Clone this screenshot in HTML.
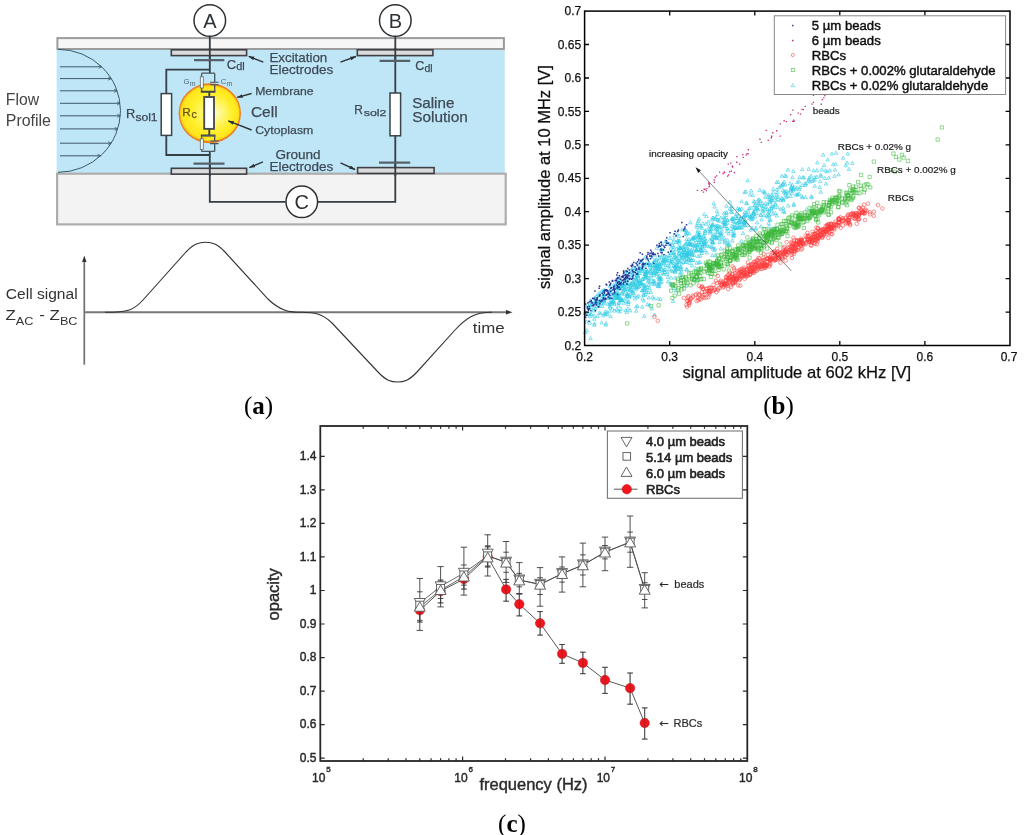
<!DOCTYPE html>
<html lang="en"><head><meta charset="utf-8"><title>Figure</title>
<style>
html,body{margin:0;padding:0;background:#fff;}
body{width:1024px;height:835px;overflow:hidden;}
svg{display:block;font-family:"Liberation Sans",Arial,sans-serif;}
.ser{font-family:"Liberation Serif","Times New Roman",serif;font-weight:bold;font-size:25px;fill:#000;}
.sch{fill:#3f4a55;}
.w{stroke:#353d44;stroke-width:1.8;fill:none;}
.tk{font-size:12px;fill:#111;stroke:#111;stroke-width:0.25px;}
.tk2{font-size:12px;fill:#262626;stroke:#262626;stroke-width:0.4px;}
</style></head><body>
<svg width="1024" height="835" viewBox="0 0 1024 835">
<defs>
<radialGradient id="cellg" cx="0.5" cy="0.5" r="0.5" fx="0.6" fy="0.5">
<stop offset="0" stop-color="#fffbc0"/><stop offset="0.35" stop-color="#fff66e"/><stop offset="0.7" stop-color="#ffee28"/><stop offset="0.93" stop-color="#ffe61c"/><stop offset="1" stop-color="#fbc41c"/>
</radialGradient>
<marker id="ah" viewBox="0 0 10 10" refX="9" refY="5" markerUnits="userSpaceOnUse" markerWidth="6.2" markerHeight="6.2" orient="auto"><path d="M0 2L10 5L0 8z" fill="#2a3034"/></marker>
<marker id="ah2" viewBox="0 0 10 10" refX="9" refY="5" markerUnits="userSpaceOnUse" markerWidth="5.8" markerHeight="5.8" orient="auto"><path d="M0 1.8L10 5L0 8.2z" fill="#1a1a1a"/></marker>
<filter id="soft" x="-2%" y="-2%" width="104%" height="104%"><feGaussianBlur stdDeviation="0.55"/></filter>
</defs>
<rect width="1024" height="835" fill="#fff"/>
<g filter="url(#soft)">

<g id="schematic">
<rect x="56.6" y="49" width="448.2" height="124" fill="#bfe6f7"/>
<rect x="57.4" y="38.1" width="446.5" height="10.9" fill="#f6f6f6" stroke="#9c9c9c" stroke-width="2"/>
<rect x="57.1" y="173.7" width="448.6" height="50.7" fill="#f3f3f3" stroke="#adadad" stroke-width="2.2"/>
<path d="M58 49.3 A62.5 61.5 0 0 1 58 172.3" fill="none" stroke="#3d5a6a" stroke-width="1"/>
<path d="M60 66.8 H101.7" stroke="#3d5a6a" stroke-width="1" fill="none"/>
<path d="M101.7 66.8 l-3 -1.6 M101.7 66.8 l-3 1.6" stroke="#3d5a6a" stroke-width="0.8" fill="none"/>
<path d="M60 78.6 H111.2" stroke="#3d5a6a" stroke-width="1" fill="none"/>
<path d="M111.2 78.6 l-3 -1.6 M111.2 78.6 l-3 1.6" stroke="#3d5a6a" stroke-width="0.8" fill="none"/>
<path d="M60 90.8 H117.1" stroke="#3d5a6a" stroke-width="1" fill="none"/>
<path d="M117.1 90.8 l-3 -1.6 M117.1 90.8 l-3 1.6" stroke="#3d5a6a" stroke-width="0.8" fill="none"/>
<path d="M60 103.3 H120" stroke="#3d5a6a" stroke-width="1" fill="none"/>
<path d="M120 103.3 l-3 -1.6 M120 103.3 l-3 1.6" stroke="#3d5a6a" stroke-width="0.8" fill="none"/>
<path d="M60 115.8 H120.3" stroke="#3d5a6a" stroke-width="1" fill="none"/>
<path d="M120.3 115.8 l-3 -1.6 M120.3 115.8 l-3 1.6" stroke="#3d5a6a" stroke-width="0.8" fill="none"/>
<path d="M60 128.9 H117.7" stroke="#3d5a6a" stroke-width="1" fill="none"/>
<path d="M117.7 128.9 l-3 -1.6 M117.7 128.9 l-3 1.6" stroke="#3d5a6a" stroke-width="0.8" fill="none"/>
<path d="M60 143.2 H111.1" stroke="#3d5a6a" stroke-width="1" fill="none"/>
<path d="M111.1 143.2 l-3 -1.6 M111.1 143.2 l-3 1.6" stroke="#3d5a6a" stroke-width="0.8" fill="none"/>
<path d="M60 155.8 H100.6" stroke="#3d5a6a" stroke-width="1" fill="none"/>
<path d="M100.6 155.8 l-3 -1.6 M100.6 155.8 l-3 1.6" stroke="#3d5a6a" stroke-width="0.8" fill="none"/>
<text x="5.8" y="105.2" font-size="16" fill="#444" textLength="33.4" lengthAdjust="spacingAndGlyphs">Flow</text>
<text x="5.8" y="125.9" font-size="16" fill="#444" textLength="45.2" lengthAdjust="spacingAndGlyphs">Profile</text>
<path class="w" d="M209.8 36 V73.2 M209.8 151.4 V201.8 H285.5 M318 201.8 H395.3 V36"/>
<path class="w" d="M209.8 69.6 H166.3 V155 H209.8"/>
<rect x="171.3" y="49.8" width="75.3" height="5.8" fill="#dadada" stroke="#3c4144" stroke-width="1.6"/>
<rect x="171.3" y="168.3" width="75.3" height="5.8" fill="#dadada" stroke="#3c4144" stroke-width="1.6"/>
<rect x="357.3" y="49.8" width="75.6" height="5.8" fill="#dadada" stroke="#3c4144" stroke-width="1.6"/>
<rect x="357.6" y="167.6" width="76.5" height="5.8" fill="#dadada" stroke="#3c4144" stroke-width="1.6"/>
<path class="w" d="M209.8 48 V62 M209.8 163 V176 M395.3 48 V62 M395.3 161 V176"/>
<path d="M194 60.2 H224.3 M193.5 163.6 H224.5 M379.6 60.8 H410.2 M379 162.6 H410.2" stroke="#56626a" stroke-width="2.2" fill="none"/>
<ellipse cx="209.8" cy="113.2" rx="31.2" ry="30" fill="#ec7f1e"/>
<ellipse cx="209.8" cy="113.2" rx="29.9" ry="28.3" fill="url(#cellg)"/>
<rect x="161.2" y="93.6" width="10.4" height="41.8" fill="#fff" stroke="#3a4248" stroke-width="1.5"/>
<rect x="390" y="93" width="10.6" height="42.8" fill="#fff" stroke="#3a4248" stroke-width="1.5"/>
<path class="w" d="M209.3 91.6 V97 M209.3 129 V135.6"/>
<rect x="204.2" y="97" width="9.8" height="31.9" fill="#fff" stroke="#4a4f50" stroke-width="1.9"/>
<path d="M201.6 73.2 H214.7 M201.6 73.2 V77 M201.6 88 V91.6 M214.7 73.2 V82 M214.7 84.8 V91.6" stroke="#46555c" stroke-width="1.3" fill="none"/>
<path d="M200.8 91.8 H215.4 M200.8 135.4 H215.4" stroke="#3c474c" stroke-width="2" fill="none"/>
<rect x="200.3" y="76.8" width="3" height="11.2" fill="#f4fafc" stroke="#5a6a70" stroke-width="0.8"/>
<path d="M210 82.2 H218.6 M210 84.8 H218.6" stroke="#46555c" stroke-width="1.1"/>
<path d="M201 135.6 H215.2 M201.6 135.6 V139 M201.6 149.4 V151.4 M214.7 135.6 V141 M214.7 143.6 V151.4 M201.6 151.4 H214.7" stroke="#46555c" stroke-width="1.3" fill="none"/>
<rect x="200.3" y="138.8" width="3" height="10.6" fill="#f4fafc" stroke="#5a6a70" stroke-width="0.8"/>
<path d="M210 141 H218.6 M210 143.6 H218.6" stroke="#46555c" stroke-width="1.1"/>
<circle cx="209.8" cy="20.5" r="15.8" fill="#fff" stroke="#2d3236" stroke-width="1.5"/>
<text x="209.8" y="27.7" font-size="20" text-anchor="middle" fill="#2d3236">A</text>
<circle cx="395.3" cy="20.5" r="15.8" fill="#fff" stroke="#2d3236" stroke-width="1.5"/>
<text x="395.3" y="27.7" font-size="20" text-anchor="middle" fill="#2d3236">B</text>
<circle cx="301.8" cy="201.8" r="15.8" fill="#fff" stroke="#2d3236" stroke-width="1.5"/>
<text x="301.8" y="209.0" font-size="20" text-anchor="middle" fill="#2d3236">C</text>
<g class="sch" stroke="#3f4a55" stroke-width="0.25">
<text x="226.8" y="68.7" font-size="13">C<tspan font-size="11" dy="1.5">dl</tspan></text>
<text x="415.3" y="69.6" font-size="12.6">C<tspan font-size="10.5" dy="2.2">dl</tspan></text>
<text x="269.4" y="62.2" font-size="13.4" textLength="57.9" lengthAdjust="spacingAndGlyphs">Excitation</text>
<text x="269.4" y="73.6" font-size="13.4" textLength="63.8" lengthAdjust="spacingAndGlyphs">Electrodes</text>
<text x="255.2" y="94.8" font-size="11.4" textLength="58.4" lengthAdjust="spacingAndGlyphs">Membrane</text>
<text x="250.9" y="117" font-size="15" textLength="26.7" lengthAdjust="spacingAndGlyphs">Cell</text>
<text x="255.2" y="133.8" font-size="11.4" textLength="58.1" lengthAdjust="spacingAndGlyphs">Cytoplasm</text>
<text x="275.4" y="159.3" font-size="13.4" textLength="45.2" lengthAdjust="spacingAndGlyphs">Ground</text>
<text x="269.4" y="171" font-size="13.4" textLength="63.8" lengthAdjust="spacingAndGlyphs">Electrodes</text>
<text x="412.2" y="108.3" font-size="14.4" textLength="42.2" lengthAdjust="spacingAndGlyphs">Saline</text>
<text x="412.2" y="122.4" font-size="14.4" textLength="55.6" lengthAdjust="spacingAndGlyphs">Solution</text>
<text x="126" y="118.3" font-size="12.8">R</text>
<text x="135.4" y="121" font-size="10.6" textLength="22.2" lengthAdjust="spacingAndGlyphs">sol1</text>
<text x="354.3" y="113.8" font-size="11.9">R</text>
<text x="363.7" y="116.3" font-size="9.4" textLength="22.8" lengthAdjust="spacingAndGlyphs">sol2</text>
<text x="182.3" y="115.6" font-size="11.8" fill="#62521e" stroke="#62521e">R<tspan font-size="10.5" dy="2.6" dx="0.6">c</tspan></text>
<text x="183.6" y="84.3" font-size="7.6" fill="#4a6470" stroke="none">G<tspan font-size="6.6" dy="1.6" dx="0.4">m</tspan></text>
<text x="220.8" y="84.3" font-size="7.6" fill="#4a6470" stroke="none">C<tspan font-size="6.6" dy="1.6" dx="0.4">m</tspan></text>
</g>
<path d="M263.3 62.2 L248.8 56.4" stroke="#2f3538" stroke-width="1.4" marker-end="url(#ah)"/>
<path d="M251.6 93.5 L237.2 97.4" stroke="#2f3538" stroke-width="1.4" marker-end="url(#ah)"/>
<path d="M251.6 130 L228.3 120.9" stroke="#2f3538" stroke-width="1.4" marker-end="url(#ah)"/>
<path d="M262.9 161.8 L249.4 167.6" stroke="#2f3538" stroke-width="1.4" marker-end="url(#ah)"/>
<path d="M340.5 62.2 L355.9 56.5" stroke="#2f3538" stroke-width="1.4" marker-end="url(#ah)"/>
<path d="M340.5 162.8 L355 169.5" stroke="#2f3538" stroke-width="1.4" marker-end="url(#ah)"/>
</g>
<g id="signal">
<path d="M84.3 364.7 V259" stroke="#707070" stroke-width="1.7" fill="none"/>
<path d="M84.3 255.5 l-2.2 6.5 h4.4 z" fill="#333"/>
<path d="M84.3 312.3 H508" stroke="#777" stroke-width="1.9" fill="none"/>
<path d="M512.5 312.3 l-6.5 -2.3 v4.6 z" fill="#333"/>
<path d="M105 312.3 C 128 312.3, 134 310, 143 300 L 186 252 C 194 243.5, 199 242.3, 205.7 242.3 C 212 242.3, 217 243.5, 225 252 L 268 299 C 280 311, 290 312.3, 302 312.3 C 314 312.3, 322 313.5, 332 323 L 378 372 C 386 380.5, 391 382, 397.6 382 C 404 382, 409 380.5, 417 372 L 455 330 C 466 318, 474 312.3, 492 312.3" fill="none" stroke="#333" stroke-width="1.1"/>
<text x="5.8" y="299" font-size="15.4" fill="#333" textLength="71.8" lengthAdjust="spacingAndGlyphs">Cell signal</text>
<text x="5.5" y="320.2" font-size="15.4" fill="#333" textLength="72" lengthAdjust="spacingAndGlyphs">Z<tspan font-size="11.5" dy="4.3">AC</tspan><tspan dy="-4.3" dx="1"> - </tspan>Z<tspan font-size="11.5" dy="4.3">BC</tspan></text>
<text x="472.8" y="332.6" font-size="15.4" fill="#333" textLength="31.8" lengthAdjust="spacingAndGlyphs">time</text>
</g>
<text class="ser" x="258.5" y="414.3" text-anchor="middle"><tspan font-weight="normal">(</tspan>a<tspan font-weight="normal">)</tspan></text>
<text class="ser" x="778.5" y="413.5" text-anchor="middle"><tspan font-weight="normal">(</tspan>b<tspan font-weight="normal">)</tspan></text>
<text class="ser" x="512" y="831.8" text-anchor="middle"><tspan font-weight="normal">(</tspan>c<tspan font-weight="normal">)</tspan></text>
<g id="scatter">
<path d="M692.1 236.7l1.7 3.1h-3.4zM652.7 295.3l1.7 3.1h-3.4zM638.8 279.7l1.7 3.1h-3.4zM686.9 245.1l1.7 3.1h-3.4zM681.7 256.3l1.7 3.1h-3.4zM613.3 294l1.7 3.1h-3.4zM721.8 227.7l1.7 3.1h-3.4zM620.5 298.8l1.7 3.1h-3.4zM676.8 256l1.7 3.1h-3.4zM765.1 207.7l1.7 3.1h-3.4zM625.5 288.3l1.7 3.1h-3.4zM614 296.3l1.7 3.1h-3.4zM687.7 239.8l1.7 3.1h-3.4zM648.9 261.6l1.7 3.1h-3.4zM622.6 297.8l1.7 3.1h-3.4zM775.5 202.1l1.7 3.1h-3.4zM596.1 300.7l1.7 3.1h-3.4zM737.2 226.2l1.7 3.1h-3.4zM768.3 194.8l1.7 3.1h-3.4zM727.5 218.3l1.7 3.1h-3.4zM629.9 288.6l1.7 3.1h-3.4zM671.2 250.2l1.7 3.1h-3.4zM696.8 223.6l1.7 3.1h-3.4zM603.3 288.8l1.7 3.1h-3.4zM796.9 185.9l1.7 3.1h-3.4zM713.2 223.2l1.7 3.1h-3.4zM712.5 240.4l1.7 3.1h-3.4zM644.5 284.8l1.7 3.1h-3.4zM710.9 225.3l1.7 3.1h-3.4zM591.5 302.6l1.7 3.1h-3.4zM694.1 235.9l1.7 3.1h-3.4zM792.8 188.9l1.7 3.1h-3.4zM754.2 203.9l1.7 3.1h-3.4zM644.2 283.5l1.7 3.1h-3.4zM685.7 242l1.7 3.1h-3.4zM672.7 243.4l1.7 3.1h-3.4zM660.9 265.5l1.7 3.1h-3.4zM699.5 233.7l1.7 3.1h-3.4zM636.3 309.1l1.7 3.1h-3.4zM619 295.7l1.7 3.1h-3.4zM718 218.2l1.7 3.1h-3.4zM714.6 205l1.7 3.1h-3.4zM631 281.6l1.7 3.1h-3.4zM704.5 242.5l1.7 3.1h-3.4zM660 276.9l1.7 3.1h-3.4zM745.1 214.2l1.7 3.1h-3.4zM735.9 214.2l1.7 3.1h-3.4zM681.1 265.3l1.7 3.1h-3.4zM718.6 224.5l1.7 3.1h-3.4zM668.9 253.6l1.7 3.1h-3.4zM616.3 284.2l1.7 3.1h-3.4zM820.9 190.2l1.7 3.1h-3.4zM683.9 247.2l1.7 3.1h-3.4zM625.5 308.6l1.7 3.1h-3.4zM690.4 220.7l1.7 3.1h-3.4zM673.9 251.2l1.7 3.1h-3.4zM629.5 294.3l1.7 3.1h-3.4zM616.5 283l1.7 3.1h-3.4zM603.6 292l1.7 3.1h-3.4zM648 279.7l1.7 3.1h-3.4zM611.8 300.6l1.7 3.1h-3.4zM603.7 294.6l1.7 3.1h-3.4zM676.1 240.5l1.7 3.1h-3.4zM756.1 226.1l1.7 3.1h-3.4zM701.1 224.8l1.7 3.1h-3.4zM627.9 284.1l1.7 3.1h-3.4zM648.7 276l1.7 3.1h-3.4zM684.8 257.8l1.7 3.1h-3.4zM633.2 279.6l1.7 3.1h-3.4zM700.1 248.9l1.7 3.1h-3.4zM702.5 248.9l1.7 3.1h-3.4zM696.6 248.3l1.7 3.1h-3.4zM755.6 227.9l1.7 3.1h-3.4zM631.2 268.6l1.7 3.1h-3.4zM661.4 277l1.7 3.1h-3.4zM667.9 275.3l1.7 3.1h-3.4zM624.3 292.6l1.7 3.1h-3.4zM646 272.5l1.7 3.1h-3.4zM741.8 206.9l1.7 3.1h-3.4zM779.2 185.5l1.7 3.1h-3.4zM751.9 214.5l1.7 3.1h-3.4zM614.2 302.5l1.7 3.1h-3.4zM710.7 229.6l1.7 3.1h-3.4zM595.2 296.5l1.7 3.1h-3.4zM638.6 268l1.7 3.1h-3.4zM656.7 271.8l1.7 3.1h-3.4zM679.9 273.6l1.7 3.1h-3.4zM777 187.8l1.7 3.1h-3.4zM773.2 187.3l1.7 3.1h-3.4zM806.1 181.9l1.7 3.1h-3.4zM609.7 295.4l1.7 3.1h-3.4zM638 282.6l1.7 3.1h-3.4zM658.6 284.7l1.7 3.1h-3.4zM761 212.9l1.7 3.1h-3.4zM686.9 251.3l1.7 3.1h-3.4zM613.1 299l1.7 3.1h-3.4zM769 224.6l1.7 3.1h-3.4zM658.2 266.4l1.7 3.1h-3.4zM603.6 289.6l1.7 3.1h-3.4zM593.9 308.9l1.7 3.1h-3.4zM712.5 233.8l1.7 3.1h-3.4zM695.2 277.4l1.7 3.1h-3.4zM593.6 306.9l1.7 3.1h-3.4zM781.6 196.4l1.7 3.1h-3.4zM674.8 268.6l1.7 3.1h-3.4zM728.1 241.6l1.7 3.1h-3.4zM725.8 222.5l1.7 3.1h-3.4zM643.8 288.9l1.7 3.1h-3.4zM639.9 266.5l1.7 3.1h-3.4zM683 253.2l1.7 3.1h-3.4zM623.5 282.9l1.7 3.1h-3.4zM704.3 240.4l1.7 3.1h-3.4zM626 299.5l1.7 3.1h-3.4zM617.7 290.3l1.7 3.1h-3.4zM731.8 224.2l1.7 3.1h-3.4zM678.5 248.4l1.7 3.1h-3.4zM598.4 304.1l1.7 3.1h-3.4zM672.9 259.6l1.7 3.1h-3.4zM656.3 257.5l1.7 3.1h-3.4zM765.2 195.3l1.7 3.1h-3.4zM829.8 168.7l1.7 3.1h-3.4zM651.8 255.4l1.7 3.1h-3.4zM595.3 300.6l1.7 3.1h-3.4zM758.2 201.8l1.7 3.1h-3.4zM684.8 243l1.7 3.1h-3.4zM636.1 272.6l1.7 3.1h-3.4zM666.1 255.2l1.7 3.1h-3.4zM685.4 250.9l1.7 3.1h-3.4zM645.7 273.7l1.7 3.1h-3.4zM671.9 257.5l1.7 3.1h-3.4zM754.2 211.7l1.7 3.1h-3.4zM705.1 236.9l1.7 3.1h-3.4zM647.3 270.7l1.7 3.1h-3.4zM618.7 301.2l1.7 3.1h-3.4zM738.8 248l1.7 3.1h-3.4zM679.2 251.4l1.7 3.1h-3.4zM649.6 286.4l1.7 3.1h-3.4zM596.8 301.4l1.7 3.1h-3.4zM659.2 264.6l1.7 3.1h-3.4zM621.1 280.5l1.7 3.1h-3.4zM736.4 216.8l1.7 3.1h-3.4zM698.5 247.5l1.7 3.1h-3.4zM622 298.5l1.7 3.1h-3.4zM745.4 220.7l1.7 3.1h-3.4zM621.7 291.6l1.7 3.1h-3.4zM711.2 267.1l1.7 3.1h-3.4zM646 274.6l1.7 3.1h-3.4zM701.4 240.4l1.7 3.1h-3.4zM655.7 264.1l1.7 3.1h-3.4zM659.7 264.4l1.7 3.1h-3.4zM632.7 285.3l1.7 3.1h-3.4zM636.2 286.1l1.7 3.1h-3.4zM755 214.8l1.7 3.1h-3.4zM793.8 203.4l1.7 3.1h-3.4zM783.5 197.8l1.7 3.1h-3.4zM729.9 200.2l1.7 3.1h-3.4zM703.8 233.1l1.7 3.1h-3.4zM664 258l1.7 3.1h-3.4zM645.3 286.1l1.7 3.1h-3.4zM716 215.6l1.7 3.1h-3.4zM669.2 267.3l1.7 3.1h-3.4zM695.7 234.8l1.7 3.1h-3.4zM732.8 225.1l1.7 3.1h-3.4zM623.8 301.2l1.7 3.1h-3.4zM710.4 227.2l1.7 3.1h-3.4zM667.2 259.1l1.7 3.1h-3.4zM690.3 243.2l1.7 3.1h-3.4zM770.1 200.2l1.7 3.1h-3.4zM792.2 191.2l1.7 3.1h-3.4zM780.4 198.5l1.7 3.1h-3.4zM731.9 216.5l1.7 3.1h-3.4zM735.6 225.4l1.7 3.1h-3.4zM644.7 272.7l1.7 3.1h-3.4zM799 191.8l1.7 3.1h-3.4zM661.5 280l1.7 3.1h-3.4zM586.7 312.6l1.7 3.1h-3.4zM828.7 176l1.7 3.1h-3.4zM614.6 291.2l1.7 3.1h-3.4zM684.9 228.3l1.7 3.1h-3.4zM680 267.3l1.7 3.1h-3.4zM590.9 305.4l1.7 3.1h-3.4zM769.7 217.4l1.7 3.1h-3.4zM688.8 258.1l1.7 3.1h-3.4zM704.4 242.7l1.7 3.1h-3.4zM784.4 210.3l1.7 3.1h-3.4zM729.2 242.4l1.7 3.1h-3.4zM651 273.3l1.7 3.1h-3.4zM643.2 277l1.7 3.1h-3.4zM622.2 286.5l1.7 3.1h-3.4zM722.2 237.6l1.7 3.1h-3.4zM656.7 246.3l1.7 3.1h-3.4zM635.6 281.5l1.7 3.1h-3.4zM700.3 254l1.7 3.1h-3.4zM633.5 266.4l1.7 3.1h-3.4zM657.5 263.6l1.7 3.1h-3.4zM676.1 260.3l1.7 3.1h-3.4zM723.7 215.5l1.7 3.1h-3.4zM610.7 292.3l1.7 3.1h-3.4zM609.4 289.8l1.7 3.1h-3.4zM603.9 298.2l1.7 3.1h-3.4zM670.4 281.3l1.7 3.1h-3.4zM613.7 283.1l1.7 3.1h-3.4zM632.5 280.6l1.7 3.1h-3.4zM694.1 253.4l1.7 3.1h-3.4zM721.2 233.9l1.7 3.1h-3.4zM782.7 182.2l1.7 3.1h-3.4zM726.8 229.7l1.7 3.1h-3.4zM765.5 201.5l1.7 3.1h-3.4zM701.8 226.4l1.7 3.1h-3.4zM739.2 219.8l1.7 3.1h-3.4zM724.7 240.9l1.7 3.1h-3.4zM817 168.6l1.7 3.1h-3.4zM638.2 268.9l1.7 3.1h-3.4zM686.3 232.9l1.7 3.1h-3.4zM715 217.4l1.7 3.1h-3.4zM619.1 286l1.7 3.1h-3.4zM662 253.6l1.7 3.1h-3.4zM673 240.7l1.7 3.1h-3.4zM618.8 296.2l1.7 3.1h-3.4zM746.9 201.7l1.7 3.1h-3.4zM754.7 200.3l1.7 3.1h-3.4zM666.7 240l1.7 3.1h-3.4zM693 236.5l1.7 3.1h-3.4zM627.7 292.6l1.7 3.1h-3.4zM654.4 258.8l1.7 3.1h-3.4zM635.5 276.5l1.7 3.1h-3.4zM688.8 237.7l1.7 3.1h-3.4zM620.4 284.3l1.7 3.1h-3.4zM631.8 272.8l1.7 3.1h-3.4zM732.3 217.7l1.7 3.1h-3.4zM700.7 247.8l1.7 3.1h-3.4zM700.9 236.1l1.7 3.1h-3.4zM655.9 258.4l1.7 3.1h-3.4zM745.6 219.2l1.7 3.1h-3.4zM743.6 222.1l1.7 3.1h-3.4zM696.6 247.7l1.7 3.1h-3.4zM801.9 194.4l1.7 3.1h-3.4zM635.9 277.3l1.7 3.1h-3.4zM739.6 207.4l1.7 3.1h-3.4zM685.7 231.1l1.7 3.1h-3.4zM670 236.4l1.7 3.1h-3.4zM724.8 216.7l1.7 3.1h-3.4zM712.6 222.4l1.7 3.1h-3.4zM689.4 231.8l1.7 3.1h-3.4zM635.7 284.2l1.7 3.1h-3.4zM791.4 186l1.7 3.1h-3.4zM703.7 234.7l1.7 3.1h-3.4zM657.9 267.6l1.7 3.1h-3.4zM642.3 277.4l1.7 3.1h-3.4zM642.2 288.9l1.7 3.1h-3.4zM669.3 264.5l1.7 3.1h-3.4zM618.9 301l1.7 3.1h-3.4zM698.1 234.7l1.7 3.1h-3.4zM633 280.8l1.7 3.1h-3.4zM785.4 193.2l1.7 3.1h-3.4zM759.3 203.4l1.7 3.1h-3.4zM598.1 300.2l1.7 3.1h-3.4zM632.8 291.4l1.7 3.1h-3.4zM618.6 292l1.7 3.1h-3.4zM734.1 233.6l1.7 3.1h-3.4zM590 321.1l1.7 3.1h-3.4zM806.7 207.6l1.7 3.1h-3.4zM781.9 174.1l1.7 3.1h-3.4zM657.8 284.3l1.7 3.1h-3.4zM785 189.5l1.7 3.1h-3.4zM636.1 267.2l1.7 3.1h-3.4zM635.9 287.7l1.7 3.1h-3.4zM596.5 294.5l1.7 3.1h-3.4zM640.8 259.2l1.7 3.1h-3.4zM661.6 261l1.7 3.1h-3.4zM702.5 245l1.7 3.1h-3.4zM670.1 253.6l1.7 3.1h-3.4zM661.9 267.8l1.7 3.1h-3.4zM671.1 283.3l1.7 3.1h-3.4zM642.2 288.4l1.7 3.1h-3.4zM747.6 178.7l1.7 3.1h-3.4zM719.6 233.7l1.7 3.1h-3.4zM782.5 197.1l1.7 3.1h-3.4zM767.7 214.9l1.7 3.1h-3.4zM630.5 283.9l1.7 3.1h-3.4zM641.8 281.9l1.7 3.1h-3.4zM769.6 207.4l1.7 3.1h-3.4zM628.4 302.5l1.7 3.1h-3.4zM646.5 288.5l1.7 3.1h-3.4zM717 235.2l1.7 3.1h-3.4zM589.7 303.2l1.7 3.1h-3.4zM679.4 241.9l1.7 3.1h-3.4zM647 275l1.7 3.1h-3.4zM704.9 248.6l1.7 3.1h-3.4zM683.2 250.1l1.7 3.1h-3.4zM728.5 243l1.7 3.1h-3.4zM640 278.6l1.7 3.1h-3.4zM823.1 153.1l1.7 3.1h-3.4zM594.9 300.6l1.7 3.1h-3.4zM630.8 283.7l1.7 3.1h-3.4zM691.5 258.3l1.7 3.1h-3.4zM719.4 236.2l1.7 3.1h-3.4zM671.2 261.6l1.7 3.1h-3.4zM739.2 207.2l1.7 3.1h-3.4zM653.3 279.4l1.7 3.1h-3.4zM611.6 298.9l1.7 3.1h-3.4zM609.9 296.1l1.7 3.1h-3.4zM763.6 209.6l1.7 3.1h-3.4zM714.5 248.7l1.7 3.1h-3.4zM753.6 212.2l1.7 3.1h-3.4zM646 271.3l1.7 3.1h-3.4zM724.7 221.2l1.7 3.1h-3.4zM690.8 256.6l1.7 3.1h-3.4zM812.5 179.3l1.7 3.1h-3.4zM627.9 300.2l1.7 3.1h-3.4zM673.1 247.6l1.7 3.1h-3.4zM659.2 274.1l1.7 3.1h-3.4zM765.4 205.2l1.7 3.1h-3.4zM616.9 295.8l1.7 3.1h-3.4zM678.8 260l1.7 3.1h-3.4zM825.9 182l1.7 3.1h-3.4zM680.3 270.8l1.7 3.1h-3.4zM599 291.4l1.7 3.1h-3.4zM638.3 274.6l1.7 3.1h-3.4zM695.8 238.6l1.7 3.1h-3.4zM750.1 192.8l1.7 3.1h-3.4zM711.9 236.3l1.7 3.1h-3.4zM627.8 277.5l1.7 3.1h-3.4zM669.3 256.4l1.7 3.1h-3.4zM776.7 180.4l1.7 3.1h-3.4zM749.7 212.8l1.7 3.1h-3.4zM723.1 220.8l1.7 3.1h-3.4zM740.3 217.8l1.7 3.1h-3.4zM686.8 246.5l1.7 3.1h-3.4zM596.6 294.8l1.7 3.1h-3.4zM594.5 321.9l1.7 3.1h-3.4zM599.9 299.5l1.7 3.1h-3.4zM659.2 269.5l1.7 3.1h-3.4zM585 311.1l1.7 3.1h-3.4zM607.2 312.7l1.7 3.1h-3.4zM686.8 241.8l1.7 3.1h-3.4zM620.5 298l1.7 3.1h-3.4zM630.5 282l1.7 3.1h-3.4zM752.5 214.1l1.7 3.1h-3.4zM657.9 282.7l1.7 3.1h-3.4zM751.3 217.3l1.7 3.1h-3.4zM603.3 313.8l1.7 3.1h-3.4zM676.4 263.6l1.7 3.1h-3.4zM706.2 239.5l1.7 3.1h-3.4zM737.8 220.8l1.7 3.1h-3.4zM634.6 281.9l1.7 3.1h-3.4zM752.2 217.5l1.7 3.1h-3.4zM684.5 227.9l1.7 3.1h-3.4zM700 235.9l1.7 3.1h-3.4zM744.6 223.7l1.7 3.1h-3.4zM715 236.1l1.7 3.1h-3.4zM686 254.1l1.7 3.1h-3.4zM737.3 221.2l1.7 3.1h-3.4zM720.7 232.3l1.7 3.1h-3.4zM637.4 285.5l1.7 3.1h-3.4zM746 189.9l1.7 3.1h-3.4zM656.9 265.4l1.7 3.1h-3.4zM733.5 227.7l1.7 3.1h-3.4zM642.8 277.6l1.7 3.1h-3.4zM727.6 226.6l1.7 3.1h-3.4zM697.5 231.1l1.7 3.1h-3.4zM724.3 222.7l1.7 3.1h-3.4zM599 293.4l1.7 3.1h-3.4zM751.2 238l1.7 3.1h-3.4zM652.7 266.3l1.7 3.1h-3.4zM764.5 190.3l1.7 3.1h-3.4zM752.9 193.5l1.7 3.1h-3.4zM799.3 187.5l1.7 3.1h-3.4zM770.3 218.5l1.7 3.1h-3.4zM737.2 216.4l1.7 3.1h-3.4zM769.1 209.8l1.7 3.1h-3.4zM689.5 261.2l1.7 3.1h-3.4zM615.7 296l1.7 3.1h-3.4zM699.7 230.6l1.7 3.1h-3.4zM792.4 183.3l1.7 3.1h-3.4zM741.8 225.5l1.7 3.1h-3.4zM783.4 209.6l1.7 3.1h-3.4zM750.7 215.2l1.7 3.1h-3.4zM597.6 314.5l1.7 3.1h-3.4zM670 242.3l1.7 3.1h-3.4zM790.7 187.3l1.7 3.1h-3.4zM697 225.5l1.7 3.1h-3.4zM592.3 302.1l1.7 3.1h-3.4zM595.8 300.3l1.7 3.1h-3.4zM655.2 262.8l1.7 3.1h-3.4zM770.3 229.3l1.7 3.1h-3.4zM649.1 261.1l1.7 3.1h-3.4zM653.9 260.2l1.7 3.1h-3.4zM687.4 252.4l1.7 3.1h-3.4zM608.1 295.4l1.7 3.1h-3.4zM679.6 246.5l1.7 3.1h-3.4zM729.9 206.9l1.7 3.1h-3.4zM723.5 220l1.7 3.1h-3.4zM604.1 299l1.7 3.1h-3.4zM656.7 272.2l1.7 3.1h-3.4zM678 267.2l1.7 3.1h-3.4zM768.3 210.8l1.7 3.1h-3.4zM795.8 187.5l1.7 3.1h-3.4zM673.9 264.3l1.7 3.1h-3.4zM744 213.6l1.7 3.1h-3.4zM715.9 225l1.7 3.1h-3.4zM734.7 220.6l1.7 3.1h-3.4zM692.3 242.4l1.7 3.1h-3.4zM610 288.6l1.7 3.1h-3.4zM760.3 199.3l1.7 3.1h-3.4zM622.4 290.8l1.7 3.1h-3.4zM612.1 289.9l1.7 3.1h-3.4zM741.4 239.3l1.7 3.1h-3.4zM662.3 242.3l1.7 3.1h-3.4zM619.8 309.7l1.7 3.1h-3.4zM690.1 240.3l1.7 3.1h-3.4zM671.7 259.8l1.7 3.1h-3.4zM615.5 282.6l1.7 3.1h-3.4zM699.7 237.9l1.7 3.1h-3.4zM707.1 243.9l1.7 3.1h-3.4zM590.3 298.8l1.7 3.1h-3.4zM601 299.6l1.7 3.1h-3.4zM598.9 299.6l1.7 3.1h-3.4zM682.5 250.2l1.7 3.1h-3.4zM827.7 157.9l1.7 3.1h-3.4zM692 237.6l1.7 3.1h-3.4zM750.1 214.7l1.7 3.1h-3.4zM648.3 290.7l1.7 3.1h-3.4zM697.3 243.4l1.7 3.1h-3.4zM720.6 225.2l1.7 3.1h-3.4zM778.3 180.2l1.7 3.1h-3.4zM632.1 276l1.7 3.1h-3.4zM701.8 241.1l1.7 3.1h-3.4zM726.5 204.2l1.7 3.1h-3.4zM820.7 173.1l1.7 3.1h-3.4zM701.7 238.7l1.7 3.1h-3.4zM616.5 291.4l1.7 3.1h-3.4zM769.2 213.6l1.7 3.1h-3.4zM625.3 270.3l1.7 3.1h-3.4zM649.9 265.2l1.7 3.1h-3.4zM689.2 250.5l1.7 3.1h-3.4zM650.8 290.3l1.7 3.1h-3.4zM809.7 180l1.7 3.1h-3.4zM764.8 191.2l1.7 3.1h-3.4zM660.6 275.7l1.7 3.1h-3.4zM663.7 272.1l1.7 3.1h-3.4zM624.5 284.9l1.7 3.1h-3.4zM609.7 309.1l1.7 3.1h-3.4zM645.3 292.9l1.7 3.1h-3.4zM638.6 284.5l1.7 3.1h-3.4zM686.3 253l1.7 3.1h-3.4zM704.6 244.1l1.7 3.1h-3.4zM716 236.1l1.7 3.1h-3.4zM674.2 250.7l1.7 3.1h-3.4zM813.1 177.9l1.7 3.1h-3.4zM653.9 273.7l1.7 3.1h-3.4zM614.4 296l1.7 3.1h-3.4zM631.4 270.4l1.7 3.1h-3.4zM661 247.7l1.7 3.1h-3.4zM604.4 288.2l1.7 3.1h-3.4zM716.2 224l1.7 3.1h-3.4zM676 288.9l1.7 3.1h-3.4zM692 251l1.7 3.1h-3.4zM634.6 285.5l1.7 3.1h-3.4zM618.4 285.7l1.7 3.1h-3.4zM629.3 293.1l1.7 3.1h-3.4zM661.4 247.9l1.7 3.1h-3.4zM719.5 225.6l1.7 3.1h-3.4zM638.9 285.1l1.7 3.1h-3.4zM778 195l1.7 3.1h-3.4zM617.7 296.1l1.7 3.1h-3.4zM675.2 266.2l1.7 3.1h-3.4zM761.7 204l1.7 3.1h-3.4zM716.9 236.8l1.7 3.1h-3.4zM724.8 239.3l1.7 3.1h-3.4zM644.8 283l1.7 3.1h-3.4zM637.6 280.7l1.7 3.1h-3.4zM614.4 309l1.7 3.1h-3.4zM632.1 271.1l1.7 3.1h-3.4zM741.1 226.2l1.7 3.1h-3.4zM699.3 233.1l1.7 3.1h-3.4zM715 246.8l1.7 3.1h-3.4zM652.9 263.5l1.7 3.1h-3.4zM665.6 239.3l1.7 3.1h-3.4zM845.7 163.7l1.7 3.1h-3.4zM726.9 243.1l1.7 3.1h-3.4zM743.9 215l1.7 3.1h-3.4zM717.6 212.6l1.7 3.1h-3.4zM712.3 253.7l1.7 3.1h-3.4zM709.5 224l1.7 3.1h-3.4zM814.8 178l1.7 3.1h-3.4zM720.3 231l1.7 3.1h-3.4zM651.2 276.6l1.7 3.1h-3.4zM588.8 305.7l1.7 3.1h-3.4zM626.1 276.3l1.7 3.1h-3.4zM746.3 210.6l1.7 3.1h-3.4zM687 267.8l1.7 3.1h-3.4zM724.2 236.1l1.7 3.1h-3.4zM705.1 229.8l1.7 3.1h-3.4zM680.3 246l1.7 3.1h-3.4zM741.6 199.6l1.7 3.1h-3.4zM711.5 227.2l1.7 3.1h-3.4zM604.1 292.6l1.7 3.1h-3.4zM604.6 300l1.7 3.1h-3.4zM771.6 193.6l1.7 3.1h-3.4zM768.5 192.9l1.7 3.1h-3.4zM645.3 286.1l1.7 3.1h-3.4zM641.8 267.1l1.7 3.1h-3.4zM657.3 262.3l1.7 3.1h-3.4zM730.9 229.2l1.7 3.1h-3.4zM601.4 297l1.7 3.1h-3.4zM627.9 306.9l1.7 3.1h-3.4zM719.5 240.3l1.7 3.1h-3.4zM603.4 293.2l1.7 3.1h-3.4zM802.4 195.8l1.7 3.1h-3.4zM785.1 182.9l1.7 3.1h-3.4zM653.6 270.7l1.7 3.1h-3.4zM747.5 213.5l1.7 3.1h-3.4zM744.7 210.6l1.7 3.1h-3.4zM745.9 213.1l1.7 3.1h-3.4zM692.2 247.2l1.7 3.1h-3.4zM686.9 254l1.7 3.1h-3.4zM598.6 302.5l1.7 3.1h-3.4zM642 259.7l1.7 3.1h-3.4zM661.4 255.4l1.7 3.1h-3.4zM699 217.1l1.7 3.1h-3.4zM656.1 263.4l1.7 3.1h-3.4zM658.6 267l1.7 3.1h-3.4zM793.8 202.2l1.7 3.1h-3.4zM615.5 284.3l1.7 3.1h-3.4zM634.8 283.1l1.7 3.1h-3.4zM668.6 242l1.7 3.1h-3.4zM753.9 199.3l1.7 3.1h-3.4zM623 283.2l1.7 3.1h-3.4zM758.2 201.7l1.7 3.1h-3.4zM627.6 280.1l1.7 3.1h-3.4zM812 195.7l1.7 3.1h-3.4zM739.7 222.9l1.7 3.1h-3.4zM694.8 244.7l1.7 3.1h-3.4zM732.4 217.5l1.7 3.1h-3.4zM712.5 237.3l1.7 3.1h-3.4zM640.1 281.2l1.7 3.1h-3.4zM797.6 192.7l1.7 3.1h-3.4zM678.4 252.6l1.7 3.1h-3.4zM657.8 264.5l1.7 3.1h-3.4zM634.7 271.3l1.7 3.1h-3.4zM739.6 208.3l1.7 3.1h-3.4zM604.3 298.1l1.7 3.1h-3.4zM738.4 214.1l1.7 3.1h-3.4zM624.9 287l1.7 3.1h-3.4zM626.3 281.4l1.7 3.1h-3.4zM621 307.2l1.7 3.1h-3.4zM758.1 207.9l1.7 3.1h-3.4zM716.7 226.7l1.7 3.1h-3.4zM674.9 265.2l1.7 3.1h-3.4zM680.8 247l1.7 3.1h-3.4zM687.4 231.2l1.7 3.1h-3.4zM679.8 259.9l1.7 3.1h-3.4zM698.3 270.5l1.7 3.1h-3.4zM683.9 250.8l1.7 3.1h-3.4zM691 258.6l1.7 3.1h-3.4zM638.6 262.9l1.7 3.1h-3.4zM610.1 300.7l1.7 3.1h-3.4zM636.7 265.2l1.7 3.1h-3.4zM645.2 272.2l1.7 3.1h-3.4zM735.4 226.2l1.7 3.1h-3.4zM756.8 211.5l1.7 3.1h-3.4zM632.5 289.4l1.7 3.1h-3.4zM809.5 175.8l1.7 3.1h-3.4zM624.3 273.9l1.7 3.1h-3.4zM688.6 251.6l1.7 3.1h-3.4zM678.8 245.3l1.7 3.1h-3.4zM654.4 282.6l1.7 3.1h-3.4zM683 245.7l1.7 3.1h-3.4zM676.8 231.6l1.7 3.1h-3.4zM675 276.1l1.7 3.1h-3.4zM678.8 239.3l1.7 3.1h-3.4zM697.6 229.2l1.7 3.1h-3.4zM605.7 309.9l1.7 3.1h-3.4zM621.1 298.5l1.7 3.1h-3.4zM688.3 257.6l1.7 3.1h-3.4zM726.2 213.5l1.7 3.1h-3.4zM696.8 244.2l1.7 3.1h-3.4zM686.4 248.5l1.7 3.1h-3.4zM650.6 263.5l1.7 3.1h-3.4zM637.9 274l1.7 3.1h-3.4zM637.1 278.8l1.7 3.1h-3.4zM684.8 251.8l1.7 3.1h-3.4zM758.2 198.2l1.7 3.1h-3.4zM688.2 254.1l1.7 3.1h-3.4zM679 234.3l1.7 3.1h-3.4zM657.4 269.4l1.7 3.1h-3.4zM775.4 211.5l1.7 3.1h-3.4zM665.8 254.6l1.7 3.1h-3.4zM610.6 287.3l1.7 3.1h-3.4zM758.5 237.9l1.7 3.1h-3.4zM701.1 235.6l1.7 3.1h-3.4zM715.3 253.6l1.7 3.1h-3.4zM737.9 226l1.7 3.1h-3.4zM646.9 256.6l1.7 3.1h-3.4zM658.1 275.7l1.7 3.1h-3.4zM724.8 217l1.7 3.1h-3.4zM673.7 263.7l1.7 3.1h-3.4zM674.6 233.7l1.7 3.1h-3.4zM695.1 244.9l1.7 3.1h-3.4zM772.8 212l1.7 3.1h-3.4zM648.5 283.2l1.7 3.1h-3.4zM589.1 312.2l1.7 3.1h-3.4zM659.3 261.9l1.7 3.1h-3.4zM650.1 269.8l1.7 3.1h-3.4zM799.6 175.4l1.7 3.1h-3.4zM645.4 269.5l1.7 3.1h-3.4zM623 286.1l1.7 3.1h-3.4zM717.6 227.5l1.7 3.1h-3.4zM646.4 270.5l1.7 3.1h-3.4zM770.9 198.4l1.7 3.1h-3.4zM643.5 262.3l1.7 3.1h-3.4zM755.1 203.4l1.7 3.1h-3.4zM655.2 270.8l1.7 3.1h-3.4zM668 279.8l1.7 3.1h-3.4zM688.2 252.7l1.7 3.1h-3.4zM690 241.9l1.7 3.1h-3.4zM654.5 313l1.7 3.1h-3.4zM627.3 287.5l1.7 3.1h-3.4zM662.5 258.9l1.7 3.1h-3.4zM745 223.6l1.7 3.1h-3.4zM686.4 260l1.7 3.1h-3.4zM645.6 254.9l1.7 3.1h-3.4zM677.9 238.6l1.7 3.1h-3.4zM767.4 202.4l1.7 3.1h-3.4zM717.4 217.8l1.7 3.1h-3.4zM717 209.2l1.7 3.1h-3.4zM667.4 270.4l1.7 3.1h-3.4zM664.7 270.3l1.7 3.1h-3.4zM665.7 263.7l1.7 3.1h-3.4zM614.3 301.2l1.7 3.1h-3.4zM805.2 181.5l1.7 3.1h-3.4zM599.6 310.8l1.7 3.1h-3.4zM650.9 267.5l1.7 3.1h-3.4zM792.5 175.6l1.7 3.1h-3.4zM744 214.9l1.7 3.1h-3.4zM630.8 287.7l1.7 3.1h-3.4zM594.2 314l1.7 3.1h-3.4zM643.3 266.4l1.7 3.1h-3.4zM629.8 287.7l1.7 3.1h-3.4zM679.3 249.7l1.7 3.1h-3.4zM630.7 284.9l1.7 3.1h-3.4zM663.3 261.1l1.7 3.1h-3.4zM685.6 250.2l1.7 3.1h-3.4zM612.5 300.4l1.7 3.1h-3.4zM703.8 242.3l1.7 3.1h-3.4zM790.9 188.7l1.7 3.1h-3.4zM739.4 220.6l1.7 3.1h-3.4zM654.5 281.3l1.7 3.1h-3.4zM734.4 226.2l1.7 3.1h-3.4zM647.7 285.4l1.7 3.1h-3.4zM659.6 263.2l1.7 3.1h-3.4zM754 209.6l1.7 3.1h-3.4zM618.7 283.9l1.7 3.1h-3.4zM591.1 312.1l1.7 3.1h-3.4zM679.4 254l1.7 3.1h-3.4zM680.4 265.1l1.7 3.1h-3.4zM626.7 310.3l1.7 3.1h-3.4zM757.4 206.1l1.7 3.1h-3.4zM647.3 302.6l1.7 3.1h-3.4zM743 231.4l1.7 3.1h-3.4zM676.3 267.1l1.7 3.1h-3.4zM619.9 284.7l1.7 3.1h-3.4zM652 282l1.7 3.1h-3.4zM717.3 230l1.7 3.1h-3.4zM743.2 220.8l1.7 3.1h-3.4zM659.7 284.1l1.7 3.1h-3.4zM788.2 203.8l1.7 3.1h-3.4zM772.6 198.8l1.7 3.1h-3.4zM769.4 197.4l1.7 3.1h-3.4zM693.6 235.7l1.7 3.1h-3.4zM632.4 266.8l1.7 3.1h-3.4zM733.1 219.5l1.7 3.1h-3.4zM626 282.5l1.7 3.1h-3.4zM666.6 258.8l1.7 3.1h-3.4zM674.5 253l1.7 3.1h-3.4zM691.8 252.7l1.7 3.1h-3.4zM814.7 184.1l1.7 3.1h-3.4zM686.6 229.1l1.7 3.1h-3.4zM768.8 221.3l1.7 3.1h-3.4zM622.9 284.7l1.7 3.1h-3.4zM638.6 271.2l1.7 3.1h-3.4zM588.5 305.5l1.7 3.1h-3.4zM706.8 250.9l1.7 3.1h-3.4zM633.8 282.5l1.7 3.1h-3.4zM645.6 275.2l1.7 3.1h-3.4zM753.1 216.1l1.7 3.1h-3.4zM714.1 235l1.7 3.1h-3.4zM617.5 296.4l1.7 3.1h-3.4zM766.4 213.9l1.7 3.1h-3.4zM639.7 271.4l1.7 3.1h-3.4zM696.6 261.1l1.7 3.1h-3.4zM658.3 259.7l1.7 3.1h-3.4zM738.8 225.4l1.7 3.1h-3.4zM587.6 302.8l1.7 3.1h-3.4zM615.8 293.2l1.7 3.1h-3.4zM704.9 231.5l1.7 3.1h-3.4zM607.2 310.7l1.7 3.1h-3.4zM733.2 233.4l1.7 3.1h-3.4zM700 249l1.7 3.1h-3.4zM675.7 257l1.7 3.1h-3.4zM641.5 268.8l1.7 3.1h-3.4zM703 221.6l1.7 3.1h-3.4zM679.1 258.6l1.7 3.1h-3.4zM670 258.3l1.7 3.1h-3.4zM757.1 220.8l1.7 3.1h-3.4zM651.8 306.9l1.7 3.1h-3.4zM771.8 208.6l1.7 3.1h-3.4zM631.7 290l1.7 3.1h-3.4zM761.6 217.8l1.7 3.1h-3.4zM605.6 323.1l1.7 3.1h-3.4zM717.7 224.2l1.7 3.1h-3.4zM690.9 252.3l1.7 3.1h-3.4zM783.2 206.2l1.7 3.1h-3.4zM786.9 189.7l1.7 3.1h-3.4zM705.6 240.6l1.7 3.1h-3.4zM724.5 220.2l1.7 3.1h-3.4zM625.6 296.1l1.7 3.1h-3.4zM589.9 314.5l1.7 3.1h-3.4zM644.1 287.5l1.7 3.1h-3.4zM628 287.1l1.7 3.1h-3.4zM675.3 264.1l1.7 3.1h-3.4zM686.3 267.7l1.7 3.1h-3.4zM712.5 245.3l1.7 3.1h-3.4zM655.1 265.9l1.7 3.1h-3.4zM617.5 279.7l1.7 3.1h-3.4zM708.4 220l1.7 3.1h-3.4zM647.3 269.7l1.7 3.1h-3.4zM626.9 269.6l1.7 3.1h-3.4zM712.8 240.3l1.7 3.1h-3.4zM715.5 227.8l1.7 3.1h-3.4zM769.4 195.8l1.7 3.1h-3.4zM595.5 306.4l1.7 3.1h-3.4zM771.5 204.5l1.7 3.1h-3.4zM691.3 248.5l1.7 3.1h-3.4zM659.1 277.4l1.7 3.1h-3.4zM667 272.4l1.7 3.1h-3.4zM620 294.2l1.7 3.1h-3.4zM681.1 267.1l1.7 3.1h-3.4zM750.9 206l1.7 3.1h-3.4zM654 296.9l1.7 3.1h-3.4zM697.5 221.3l1.7 3.1h-3.4zM712 218l1.7 3.1h-3.4zM686.6 237.6l1.7 3.1h-3.4zM724.7 224.6l1.7 3.1h-3.4zM602.2 304.4l1.7 3.1h-3.4zM659.2 256.7l1.7 3.1h-3.4zM636.3 278l1.7 3.1h-3.4zM621.6 282l1.7 3.1h-3.4zM728.7 231.9l1.7 3.1h-3.4zM677.2 260.4l1.7 3.1h-3.4zM624.6 287.8l1.7 3.1h-3.4zM720.7 246.8l1.7 3.1h-3.4zM641.8 283.8l1.7 3.1h-3.4zM698 238.2l1.7 3.1h-3.4zM619.3 294.7l1.7 3.1h-3.4zM641 281.2l1.7 3.1h-3.4zM643.3 263.7l1.7 3.1h-3.4zM727.2 227l1.7 3.1h-3.4zM673.5 245l1.7 3.1h-3.4zM644.3 314.2l1.7 3.1h-3.4zM776.6 193l1.7 3.1h-3.4zM636.8 273.2l1.7 3.1h-3.4zM707 262.1l1.7 3.1h-3.4zM739.8 225.4l1.7 3.1h-3.4zM797.2 180.6l1.7 3.1h-3.4zM600.6 311.8l1.7 3.1h-3.4zM805.6 195.4l1.7 3.1h-3.4zM695 235.5l1.7 3.1h-3.4zM743.9 220.6l1.7 3.1h-3.4zM709.8 229.2l1.7 3.1h-3.4zM744.4 221.6l1.7 3.1h-3.4zM618.9 286l1.7 3.1h-3.4zM673.8 237.8l1.7 3.1h-3.4zM793.8 185.3l1.7 3.1h-3.4zM642.5 297l1.7 3.1h-3.4zM645.6 269.7l1.7 3.1h-3.4zM596.4 304.2l1.7 3.1h-3.4zM774.1 205.5l1.7 3.1h-3.4zM751.2 189l1.7 3.1h-3.4zM646 290.6l1.7 3.1h-3.4zM763.4 189.6l1.7 3.1h-3.4zM698.1 254.4l1.7 3.1h-3.4zM786 174.5l1.7 3.1h-3.4zM824.9 176.4l1.7 3.1h-3.4zM658.7 280.3l1.7 3.1h-3.4zM670.5 260.5l1.7 3.1h-3.4zM802.1 183.4l1.7 3.1h-3.4zM619.5 285.7l1.7 3.1h-3.4zM700.1 223.8l1.7 3.1h-3.4zM733.2 231.8l1.7 3.1h-3.4zM619.9 283l1.7 3.1h-3.4zM699 233.6l1.7 3.1h-3.4zM681.9 253.4l1.7 3.1h-3.4zM681.7 261.9l1.7 3.1h-3.4zM677.2 263.6l1.7 3.1h-3.4zM688.9 242l1.7 3.1h-3.4zM679.7 239l1.7 3.1h-3.4zM635 297l1.7 3.1h-3.4zM618.5 303.9l1.7 3.1h-3.4zM759.8 188.3l1.7 3.1h-3.4zM628.8 300.1l1.7 3.1h-3.4zM724.4 224.2l1.7 3.1h-3.4zM748.2 223.6l1.7 3.1h-3.4zM774.7 226.1l1.7 3.1h-3.4zM674.1 255.6l1.7 3.1h-3.4zM721.8 231.4l1.7 3.1h-3.4zM616.6 278.9l1.7 3.1h-3.4zM667.9 263.6l1.7 3.1h-3.4zM712.3 223.8l1.7 3.1h-3.4zM649.8 262.6l1.7 3.1h-3.4zM683.8 254.3l1.7 3.1h-3.4zM638.6 294.1l1.7 3.1h-3.4zM787.9 168.1l1.7 3.1h-3.4zM676.4 264l1.7 3.1h-3.4zM601.4 301.7l1.7 3.1h-3.4zM783.4 198.7l1.7 3.1h-3.4zM676.3 256l1.7 3.1h-3.4zM676.6 267.8l1.7 3.1h-3.4zM727.4 218.5l1.7 3.1h-3.4zM790 181.7l1.7 3.1h-3.4zM787.5 194.4l1.7 3.1h-3.4zM752.1 226.4l1.7 3.1h-3.4zM698.7 240.5l1.7 3.1h-3.4zM594.2 317.2l1.7 3.1h-3.4zM693.6 249.5l1.7 3.1h-3.4zM641.4 266.3l1.7 3.1h-3.4zM682.3 227.8l1.7 3.1h-3.4zM654.2 265.1l1.7 3.1h-3.4zM627.6 294.2l1.7 3.1h-3.4zM637 270.9l1.7 3.1h-3.4zM682.5 275.6l1.7 3.1h-3.4zM767.4 207.4l1.7 3.1h-3.4zM726.5 210.8l1.7 3.1h-3.4zM595.4 300.3l1.7 3.1h-3.4zM620.6 298l1.7 3.1h-3.4zM732.2 239l1.7 3.1h-3.4zM620.2 276.8l1.7 3.1h-3.4zM753.3 210.4l1.7 3.1h-3.4zM648.6 278.8l1.7 3.1h-3.4zM694.7 241.6l1.7 3.1h-3.4zM772.9 204.5l1.7 3.1h-3.4zM643.9 293.3l1.7 3.1h-3.4zM732.7 216.9l1.7 3.1h-3.4zM693.5 258.4l1.7 3.1h-3.4zM750.7 228l1.7 3.1h-3.4zM610.1 304.9l1.7 3.1h-3.4zM656.7 263.4l1.7 3.1h-3.4zM607.9 302.2l1.7 3.1h-3.4zM775.5 195.7l1.7 3.1h-3.4zM681.1 256.7l1.7 3.1h-3.4zM804.1 175.8l1.7 3.1h-3.4zM712.2 240.1l1.7 3.1h-3.4zM711 245l1.7 3.1h-3.4zM686.2 284.1l1.7 3.1h-3.4zM653.6 279.7l1.7 3.1h-3.4zM749.2 206.7l1.7 3.1h-3.4zM713.7 201.5l1.7 3.1h-3.4zM675.1 270l1.7 3.1h-3.4zM699 260.9l1.7 3.1h-3.4zM636.1 275.5l1.7 3.1h-3.4zM688.8 247.9l1.7 3.1h-3.4zM688.8 257.2l1.7 3.1h-3.4zM616.7 292.7l1.7 3.1h-3.4zM636.2 304.9l1.7 3.1h-3.4zM790.7 194.4l1.7 3.1h-3.4zM736.3 212.3l1.7 3.1h-3.4zM706 222.1l1.7 3.1h-3.4zM715.8 233.7l1.7 3.1h-3.4zM740.8 219.8l1.7 3.1h-3.4zM683.3 245l1.7 3.1h-3.4zM621.3 283.2l1.7 3.1h-3.4zM604.1 295l1.7 3.1h-3.4zM727.4 238.2l1.7 3.1h-3.4zM705.1 228.8l1.7 3.1h-3.4zM620.9 283.5l1.7 3.1h-3.4zM838.6 172.7l1.7 3.1h-3.4zM674.9 270l1.7 3.1h-3.4zM616.9 286.7l1.7 3.1h-3.4zM664 258.5l1.7 3.1h-3.4zM646.9 262.9l1.7 3.1h-3.4zM616.9 292.5l1.7 3.1h-3.4zM639.7 282.1l1.7 3.1h-3.4zM744.8 218.4l1.7 3.1h-3.4zM685.3 260.6l1.7 3.1h-3.4zM696.2 249l1.7 3.1h-3.4zM617.9 296.1l1.7 3.1h-3.4zM601.6 289.6l1.7 3.1h-3.4zM733.3 234.8l1.7 3.1h-3.4zM778.2 197.4l1.7 3.1h-3.4zM626.8 292.1l1.7 3.1h-3.4zM732.1 210.3l1.7 3.1h-3.4zM610.8 292.4l1.7 3.1h-3.4zM771.5 206.4l1.7 3.1h-3.4zM726.4 210.9l1.7 3.1h-3.4zM674.6 254.6l1.7 3.1h-3.4zM688.2 251.7l1.7 3.1h-3.4zM698.3 219.2l1.7 3.1h-3.4zM647.2 268.9l1.7 3.1h-3.4zM624.8 278.9l1.7 3.1h-3.4zM813.6 168.7l1.7 3.1h-3.4zM692.5 243.1l1.7 3.1h-3.4zM701.8 251.4l1.7 3.1h-3.4zM641.9 267.2l1.7 3.1h-3.4zM740.8 216.6l1.7 3.1h-3.4zM642.5 269.6l1.7 3.1h-3.4zM655.3 269l1.7 3.1h-3.4zM685.9 254.8l1.7 3.1h-3.4zM659.8 276.3l1.7 3.1h-3.4zM671 251.5l1.7 3.1h-3.4zM609.9 284.3l1.7 3.1h-3.4zM659.4 267.4l1.7 3.1h-3.4zM627.4 282.3l1.7 3.1h-3.4zM831.8 151.9l1.7 3.1h-3.4zM683.4 260.4l1.7 3.1h-3.4zM665.1 267.5l1.7 3.1h-3.4zM632.1 294l1.7 3.1h-3.4zM594.4 296.6l1.7 3.1h-3.4zM656.8 264.6l1.7 3.1h-3.4zM760.6 213.4l1.7 3.1h-3.4zM713 247l1.7 3.1h-3.4zM710 238l1.7 3.1h-3.4zM734.9 222.5l1.7 3.1h-3.4zM712.8 241.2l1.7 3.1h-3.4zM665.4 257.7l1.7 3.1h-3.4zM609.8 302.5l1.7 3.1h-3.4zM762.2 207.1l1.7 3.1h-3.4zM680.8 245.8l1.7 3.1h-3.4zM627.1 294.5l1.7 3.1h-3.4zM632.9 289.7l1.7 3.1h-3.4zM755.9 206.6l1.7 3.1h-3.4zM622.9 289.3l1.7 3.1h-3.4zM603.9 301.7l1.7 3.1h-3.4zM763.3 204.5l1.7 3.1h-3.4zM644.4 272.6l1.7 3.1h-3.4zM650 280.4l1.7 3.1h-3.4zM712.9 240.4l1.7 3.1h-3.4zM625 278.3l1.7 3.1h-3.4zM711.7 223.5l1.7 3.1h-3.4zM706.5 214.6l1.7 3.1h-3.4zM692.4 253.1l1.7 3.1h-3.4zM724.2 211.2l1.7 3.1h-3.4zM654.8 253.2l1.7 3.1h-3.4zM753.5 211.1l1.7 3.1h-3.4zM762.3 201.2l1.7 3.1h-3.4zM679.8 246.1l1.7 3.1h-3.4zM712.6 216l1.7 3.1h-3.4zM776.8 213.9l1.7 3.1h-3.4zM617.8 287l1.7 3.1h-3.4zM681.6 252l1.7 3.1h-3.4zM762.6 208.9l1.7 3.1h-3.4zM759 197.8l1.7 3.1h-3.4zM653 261.4l1.7 3.1h-3.4zM692 263.6l1.7 3.1h-3.4zM641.7 281l1.7 3.1h-3.4zM799.9 185.4l1.7 3.1h-3.4zM681.8 270.2l1.7 3.1h-3.4zM676.5 247l1.7 3.1h-3.4zM717.9 230.4l1.7 3.1h-3.4zM769.6 200.4l1.7 3.1h-3.4zM661.1 262.9l1.7 3.1h-3.4zM731 210.1l1.7 3.1h-3.4zM653.7 269.8l1.7 3.1h-3.4zM786.3 195.3l1.7 3.1h-3.4zM708.9 244.6l1.7 3.1h-3.4zM701.9 245l1.7 3.1h-3.4zM769 212.8l1.7 3.1h-3.4zM663.2 247.5l1.7 3.1h-3.4zM755.2 207.3l1.7 3.1h-3.4zM650.4 269.1l1.7 3.1h-3.4zM664.2 261.7l1.7 3.1h-3.4zM740.3 216.9l1.7 3.1h-3.4zM634.8 293.6l1.7 3.1h-3.4zM682.8 255.7l1.7 3.1h-3.4zM695.4 243.4l1.7 3.1h-3.4zM704.1 237l1.7 3.1h-3.4zM744.6 190.4l1.7 3.1h-3.4zM701.6 248.9l1.7 3.1h-3.4zM686.2 256.7l1.7 3.1h-3.4zM672.5 269.6l1.7 3.1h-3.4zM619.8 278.6l1.7 3.1h-3.4zM763.8 213.6l1.7 3.1h-3.4zM748 209l1.7 3.1h-3.4zM746.3 201.1l1.7 3.1h-3.4zM617.3 296l1.7 3.1h-3.4zM773.1 190.7l1.7 3.1h-3.4zM616.9 307.3l1.7 3.1h-3.4zM650.8 271.5l1.7 3.1h-3.4zM700 260.3l1.7 3.1h-3.4zM616.6 293.1l1.7 3.1h-3.4zM785.5 191.5l1.7 3.1h-3.4zM671.1 276l1.7 3.1h-3.4zM707.5 227.8l1.7 3.1h-3.4zM710.1 231.1l1.7 3.1h-3.4zM700.7 245.4l1.7 3.1h-3.4zM610.9 301.9l1.7 3.1h-3.4zM637.3 295.2l1.7 3.1h-3.4zM645.2 276.6l1.7 3.1h-3.4zM734.4 231.5l1.7 3.1h-3.4zM683.9 248.3l1.7 3.1h-3.4zM598.7 304.3l1.7 3.1h-3.4zM649.8 263.4l1.7 3.1h-3.4zM592.8 300.7l1.7 3.1h-3.4zM653.5 271.8l1.7 3.1h-3.4zM643.2 293l1.7 3.1h-3.4zM678.2 264.3l1.7 3.1h-3.4zM646 261.6l1.7 3.1h-3.4zM639.1 279l1.7 3.1h-3.4zM727.1 221.3l1.7 3.1h-3.4zM775.4 203l1.7 3.1h-3.4zM695.6 266.5l1.7 3.1h-3.4zM663.7 257.3l1.7 3.1h-3.4zM788.7 190.9l1.7 3.1h-3.4zM796 192.7l1.7 3.1h-3.4zM586 310.7l1.7 3.1h-3.4zM656.2 267.7l1.7 3.1h-3.4zM654.7 279.4l1.7 3.1h-3.4zM689.6 242.2l1.7 3.1h-3.4zM835 168.1l1.7 3.1h-3.4zM594.3 323.1l1.7 3.1h-3.4zM589.3 306.4l1.7 3.1h-3.4zM781 207.3l1.7 3.1h-3.4zM671.2 268.7l1.7 3.1h-3.4zM638 274.8l1.7 3.1h-3.4zM662.8 271.3l1.7 3.1h-3.4zM609.2 295.2l1.7 3.1h-3.4zM713.7 216l1.7 3.1h-3.4zM614.2 292.3l1.7 3.1h-3.4zM658 296.8l1.7 3.1h-3.4zM658.7 281.9l1.7 3.1h-3.4zM731.3 207.8l1.7 3.1h-3.4zM689.3 249.6l1.7 3.1h-3.4zM613.7 299.5l1.7 3.1h-3.4zM697.8 242.4l1.7 3.1h-3.4zM631.3 275.6l1.7 3.1h-3.4zM665.1 259.7l1.7 3.1h-3.4zM733.5 216.6l1.7 3.1h-3.4zM627.5 292.7l1.7 3.1h-3.4zM664.3 268.3l1.7 3.1h-3.4zM743.4 219.7l1.7 3.1h-3.4zM615.4 292.5l1.7 3.1h-3.4zM761 224.7l1.7 3.1h-3.4zM704.2 239.8l1.7 3.1h-3.4zM629.2 295.8l1.7 3.1h-3.4zM639.9 266.8l1.7 3.1h-3.4zM737.6 206.5l1.7 3.1h-3.4zM704.2 212.6l1.7 3.1h-3.4zM698.5 232.6l1.7 3.1h-3.4zM696.2 248.3l1.7 3.1h-3.4zM671.1 246l1.7 3.1h-3.4zM699.9 242.7l1.7 3.1h-3.4zM615.1 286.3l1.7 3.1h-3.4zM811.1 194.7l1.7 3.1h-3.4zM609.9 305.1l1.7 3.1h-3.4zM690.9 242.9l1.7 3.1h-3.4zM677.6 239.9l1.7 3.1h-3.4zM749.3 216.3l1.7 3.1h-3.4zM731.7 204.4l1.7 3.1h-3.4zM777.8 205.7l1.7 3.1h-3.4zM608.5 296.6l1.7 3.1h-3.4zM591 312.6l1.7 3.1h-3.4zM714.1 232.6l1.7 3.1h-3.4zM663 268.4l1.7 3.1h-3.4zM757.2 206.9l1.7 3.1h-3.4zM720.8 215.9l1.7 3.1h-3.4zM719.1 219.3l1.7 3.1h-3.4zM648.7 295.9l1.7 3.1h-3.4zM673 299.4l1.7 3.1h-3.4zM606.1 321.7l1.7 3.1h-3.4zM590.6 336.6l1.7 3.1h-3.4zM604.3 311.5l1.7 3.1h-3.4zM673.6 286.3l1.7 3.1h-3.4zM586.8 328.7l1.7 3.1h-3.4zM637.3 304.3l1.7 3.1h-3.4zM621.9 298.2l1.7 3.1h-3.4zM605.4 312.4l1.7 3.1h-3.4zM660.4 297.4l1.7 3.1h-3.4zM601.7 320.9l1.7 3.1h-3.4zM642.2 305.1l1.7 3.1h-3.4zM649.4 303.1l1.7 3.1h-3.4zM643.8 298.9l1.7 3.1h-3.4zM660.5 280.7l1.7 3.1h-3.4zM612.3 307l1.7 3.1h-3.4zM618.1 308.9l1.7 3.1h-3.4zM630.1 308.8l1.7 3.1h-3.4zM610.6 314.6l1.7 3.1h-3.4zM586.3 319.9l1.7 3.1h-3.4zM585.1 330.4l1.7 3.1h-3.4zM783 182l1.7 3.1h-3.4zM843.2 156.1l1.7 3.1h-3.4zM771.3 198.8l1.7 3.1h-3.4zM824.1 163.5l1.7 3.1h-3.4zM802.3 167.6l1.7 3.1h-3.4zM808.8 177.3l1.7 3.1h-3.4zM849 167.3l1.7 3.1h-3.4zM782.8 188.5l1.7 3.1h-3.4zM784.1 190.2l1.7 3.1h-3.4zM836 151.2l1.7 3.1h-3.4zM791.2 185.1l1.7 3.1h-3.4zM825.4 168.9l1.7 3.1h-3.4zM847.1 161l1.7 3.1h-3.4zM821.8 167.8l1.7 3.1h-3.4zM852.4 161.3l1.7 3.1h-3.4zM821 174.6l1.7 3.1h-3.4zM811.1 174l1.7 3.1h-3.4zM772.8 194.8l1.7 3.1h-3.4zM784.1 180l1.7 3.1h-3.4zM805.3 183.6l1.7 3.1h-3.4zM816.8 175.2l1.7 3.1h-3.4zM772 196.4l1.7 3.1h-3.4zM820.2 179.6l1.7 3.1h-3.4zM819.8 185.3l1.7 3.1h-3.4zM817.3 160.8l1.7 3.1h-3.4zM834.5 174.2l1.7 3.1h-3.4zM798.9 179.7l1.7 3.1h-3.4zM793.3 169.3l1.7 3.1h-3.4zM797.4 193l1.7 3.1h-3.4zM776.1 198.4l1.7 3.1h-3.4zM808.7 167.2l1.7 3.1h-3.4zM780.9 184l1.7 3.1h-3.4zM793.1 186.9l1.7 3.1h-3.4zM777.1 190.7l1.7 3.1h-3.4zM792.8 187.3l1.7 3.1h-3.4zM835.6 162.1l1.7 3.1h-3.4zM847.7 152l1.7 3.1h-3.4zM827.1 169.7l1.7 3.1h-3.4zM833.1 162.6l1.7 3.1h-3.4zM781.9 183.8l1.7 3.1h-3.4zM784.9 173.8l1.7 3.1h-3.4zM808.6 178.8l1.7 3.1h-3.4zM803 175.6l1.7 3.1h-3.4zM815 175.5l1.7 3.1h-3.4z" fill="none" stroke="#2ccae4" stroke-width="0.7" opacity="0.85"/>
<path d="M661.4 252.1h1.5v1.5h-1.5zM619.2 282.5h1.5v1.5h-1.5zM623.6 278h1.5v1.5h-1.5zM625.4 270.2h1.5v1.5h-1.5zM622.9 281.8h1.5v1.5h-1.5zM647.3 253.6h1.5v1.5h-1.5zM629.1 277.7h1.5v1.5h-1.5zM651.2 253h1.5v1.5h-1.5zM630.4 265h1.5v1.5h-1.5zM639.9 259.9h1.5v1.5h-1.5zM607.8 291.7h1.5v1.5h-1.5zM620.5 282.1h1.5v1.5h-1.5zM652.9 262.5h1.5v1.5h-1.5zM605.9 293.7h1.5v1.5h-1.5zM605.4 283.6h1.5v1.5h-1.5zM636.8 260.9h1.5v1.5h-1.5zM598.8 285.5h1.5v1.5h-1.5zM622.4 275.8h1.5v1.5h-1.5zM596.1 299.3h1.5v1.5h-1.5zM649.1 255.4h1.5v1.5h-1.5zM611.8 279.7h1.5v1.5h-1.5zM591.4 302.3h1.5v1.5h-1.5zM615.7 278.3h1.5v1.5h-1.5zM618.9 283.4h1.5v1.5h-1.5zM677 230.6h1.5v1.5h-1.5zM620.8 275.9h1.5v1.5h-1.5zM657.9 255.3h1.5v1.5h-1.5zM601.4 292.6h1.5v1.5h-1.5zM626.6 270.8h1.5v1.5h-1.5zM612.9 286.4h1.5v1.5h-1.5zM585.9 314.5h1.5v1.5h-1.5zM650.8 255.3h1.5v1.5h-1.5zM660.4 249.2h1.5v1.5h-1.5zM624.4 274.2h1.5v1.5h-1.5zM603.3 290.3h1.5v1.5h-1.5zM626.1 275.6h1.5v1.5h-1.5zM622.8 272.6h1.5v1.5h-1.5zM628.6 269.3h1.5v1.5h-1.5zM613.9 290.8h1.5v1.5h-1.5zM623.1 271.8h1.5v1.5h-1.5zM586.6 306.7h1.5v1.5h-1.5zM632.3 270.9h1.5v1.5h-1.5zM639.4 251.9h1.5v1.5h-1.5zM629 278.5h1.5v1.5h-1.5zM618.6 275.1h1.5v1.5h-1.5zM649.1 254.4h1.5v1.5h-1.5zM617 287.2h1.5v1.5h-1.5zM602.9 296.9h1.5v1.5h-1.5zM647 263.2h1.5v1.5h-1.5zM682.9 229.2h1.5v1.5h-1.5zM607.3 292.3h1.5v1.5h-1.5zM614.3 288.2h1.5v1.5h-1.5zM660.2 248.5h1.5v1.5h-1.5zM609.1 284.7h1.5v1.5h-1.5zM674.3 230.5h1.5v1.5h-1.5zM644.3 262.9h1.5v1.5h-1.5zM590.5 299.8h1.5v1.5h-1.5zM660.2 241.7h1.5v1.5h-1.5zM625.5 276.3h1.5v1.5h-1.5zM658.6 242.7h1.5v1.5h-1.5zM657.7 246.3h1.5v1.5h-1.5zM626.2 275.6h1.5v1.5h-1.5zM631.6 263.5h1.5v1.5h-1.5zM616.9 293.7h1.5v1.5h-1.5zM607 293.7h1.5v1.5h-1.5zM638.2 266.7h1.5v1.5h-1.5zM616.7 285h1.5v1.5h-1.5zM609.1 294.4h1.5v1.5h-1.5zM622.2 274.8h1.5v1.5h-1.5zM623.4 278.8h1.5v1.5h-1.5zM636.7 272.7h1.5v1.5h-1.5zM643 263.5h1.5v1.5h-1.5zM598.6 295.2h1.5v1.5h-1.5zM616.8 271.9h1.5v1.5h-1.5zM619.3 288.7h1.5v1.5h-1.5zM595.1 299.9h1.5v1.5h-1.5zM594.7 302.6h1.5v1.5h-1.5zM670.1 250.5h1.5v1.5h-1.5zM604.4 288.9h1.5v1.5h-1.5zM584.8 316.5h1.5v1.5h-1.5zM622.6 283.6h1.5v1.5h-1.5zM591.3 302h1.5v1.5h-1.5zM628.3 274.9h1.5v1.5h-1.5zM587.3 301.9h1.5v1.5h-1.5zM650 249.5h1.5v1.5h-1.5zM625.7 275.9h1.5v1.5h-1.5zM603.4 290.2h1.5v1.5h-1.5zM682.5 235.7h1.5v1.5h-1.5zM612.2 289h1.5v1.5h-1.5zM596.3 298.2h1.5v1.5h-1.5zM638.2 268.5h1.5v1.5h-1.5zM592.3 304.9h1.5v1.5h-1.5zM603.3 290.7h1.5v1.5h-1.5zM584.7 303.2h1.5v1.5h-1.5zM635 269.4h1.5v1.5h-1.5zM605.4 294.4h1.5v1.5h-1.5zM673.5 232.9h1.5v1.5h-1.5zM631 265.7h1.5v1.5h-1.5zM603.7 292.3h1.5v1.5h-1.5zM616.8 282.3h1.5v1.5h-1.5zM645.8 256.8h1.5v1.5h-1.5zM599 295.2h1.5v1.5h-1.5zM598.4 287.6h1.5v1.5h-1.5zM606 284.3h1.5v1.5h-1.5zM654.5 253.7h1.5v1.5h-1.5zM641.6 253.5h1.5v1.5h-1.5zM632 264.4h1.5v1.5h-1.5zM609.9 282.6h1.5v1.5h-1.5zM613.7 289.5h1.5v1.5h-1.5zM596.7 298.4h1.5v1.5h-1.5zM665.4 239.9h1.5v1.5h-1.5zM618.4 286.4h1.5v1.5h-1.5zM635.7 268.2h1.5v1.5h-1.5zM624.3 274.8h1.5v1.5h-1.5zM658.5 244.7h1.5v1.5h-1.5zM594.7 309.9h1.5v1.5h-1.5zM684.2 226.2h1.5v1.5h-1.5zM660.3 251.8h1.5v1.5h-1.5zM660.4 241.7h1.5v1.5h-1.5zM616.2 284.4h1.5v1.5h-1.5zM661 244.2h1.5v1.5h-1.5zM667.5 251.4h1.5v1.5h-1.5zM608.5 281.3h1.5v1.5h-1.5zM612.1 293.3h1.5v1.5h-1.5zM618.1 283.4h1.5v1.5h-1.5zM630.9 278.4h1.5v1.5h-1.5zM622.7 279.2h1.5v1.5h-1.5zM611.1 297.6h1.5v1.5h-1.5zM632 275.7h1.5v1.5h-1.5zM588.5 305.8h1.5v1.5h-1.5zM590.4 300.6h1.5v1.5h-1.5zM603.3 298.7h1.5v1.5h-1.5zM621.5 279.7h1.5v1.5h-1.5zM613.9 292.2h1.5v1.5h-1.5zM638.1 268.1h1.5v1.5h-1.5zM594.2 290.2h1.5v1.5h-1.5zM590.2 310h1.5v1.5h-1.5zM635.4 262.4h1.5v1.5h-1.5zM607.6 296.2h1.5v1.5h-1.5zM593.5 297.7h1.5v1.5h-1.5zM610 290.6h1.5v1.5h-1.5zM659.7 245.6h1.5v1.5h-1.5zM616.9 282.5h1.5v1.5h-1.5zM605.1 289.8h1.5v1.5h-1.5zM631.8 269.4h1.5v1.5h-1.5zM584.2 312.9h1.5v1.5h-1.5zM624.5 280.9h1.5v1.5h-1.5zM626.3 283.3h1.5v1.5h-1.5zM681.1 221.7h1.5v1.5h-1.5zM650.9 251.2h1.5v1.5h-1.5zM624.3 279.1h1.5v1.5h-1.5zM613.5 285.3h1.5v1.5h-1.5zM625.3 274h1.5v1.5h-1.5zM649.8 258.1h1.5v1.5h-1.5zM638.9 262.4h1.5v1.5h-1.5zM614.5 279.7h1.5v1.5h-1.5zM622.8 270.3h1.5v1.5h-1.5zM641.5 259.2h1.5v1.5h-1.5zM605 297.8h1.5v1.5h-1.5zM685.8 223.9h1.5v1.5h-1.5zM588.7 307.9h1.5v1.5h-1.5zM638 258.7h1.5v1.5h-1.5zM652.6 252.3h1.5v1.5h-1.5zM641.9 266.4h1.5v1.5h-1.5zM663.3 245.6h1.5v1.5h-1.5zM657.1 252.8h1.5v1.5h-1.5zM652.3 253.7h1.5v1.5h-1.5zM662.5 249.1h1.5v1.5h-1.5zM667.5 242.4h1.5v1.5h-1.5zM595.8 301.7h1.5v1.5h-1.5zM602.4 297.9h1.5v1.5h-1.5zM664.1 246.7h1.5v1.5h-1.5zM636.8 260.9h1.5v1.5h-1.5zM606.2 290.4h1.5v1.5h-1.5zM588.2 320.4h1.5v1.5h-1.5zM619.9 283.8h1.5v1.5h-1.5zM591.9 297.4h1.5v1.5h-1.5zM627 276.3h1.5v1.5h-1.5zM591.6 304.7h1.5v1.5h-1.5zM665.9 242.4h1.5v1.5h-1.5zM637.9 259.3h1.5v1.5h-1.5zM613 287.5h1.5v1.5h-1.5zM606.9 290h1.5v1.5h-1.5zM616.1 274.3h1.5v1.5h-1.5zM616.6 277.8h1.5v1.5h-1.5zM677.7 229.3h1.5v1.5h-1.5zM669.5 244.3h1.5v1.5h-1.5zM617 286h1.5v1.5h-1.5zM592.9 304.7h1.5v1.5h-1.5zM600.9 299.4h1.5v1.5h-1.5zM641.4 267.7h1.5v1.5h-1.5zM587.7 309.4h1.5v1.5h-1.5zM642.3 262.8h1.5v1.5h-1.5zM658.3 245.6h1.5v1.5h-1.5zM599.9 300.8h1.5v1.5h-1.5zM599.1 303.1h1.5v1.5h-1.5zM627.1 267.8h1.5v1.5h-1.5zM606 288.9h1.5v1.5h-1.5zM625.3 277.6h1.5v1.5h-1.5zM603.1 298.1h1.5v1.5h-1.5zM618.5 280.9h1.5v1.5h-1.5zM596.3 297h1.5v1.5h-1.5zM609.1 297.4h1.5v1.5h-1.5zM594.8 301.7h1.5v1.5h-1.5zM605.1 298.5h1.5v1.5h-1.5zM633 261.7h1.5v1.5h-1.5zM640.3 260.6h1.5v1.5h-1.5zM624.6 276.7h1.5v1.5h-1.5zM611 287h1.5v1.5h-1.5zM656.2 244.6h1.5v1.5h-1.5zM627 280.6h1.5v1.5h-1.5zM609.7 283.6h1.5v1.5h-1.5zM647.6 259.7h1.5v1.5h-1.5zM645.2 267.6h1.5v1.5h-1.5zM616.9 281.5h1.5v1.5h-1.5zM666 237h1.5v1.5h-1.5zM649.4 252.5h1.5v1.5h-1.5zM646.2 255.2h1.5v1.5h-1.5zM632.6 274.4h1.5v1.5h-1.5zM617 276.8h1.5v1.5h-1.5zM611.5 280.2h1.5v1.5h-1.5zM628.7 272h1.5v1.5h-1.5zM669.3 231.9h1.5v1.5h-1.5zM642.2 265.3h1.5v1.5h-1.5zM612 280.4h1.5v1.5h-1.5zM593.2 304h1.5v1.5h-1.5zM627.3 277.7h1.5v1.5h-1.5zM636.1 273.5h1.5v1.5h-1.5zM653.8 253.7h1.5v1.5h-1.5zM675.4 235h1.5v1.5h-1.5zM586.6 306.2h1.5v1.5h-1.5zM634.2 266h1.5v1.5h-1.5zM587.2 308h1.5v1.5h-1.5zM635.7 262.9h1.5v1.5h-1.5zM628 272.8h1.5v1.5h-1.5zM633.2 271.3h1.5v1.5h-1.5zM617.9 277.3h1.5v1.5h-1.5zM683.8 227.9h1.5v1.5h-1.5zM646.8 258h1.5v1.5h-1.5zM595.5 304h1.5v1.5h-1.5zM647.3 251.7h1.5v1.5h-1.5zM598.7 300.1h1.5v1.5h-1.5zM646.6 258.1h1.5v1.5h-1.5zM631.9 277.6h1.5v1.5h-1.5zM608.4 293.3h1.5v1.5h-1.5zM660.4 241.3h1.5v1.5h-1.5zM610 287.4h1.5v1.5h-1.5zM665.1 244.4h1.5v1.5h-1.5zM641.4 263.7h1.5v1.5h-1.5zM602.6 294.3h1.5v1.5h-1.5zM619.7 278.4h1.5v1.5h-1.5zM615.7 279.9h1.5v1.5h-1.5zM642.4 258.5h1.5v1.5h-1.5zM627 274.2h1.5v1.5h-1.5zM634.5 271.8h1.5v1.5h-1.5zM636.8 264.2h1.5v1.5h-1.5zM597.9 306.1h1.5v1.5h-1.5zM663.2 254h1.5v1.5h-1.5zM594.8 298.9h1.5v1.5h-1.5zM651 255.9h1.5v1.5h-1.5zM601.4 300.1h1.5v1.5h-1.5zM599.3 294h1.5v1.5h-1.5zM609.8 290.5h1.5v1.5h-1.5zM616.4 287.3h1.5v1.5h-1.5zM589.2 301h1.5v1.5h-1.5zM622.2 276.5h1.5v1.5h-1.5z" fill="#27349a" stroke="none"/>
<path d="M783.5 120.1h1.3v1.3h-1.3zM799.9 113.5h1.3v1.3h-1.3zM771.2 135.4h1.3v1.3h-1.3zM776 130.1h1.3v1.3h-1.3zM727.6 163.5h1.3v1.3h-1.3zM823.2 97.3h1.3v1.3h-1.3zM708.9 185.2h1.3v1.3h-1.3zM747.7 149.1h1.3v1.3h-1.3zM718.9 171.4h1.3v1.3h-1.3zM804.6 105.8h1.3v1.3h-1.3zM732 166.4h1.3v1.3h-1.3zM707.8 182.3h1.3v1.3h-1.3zM730.6 170.6h1.3v1.3h-1.3zM785.7 121h1.3v1.3h-1.3zM742.1 153.9h1.3v1.3h-1.3zM708.5 183.1h1.3v1.3h-1.3zM772.2 132.1h1.3v1.3h-1.3zM812.7 101.7h1.3v1.3h-1.3zM790 113.9h1.3v1.3h-1.3zM702.9 191.5h1.3v1.3h-1.3zM739 163.4h1.3v1.3h-1.3zM767.6 139.7h1.3v1.3h-1.3zM722.5 172.8h1.3v1.3h-1.3zM714.5 176.6h1.3v1.3h-1.3zM792.1 120.8h1.3v1.3h-1.3zM765.6 129.7h1.3v1.3h-1.3zM713.6 179.3h1.3v1.3h-1.3zM733.7 171.9h1.3v1.3h-1.3zM723.9 171.9h1.3v1.3h-1.3zM824.2 94.9h1.3v1.3h-1.3zM801.5 108.7h1.3v1.3h-1.3zM793 119.4h1.3v1.3h-1.3zM770.9 136.3h1.3v1.3h-1.3zM722.4 173h1.3v1.3h-1.3zM731.8 166h1.3v1.3h-1.3zM746.4 152.9h1.3v1.3h-1.3zM704.5 188.4h1.3v1.3h-1.3zM802.6 109h1.3v1.3h-1.3zM727 175.5h1.3v1.3h-1.3zM728.9 171.2h1.3v1.3h-1.3zM792.2 109.4h1.3v1.3h-1.3zM705.7 190h1.3v1.3h-1.3zM728 174.2h1.3v1.3h-1.3zM812.8 94.7h1.3v1.3h-1.3zM706.3 188h1.3v1.3h-1.3zM820.6 103.6h1.3v1.3h-1.3zM747.5 153.2h1.3v1.3h-1.3zM742.6 156.8h1.3v1.3h-1.3zM797.5 112.5h1.3v1.3h-1.3zM779.6 135.5h1.3v1.3h-1.3zM745.6 154.5h1.3v1.3h-1.3zM731.7 165.4h1.3v1.3h-1.3zM696.8 189.7h1.3v1.3h-1.3zM708.6 183.6h1.3v1.3h-1.3zM779.7 123.2h1.3v1.3h-1.3zM736.2 156h1.3v1.3h-1.3zM701.2 189.9h1.3v1.3h-1.3zM716 175.2h1.3v1.3h-1.3zM713.8 181.6h1.3v1.3h-1.3zM736.1 161.6h1.3v1.3h-1.3zM811.4 103.5h1.3v1.3h-1.3zM793.6 120.8h1.3v1.3h-1.3zM703.5 188.6h1.3v1.3h-1.3zM759.3 138.6h1.3v1.3h-1.3zM821.7 99h1.3v1.3h-1.3zM723.6 171.3h1.3v1.3h-1.3zM770.8 137.1h1.3v1.3h-1.3zM730.2 162.5h1.3v1.3h-1.3zM760.7 141.8h1.3v1.3h-1.3zM708.4 186.2h1.3v1.3h-1.3z" fill="#cc2f86" stroke="none"/>
<path d="M794.7 211.1h3.3v3.3h-3.3zM680.1 284.4h3.3v3.3h-3.3zM743.7 248.1h3.3v3.3h-3.3zM805.7 219.1h3.3v3.3h-3.3zM748.4 245.8h3.3v3.3h-3.3zM747.7 250.2h3.3v3.3h-3.3zM738.8 251.2h3.3v3.3h-3.3zM682.4 283.1h3.3v3.3h-3.3zM756.5 240.3h3.3v3.3h-3.3zM779.3 228.1h3.3v3.3h-3.3zM680 287.7h3.3v3.3h-3.3zM676.2 277.2h3.3v3.3h-3.3zM726 262.1h3.3v3.3h-3.3zM696.7 271.9h3.3v3.3h-3.3zM708.4 260h3.3v3.3h-3.3zM793.6 226.1h3.3v3.3h-3.3zM810.6 209.5h3.3v3.3h-3.3zM724.2 252.6h3.3v3.3h-3.3zM764.5 236.1h3.3v3.3h-3.3zM816.5 220.8h3.3v3.3h-3.3zM812.7 205.7h3.3v3.3h-3.3zM733.1 256.6h3.3v3.3h-3.3zM759.2 243.8h3.3v3.3h-3.3zM730.6 249.2h3.3v3.3h-3.3zM852.9 190.6h3.3v3.3h-3.3zM780.8 225.3h3.3v3.3h-3.3zM750.4 245.7h3.3v3.3h-3.3zM814.7 207h3.3v3.3h-3.3zM774 233.5h3.3v3.3h-3.3zM847.9 196.6h3.3v3.3h-3.3zM747.7 250.1h3.3v3.3h-3.3zM784.3 229.7h3.3v3.3h-3.3zM702.9 269.9h3.3v3.3h-3.3zM684.7 280.8h3.3v3.3h-3.3zM745.4 246.8h3.3v3.3h-3.3zM743 244.3h3.3v3.3h-3.3zM830.6 202h3.3v3.3h-3.3zM753.4 246.1h3.3v3.3h-3.3zM692.7 277.9h3.3v3.3h-3.3zM719 261.9h3.3v3.3h-3.3zM711.4 261.3h3.3v3.3h-3.3zM757.5 239.6h3.3v3.3h-3.3zM687.4 271.8h3.3v3.3h-3.3zM694.6 270.1h3.3v3.3h-3.3zM819.6 207.9h3.3v3.3h-3.3zM774.9 238.3h3.3v3.3h-3.3zM736.7 243.8h3.3v3.3h-3.3zM811.8 209.6h3.3v3.3h-3.3zM707.7 266.4h3.3v3.3h-3.3zM801.2 217.1h3.3v3.3h-3.3zM771.1 234.5h3.3v3.3h-3.3zM757.2 247.7h3.3v3.3h-3.3zM690 277h3.3v3.3h-3.3zM862.2 190.6h3.3v3.3h-3.3zM694.5 271.1h3.3v3.3h-3.3zM715.7 259.2h3.3v3.3h-3.3zM725.8 249.8h3.3v3.3h-3.3zM732.9 253.6h3.3v3.3h-3.3zM810.8 211.2h3.3v3.3h-3.3zM809.5 210.1h3.3v3.3h-3.3zM734.9 256.3h3.3v3.3h-3.3zM815.1 210.9h3.3v3.3h-3.3zM728.3 259.1h3.3v3.3h-3.3zM841.1 200.2h3.3v3.3h-3.3zM845 199.4h3.3v3.3h-3.3zM795.7 224.7h3.3v3.3h-3.3zM785.6 229.8h3.3v3.3h-3.3zM697.8 277.8h3.3v3.3h-3.3zM728.2 259.3h3.3v3.3h-3.3zM744.2 244.3h3.3v3.3h-3.3zM822.5 205h3.3v3.3h-3.3zM705.7 263.9h3.3v3.3h-3.3zM715.5 259.3h3.3v3.3h-3.3zM737.5 247h3.3v3.3h-3.3zM715.2 262.8h3.3v3.3h-3.3zM836.9 199.9h3.3v3.3h-3.3zM827 213.3h3.3v3.3h-3.3zM724.9 262.3h3.3v3.3h-3.3zM721.5 257.8h3.3v3.3h-3.3zM829.3 210.7h3.3v3.3h-3.3zM761.3 232h3.3v3.3h-3.3zM764.4 231.3h3.3v3.3h-3.3zM846 192.9h3.3v3.3h-3.3zM725.8 255.4h3.3v3.3h-3.3zM699.7 277.3h3.3v3.3h-3.3zM785.2 227.5h3.3v3.3h-3.3zM794.8 221.1h3.3v3.3h-3.3zM778 233.2h3.3v3.3h-3.3zM807.4 216.4h3.3v3.3h-3.3zM711.8 269h3.3v3.3h-3.3zM681.1 275.1h3.3v3.3h-3.3zM817.5 204.9h3.3v3.3h-3.3zM797.6 217h3.3v3.3h-3.3zM692.7 270.2h3.3v3.3h-3.3zM765.9 234.2h3.3v3.3h-3.3zM813.7 211.3h3.3v3.3h-3.3zM792.6 225.5h3.3v3.3h-3.3zM677.5 292h3.3v3.3h-3.3zM684.1 275.6h3.3v3.3h-3.3zM785.9 234.4h3.3v3.3h-3.3zM682.4 286.8h3.3v3.3h-3.3zM801.1 221h3.3v3.3h-3.3zM816 217.3h3.3v3.3h-3.3zM728.4 246.7h3.3v3.3h-3.3zM769.6 232.5h3.3v3.3h-3.3zM717.2 257.3h3.3v3.3h-3.3zM725.5 250.4h3.3v3.3h-3.3zM755.1 240.7h3.3v3.3h-3.3zM849.8 191.7h3.3v3.3h-3.3zM733.7 254.5h3.3v3.3h-3.3zM752.4 239.9h3.3v3.3h-3.3zM676.8 286.5h3.3v3.3h-3.3zM726.3 255.5h3.3v3.3h-3.3zM749.2 248.5h3.3v3.3h-3.3zM689.2 271.3h3.3v3.3h-3.3zM709.2 264h3.3v3.3h-3.3zM829.1 205.3h3.3v3.3h-3.3zM713.7 272.5h3.3v3.3h-3.3zM803.2 213.1h3.3v3.3h-3.3zM741.6 243.6h3.3v3.3h-3.3zM825 200.8h3.3v3.3h-3.3zM808.8 214.9h3.3v3.3h-3.3zM679.2 279.3h3.3v3.3h-3.3zM722.2 255.6h3.3v3.3h-3.3zM836.4 205.6h3.3v3.3h-3.3zM766.4 232.8h3.3v3.3h-3.3zM696 278.2h3.3v3.3h-3.3zM844.4 191.4h3.3v3.3h-3.3zM723.1 248.9h3.3v3.3h-3.3zM778.5 230.5h3.3v3.3h-3.3zM803.6 210.8h3.3v3.3h-3.3zM816.4 212.1h3.3v3.3h-3.3zM747.9 244.4h3.3v3.3h-3.3zM786.6 216.7h3.3v3.3h-3.3zM828.4 198.1h3.3v3.3h-3.3zM717.4 264.8h3.3v3.3h-3.3zM795.2 224.5h3.3v3.3h-3.3zM715 262h3.3v3.3h-3.3zM762.2 227.6h3.3v3.3h-3.3zM830.5 200.4h3.3v3.3h-3.3zM780.8 222.5h3.3v3.3h-3.3zM773.4 235h3.3v3.3h-3.3zM708.7 271.8h3.3v3.3h-3.3zM705.2 263.2h3.3v3.3h-3.3zM781.6 229h3.3v3.3h-3.3zM794.4 223.5h3.3v3.3h-3.3zM840.6 201.4h3.3v3.3h-3.3zM740 249.5h3.3v3.3h-3.3zM751.9 246.7h3.3v3.3h-3.3zM702.1 277.4h3.3v3.3h-3.3zM779.6 222.7h3.3v3.3h-3.3zM797.5 216.7h3.3v3.3h-3.3zM789.6 221.4h3.3v3.3h-3.3zM807.6 215h3.3v3.3h-3.3zM699.5 266.8h3.3v3.3h-3.3zM754.8 239.1h3.3v3.3h-3.3zM796 217.3h3.3v3.3h-3.3zM754 237.7h3.3v3.3h-3.3zM820.4 208.2h3.3v3.3h-3.3zM796.7 225h3.3v3.3h-3.3zM794.6 225.6h3.3v3.3h-3.3zM857.7 191.7h3.3v3.3h-3.3zM707.5 268.5h3.3v3.3h-3.3zM765 238.2h3.3v3.3h-3.3zM773 236.3h3.3v3.3h-3.3zM770.8 228h3.3v3.3h-3.3zM851.1 187.6h3.3v3.3h-3.3zM814.4 218.5h3.3v3.3h-3.3zM742.9 253.1h3.3v3.3h-3.3zM726.3 263.8h3.3v3.3h-3.3zM735 247.9h3.3v3.3h-3.3zM808 206.3h3.3v3.3h-3.3zM698.5 274.6h3.3v3.3h-3.3zM748.2 242.8h3.3v3.3h-3.3zM748 247.2h3.3v3.3h-3.3zM757.5 236.4h3.3v3.3h-3.3zM811.8 209.9h3.3v3.3h-3.3zM846 193.6h3.3v3.3h-3.3zM714.1 261.9h3.3v3.3h-3.3zM835.1 198.6h3.3v3.3h-3.3zM761.9 241.3h3.3v3.3h-3.3zM850 197.5h3.3v3.3h-3.3zM851.1 190.8h3.3v3.3h-3.3zM840.2 196.9h3.3v3.3h-3.3zM716 265.5h3.3v3.3h-3.3zM740.4 252.9h3.3v3.3h-3.3zM811.9 211.1h3.3v3.3h-3.3zM682.4 281h3.3v3.3h-3.3zM845.9 197.3h3.3v3.3h-3.3zM772.9 229.2h3.3v3.3h-3.3zM715.7 263.5h3.3v3.3h-3.3zM767.4 229h3.3v3.3h-3.3zM845.4 203.6h3.3v3.3h-3.3zM776.1 235.5h3.3v3.3h-3.3zM696.7 270.3h3.3v3.3h-3.3zM848.6 188.3h3.3v3.3h-3.3zM863.2 188.1h3.3v3.3h-3.3zM711.7 261.5h3.3v3.3h-3.3zM764 232.8h3.3v3.3h-3.3zM770.1 230.2h3.3v3.3h-3.3zM713.7 263.7h3.3v3.3h-3.3zM707.9 267.5h3.3v3.3h-3.3zM849.6 198.4h3.3v3.3h-3.3zM755.9 239.6h3.3v3.3h-3.3zM708.1 266h3.3v3.3h-3.3zM719.8 252.9h3.3v3.3h-3.3zM814.4 217.3h3.3v3.3h-3.3zM819.8 209.3h3.3v3.3h-3.3zM706.6 271.4h3.3v3.3h-3.3zM720 253.7h3.3v3.3h-3.3zM670.8 296.3h3.3v3.3h-3.3zM753.5 245h3.3v3.3h-3.3zM851.6 185h3.3v3.3h-3.3zM681.1 278.5h3.3v3.3h-3.3zM688.7 283.7h3.3v3.3h-3.3zM822.1 203.5h3.3v3.3h-3.3zM830.9 196h3.3v3.3h-3.3zM712.7 262h3.3v3.3h-3.3zM790.6 221.6h3.3v3.3h-3.3zM851.2 196.2h3.3v3.3h-3.3zM747.5 241.9h3.3v3.3h-3.3zM793.3 222h3.3v3.3h-3.3zM808 211.1h3.3v3.3h-3.3zM850.6 189.3h3.3v3.3h-3.3zM802.3 220.2h3.3v3.3h-3.3zM790.7 216h3.3v3.3h-3.3zM781.7 230.5h3.3v3.3h-3.3zM769 235h3.3v3.3h-3.3zM813.2 214h3.3v3.3h-3.3zM847 194.3h3.3v3.3h-3.3zM796.7 220.3h3.3v3.3h-3.3zM743.1 251.1h3.3v3.3h-3.3zM866.6 182.9h3.3v3.3h-3.3zM740.8 243.9h3.3v3.3h-3.3zM725.5 247.2h3.3v3.3h-3.3zM810.4 207.1h3.3v3.3h-3.3zM778 230.2h3.3v3.3h-3.3zM772.7 227.5h3.3v3.3h-3.3zM685.3 277.5h3.3v3.3h-3.3zM796.6 215.5h3.3v3.3h-3.3zM749.8 247.8h3.3v3.3h-3.3zM856.5 180.3h3.3v3.3h-3.3zM779.8 232.4h3.3v3.3h-3.3zM799.6 211.8h3.3v3.3h-3.3zM808.3 216.2h3.3v3.3h-3.3zM832.9 196.9h3.3v3.3h-3.3zM852.4 187.9h3.3v3.3h-3.3zM826.8 212.6h3.3v3.3h-3.3zM759.1 246.2h3.3v3.3h-3.3zM819.5 209.1h3.3v3.3h-3.3zM712.8 261.9h3.3v3.3h-3.3zM765.6 246.9h3.3v3.3h-3.3zM765.4 239.5h3.3v3.3h-3.3zM843.5 197.7h3.3v3.3h-3.3zM815.3 211.6h3.3v3.3h-3.3zM799 216.3h3.3v3.3h-3.3zM821.2 207.1h3.3v3.3h-3.3zM716.9 268.2h3.3v3.3h-3.3zM745.6 245.7h3.3v3.3h-3.3zM734 253h3.3v3.3h-3.3zM751.9 238.7h3.3v3.3h-3.3zM731.8 257.8h3.3v3.3h-3.3zM828.2 200.3h3.3v3.3h-3.3zM758.8 242.8h3.3v3.3h-3.3zM772.7 230.5h3.3v3.3h-3.3zM827.3 203.5h3.3v3.3h-3.3zM704.1 267.5h3.3v3.3h-3.3zM752.6 246.8h3.3v3.3h-3.3zM805.2 213.3h3.3v3.3h-3.3zM769.6 237h3.3v3.3h-3.3zM800.8 217.2h3.3v3.3h-3.3zM836.6 196.2h3.3v3.3h-3.3zM763.6 227.5h3.3v3.3h-3.3zM733.1 255.2h3.3v3.3h-3.3zM800.3 216.2h3.3v3.3h-3.3zM826.7 203.7h3.3v3.3h-3.3zM731.3 249.5h3.3v3.3h-3.3zM799 217.3h3.3v3.3h-3.3zM771.9 228h3.3v3.3h-3.3zM755.3 239.8h3.3v3.3h-3.3zM745.7 235.8h3.3v3.3h-3.3zM733.2 247.9h3.3v3.3h-3.3zM836.8 205.3h3.3v3.3h-3.3zM692.2 277.4h3.3v3.3h-3.3zM827.5 204.1h3.3v3.3h-3.3zM722.1 267.7h3.3v3.3h-3.3zM759.9 244.2h3.3v3.3h-3.3zM694.6 275.2h3.3v3.3h-3.3zM745.6 251.8h3.3v3.3h-3.3zM843.6 195.8h3.3v3.3h-3.3zM727.4 269h3.3v3.3h-3.3zM748.2 240.7h3.3v3.3h-3.3zM829.7 199h3.3v3.3h-3.3zM707.9 265.4h3.3v3.3h-3.3zM765.8 238.1h3.3v3.3h-3.3zM695 275.2h3.3v3.3h-3.3zM810.9 212.5h3.3v3.3h-3.3zM727.6 250.7h3.3v3.3h-3.3zM770.4 232.3h3.3v3.3h-3.3zM751.4 237.6h3.3v3.3h-3.3zM725.8 257.1h3.3v3.3h-3.3zM815.6 201.2h3.3v3.3h-3.3zM734.9 257h3.3v3.3h-3.3zM818.8 210.2h3.3v3.3h-3.3zM691.8 281.7h3.3v3.3h-3.3zM788.1 220.6h3.3v3.3h-3.3zM802.3 216.7h3.3v3.3h-3.3zM832.9 198.5h3.3v3.3h-3.3zM798.3 213.7h3.3v3.3h-3.3zM695.1 273.9h3.3v3.3h-3.3zM768.6 233.1h3.3v3.3h-3.3zM748.3 243.7h3.3v3.3h-3.3zM731 254.2h3.3v3.3h-3.3zM694.7 275.3h3.3v3.3h-3.3zM731 252.5h3.3v3.3h-3.3zM738.3 248h3.3v3.3h-3.3zM764.7 233.9h3.3v3.3h-3.3zM707.4 263.6h3.3v3.3h-3.3zM843.4 196.9h3.3v3.3h-3.3zM753.8 243.3h3.3v3.3h-3.3zM736.5 247.4h3.3v3.3h-3.3zM690.2 277.7h3.3v3.3h-3.3zM820.1 208.1h3.3v3.3h-3.3zM669.5 289h3.3v3.3h-3.3zM679.2 281.6h3.3v3.3h-3.3zM784.2 219.3h3.3v3.3h-3.3zM784.7 224.5h3.3v3.3h-3.3zM710.1 269.1h3.3v3.3h-3.3zM798.4 217.7h3.3v3.3h-3.3zM763.2 234.3h3.3v3.3h-3.3zM717.3 256.9h3.3v3.3h-3.3zM776.9 236.3h3.3v3.3h-3.3zM771.8 237.2h3.3v3.3h-3.3zM734.7 253.6h3.3v3.3h-3.3zM748 256h3.3v3.3h-3.3zM834 196.6h3.3v3.3h-3.3zM759.9 247.3h3.3v3.3h-3.3zM719.4 264h3.3v3.3h-3.3zM770.3 239.8h3.3v3.3h-3.3zM719.9 264.1h3.3v3.3h-3.3zM715.5 259.2h3.3v3.3h-3.3zM778.6 229.6h3.3v3.3h-3.3zM705.1 262.9h3.3v3.3h-3.3zM734.5 251.6h3.3v3.3h-3.3zM709.3 275.3h3.3v3.3h-3.3zM671.4 283.3h3.3v3.3h-3.3zM673 294.1h3.3v3.3h-3.3zM827.1 206.6h3.3v3.3h-3.3zM708.6 267.2h3.3v3.3h-3.3zM735.9 258.3h3.3v3.3h-3.3zM776.8 229.6h3.3v3.3h-3.3zM796.3 222.7h3.3v3.3h-3.3zM754.7 234.3h3.3v3.3h-3.3zM767.6 231.6h3.3v3.3h-3.3zM796.6 215.6h3.3v3.3h-3.3zM765.9 233.3h3.3v3.3h-3.3zM758.9 233.9h3.3v3.3h-3.3zM751.4 242.3h3.3v3.3h-3.3zM847.7 183.5h3.3v3.3h-3.3zM837.2 201.8h3.3v3.3h-3.3zM714.1 261.3h3.3v3.3h-3.3zM731.3 253.4h3.3v3.3h-3.3zM805.8 217h3.3v3.3h-3.3zM729.2 256.1h3.3v3.3h-3.3zM728.7 259.1h3.3v3.3h-3.3zM751.3 236.7h3.3v3.3h-3.3zM684.4 276.1h3.3v3.3h-3.3zM835.2 199.9h3.3v3.3h-3.3zM797 216.6h3.3v3.3h-3.3zM817.5 213.4h3.3v3.3h-3.3zM770.1 241.4h3.3v3.3h-3.3zM780.3 228.3h3.3v3.3h-3.3zM766.8 232.3h3.3v3.3h-3.3zM812.5 202.5h3.3v3.3h-3.3zM719.7 260.8h3.3v3.3h-3.3zM708.1 263.5h3.3v3.3h-3.3zM775.5 227.1h3.3v3.3h-3.3zM787.9 215.7h3.3v3.3h-3.3zM753.8 244.5h3.3v3.3h-3.3zM769.8 229.4h3.3v3.3h-3.3zM785.8 226.4h3.3v3.3h-3.3zM834.3 201.4h3.3v3.3h-3.3zM823.5 209.7h3.3v3.3h-3.3zM718.1 265.6h3.3v3.3h-3.3zM750.5 239.7h3.3v3.3h-3.3zM792.7 221h3.3v3.3h-3.3zM821.3 205h3.3v3.3h-3.3zM710 266.2h3.3v3.3h-3.3zM780.7 232.1h3.3v3.3h-3.3zM819 209.8h3.3v3.3h-3.3zM797.2 223.4h3.3v3.3h-3.3zM741.8 247.3h3.3v3.3h-3.3zM798.6 213.4h3.3v3.3h-3.3zM757.4 246.4h3.3v3.3h-3.3zM773 231.6h3.3v3.3h-3.3zM775.4 227.4h3.3v3.3h-3.3zM728.4 258.3h3.3v3.3h-3.3zM818.4 210.8h3.3v3.3h-3.3zM782.5 227.8h3.3v3.3h-3.3zM680 276h3.3v3.3h-3.3zM716.6 261h3.3v3.3h-3.3zM806.2 214.3h3.3v3.3h-3.3zM749.5 242.9h3.3v3.3h-3.3zM736.2 247.3h3.3v3.3h-3.3zM864.8 182.4h3.3v3.3h-3.3zM790.4 213.7h3.3v3.3h-3.3zM698.9 271h3.3v3.3h-3.3zM816.7 209.6h3.3v3.3h-3.3zM813 213.6h3.3v3.3h-3.3zM802.7 216.1h3.3v3.3h-3.3zM826.3 207.6h3.3v3.3h-3.3zM803.4 214.7h3.3v3.3h-3.3zM830 199.8h3.3v3.3h-3.3zM758.1 231.9h3.3v3.3h-3.3zM775 228.1h3.3v3.3h-3.3zM744.1 240.7h3.3v3.3h-3.3zM762.4 244.9h3.3v3.3h-3.3zM770.6 230.6h3.3v3.3h-3.3zM810.3 209.9h3.3v3.3h-3.3zM730 250.7h3.3v3.3h-3.3zM758.6 239.3h3.3v3.3h-3.3zM748.6 243h3.3v3.3h-3.3zM761.7 243.6h3.3v3.3h-3.3zM706.6 259.9h3.3v3.3h-3.3zM766.8 233h3.3v3.3h-3.3zM710.1 272.4h3.3v3.3h-3.3zM676.2 288.4h3.3v3.3h-3.3zM714.7 263.4h3.3v3.3h-3.3zM704.2 261.2h3.3v3.3h-3.3zM862.7 183.7h3.3v3.3h-3.3zM686.1 281.4h3.3v3.3h-3.3zM827.8 201.5h3.3v3.3h-3.3zM717.1 263.9h3.3v3.3h-3.3zM676.5 278.9h3.3v3.3h-3.3zM769.2 234h3.3v3.3h-3.3zM698.3 268.4h3.3v3.3h-3.3zM670.3 282.7h3.3v3.3h-3.3zM811.6 211.7h3.3v3.3h-3.3zM710.5 268.1h3.3v3.3h-3.3zM725.4 253.2h3.3v3.3h-3.3zM784.9 222.7h3.3v3.3h-3.3zM740.9 253.4h3.3v3.3h-3.3zM764.9 238.3h3.3v3.3h-3.3zM752.8 244.2h3.3v3.3h-3.3zM672.8 282.9h3.3v3.3h-3.3zM742.6 245.7h3.3v3.3h-3.3zM747.7 248.3h3.3v3.3h-3.3zM736.6 248.8h3.3v3.3h-3.3zM859.1 184.2h3.3v3.3h-3.3zM855.6 191.2h3.3v3.3h-3.3zM768.6 230.1h3.3v3.3h-3.3zM822 210.8h3.3v3.3h-3.3zM695.1 279.4h3.3v3.3h-3.3zM790.1 220.4h3.3v3.3h-3.3zM797.2 213.9h3.3v3.3h-3.3zM806.8 216.4h3.3v3.3h-3.3zM845.4 191h3.3v3.3h-3.3zM766.1 234.2h3.3v3.3h-3.3zM711.5 264.6h3.3v3.3h-3.3zM837.4 189.4h3.3v3.3h-3.3zM859.1 187h3.3v3.3h-3.3zM788.2 223.9h3.3v3.3h-3.3zM802.2 226.4h3.3v3.3h-3.3zM810.3 211.1h3.3v3.3h-3.3zM815.3 209.8h3.3v3.3h-3.3zM776.7 231.3h3.3v3.3h-3.3zM767.3 240.3h3.3v3.3h-3.3zM699.3 267h3.3v3.3h-3.3zM786.7 220.1h3.3v3.3h-3.3zM741.7 243.4h3.3v3.3h-3.3zM778.5 242.8h3.3v3.3h-3.3zM853.8 188.5h3.3v3.3h-3.3zM814.8 210.9h3.3v3.3h-3.3zM759.4 251.4h3.3v3.3h-3.3zM868.6 185.7h3.3v3.3h-3.3zM779.9 231.7h3.3v3.3h-3.3zM793.8 214.3h3.3v3.3h-3.3zM705.5 269.1h3.3v3.3h-3.3zM671 284h3.3v3.3h-3.3zM783.8 229.2h3.3v3.3h-3.3zM751 244.7h3.3v3.3h-3.3zM735.5 253.2h3.3v3.3h-3.3zM707 264.3h3.3v3.3h-3.3zM830.7 198.6h3.3v3.3h-3.3zM844.1 201.7h3.3v3.3h-3.3zM775.9 223h3.3v3.3h-3.3zM821.7 208.5h3.3v3.3h-3.3zM845.8 194.3h3.3v3.3h-3.3zM834.8 195.5h3.3v3.3h-3.3zM730.1 254.8h3.3v3.3h-3.3zM838 194.9h3.3v3.3h-3.3zM690 273.8h3.3v3.3h-3.3zM725.3 250.8h3.3v3.3h-3.3zM756.4 248.6h3.3v3.3h-3.3zM755.3 246.9h3.3v3.3h-3.3zM772.6 231.3h3.3v3.3h-3.3zM854.2 184.9h3.3v3.3h-3.3zM708.9 265.7h3.3v3.3h-3.3zM851.8 194.7h3.3v3.3h-3.3zM690.5 275.9h3.3v3.3h-3.3zM734.8 252.8h3.3v3.3h-3.3zM763.6 240.6h3.3v3.3h-3.3zM724 257.5h3.3v3.3h-3.3zM763.1 235h3.3v3.3h-3.3zM774.1 230.1h3.3v3.3h-3.3zM796.6 221.1h3.3v3.3h-3.3zM765 239.2h3.3v3.3h-3.3zM762.3 237.1h3.3v3.3h-3.3zM759.7 240.3h3.3v3.3h-3.3zM748.3 247.5h3.3v3.3h-3.3zM822 200.5h3.3v3.3h-3.3zM837.3 194.4h3.3v3.3h-3.3zM782.4 219.3h3.3v3.3h-3.3zM792.3 222.3h3.3v3.3h-3.3zM838.6 190h3.3v3.3h-3.3zM697.1 267.4h3.3v3.3h-3.3zM716 253.8h3.3v3.3h-3.3zM833.1 200.6h3.3v3.3h-3.3zM674 284.3h3.3v3.3h-3.3zM746.6 241.2h3.3v3.3h-3.3zM625.5 321.8h3.3v3.3h-3.3zM649.3 304.4h3.3v3.3h-3.3zM657 303.7h3.3v3.3h-3.3zM872.2 159.9h3.3v3.3h-3.3zM891.8 151.9h3.3v3.3h-3.3zM894.3 155.2h3.3v3.3h-3.3zM897.7 157.9h3.3v3.3h-3.3zM902 155.9h3.3v3.3h-3.3zM906.3 159.3h3.3v3.3h-3.3zM900.3 153.2h3.3v3.3h-3.3zM936 137.9h3.3v3.3h-3.3zM940.3 125.8h3.3v3.3h-3.3zM889.2 168.6h3.3v3.3h-3.3zM893.5 170h3.3v3.3h-3.3zM868 175.3h3.3v3.3h-3.3zM859.5 173.3h3.3v3.3h-3.3z" fill="none" stroke="#3cb83a" stroke-width="0.65" opacity="0.85"/>
<path d="M773.3 258.3a1.8 1.8 0 1 0 3.6 0a1.8 1.8 0 1 0-3.6 0M748.4 274.4a1.8 1.8 0 1 0 3.6 0a1.8 1.8 0 1 0-3.6 0M730.5 273.9a1.8 1.8 0 1 0 3.6 0a1.8 1.8 0 1 0-3.6 0M791.2 243.5a1.8 1.8 0 1 0 3.6 0a1.8 1.8 0 1 0-3.6 0M767.5 266.5a1.8 1.8 0 1 0 3.6 0a1.8 1.8 0 1 0-3.6 0M812.8 239.6a1.8 1.8 0 1 0 3.6 0a1.8 1.8 0 1 0-3.6 0M732.6 278a1.8 1.8 0 1 0 3.6 0a1.8 1.8 0 1 0-3.6 0M745.5 275.3a1.8 1.8 0 1 0 3.6 0a1.8 1.8 0 1 0-3.6 0M819.7 230a1.8 1.8 0 1 0 3.6 0a1.8 1.8 0 1 0-3.6 0M836.5 218.6a1.8 1.8 0 1 0 3.6 0a1.8 1.8 0 1 0-3.6 0M803.5 244.3a1.8 1.8 0 1 0 3.6 0a1.8 1.8 0 1 0-3.6 0M828.7 225.2a1.8 1.8 0 1 0 3.6 0a1.8 1.8 0 1 0-3.6 0M809.4 238.1a1.8 1.8 0 1 0 3.6 0a1.8 1.8 0 1 0-3.6 0M841.1 218.2a1.8 1.8 0 1 0 3.6 0a1.8 1.8 0 1 0-3.6 0M848.3 225.3a1.8 1.8 0 1 0 3.6 0a1.8 1.8 0 1 0-3.6 0M816 238.5a1.8 1.8 0 1 0 3.6 0a1.8 1.8 0 1 0-3.6 0M849.5 214.2a1.8 1.8 0 1 0 3.6 0a1.8 1.8 0 1 0-3.6 0M817.4 237.2a1.8 1.8 0 1 0 3.6 0a1.8 1.8 0 1 0-3.6 0M773.7 253.4a1.8 1.8 0 1 0 3.6 0a1.8 1.8 0 1 0-3.6 0M725 283.8a1.8 1.8 0 1 0 3.6 0a1.8 1.8 0 1 0-3.6 0M810.7 231.7a1.8 1.8 0 1 0 3.6 0a1.8 1.8 0 1 0-3.6 0M857.4 214.3a1.8 1.8 0 1 0 3.6 0a1.8 1.8 0 1 0-3.6 0M761.6 264.4a1.8 1.8 0 1 0 3.6 0a1.8 1.8 0 1 0-3.6 0M856.7 215.8a1.8 1.8 0 1 0 3.6 0a1.8 1.8 0 1 0-3.6 0M697.4 294.6a1.8 1.8 0 1 0 3.6 0a1.8 1.8 0 1 0-3.6 0M814.2 231.1a1.8 1.8 0 1 0 3.6 0a1.8 1.8 0 1 0-3.6 0M828.5 227.7a1.8 1.8 0 1 0 3.6 0a1.8 1.8 0 1 0-3.6 0M777.1 257.1a1.8 1.8 0 1 0 3.6 0a1.8 1.8 0 1 0-3.6 0M730.8 266.4a1.8 1.8 0 1 0 3.6 0a1.8 1.8 0 1 0-3.6 0M714.8 292.1a1.8 1.8 0 1 0 3.6 0a1.8 1.8 0 1 0-3.6 0M825.4 231.3a1.8 1.8 0 1 0 3.6 0a1.8 1.8 0 1 0-3.6 0M793.9 243.4a1.8 1.8 0 1 0 3.6 0a1.8 1.8 0 1 0-3.6 0M813.2 243.7a1.8 1.8 0 1 0 3.6 0a1.8 1.8 0 1 0-3.6 0M783 251.8a1.8 1.8 0 1 0 3.6 0a1.8 1.8 0 1 0-3.6 0M807.4 241.4a1.8 1.8 0 1 0 3.6 0a1.8 1.8 0 1 0-3.6 0M730.9 283.5a1.8 1.8 0 1 0 3.6 0a1.8 1.8 0 1 0-3.6 0M792.8 245.2a1.8 1.8 0 1 0 3.6 0a1.8 1.8 0 1 0-3.6 0M768.6 264.1a1.8 1.8 0 1 0 3.6 0a1.8 1.8 0 1 0-3.6 0M783.4 256.6a1.8 1.8 0 1 0 3.6 0a1.8 1.8 0 1 0-3.6 0M775.7 251.6a1.8 1.8 0 1 0 3.6 0a1.8 1.8 0 1 0-3.6 0M687.5 302.9a1.8 1.8 0 1 0 3.6 0a1.8 1.8 0 1 0-3.6 0M833.5 225.1a1.8 1.8 0 1 0 3.6 0a1.8 1.8 0 1 0-3.6 0M805.6 232.9a1.8 1.8 0 1 0 3.6 0a1.8 1.8 0 1 0-3.6 0M812.5 234a1.8 1.8 0 1 0 3.6 0a1.8 1.8 0 1 0-3.6 0M855.7 213a1.8 1.8 0 1 0 3.6 0a1.8 1.8 0 1 0-3.6 0M811.1 238.9a1.8 1.8 0 1 0 3.6 0a1.8 1.8 0 1 0-3.6 0M754.4 268.5a1.8 1.8 0 1 0 3.6 0a1.8 1.8 0 1 0-3.6 0M709.7 288.2a1.8 1.8 0 1 0 3.6 0a1.8 1.8 0 1 0-3.6 0M851.5 213.7a1.8 1.8 0 1 0 3.6 0a1.8 1.8 0 1 0-3.6 0M751.3 268.8a1.8 1.8 0 1 0 3.6 0a1.8 1.8 0 1 0-3.6 0M815.4 239.5a1.8 1.8 0 1 0 3.6 0a1.8 1.8 0 1 0-3.6 0M821.3 229.2a1.8 1.8 0 1 0 3.6 0a1.8 1.8 0 1 0-3.6 0M759 266.5a1.8 1.8 0 1 0 3.6 0a1.8 1.8 0 1 0-3.6 0M768.4 260a1.8 1.8 0 1 0 3.6 0a1.8 1.8 0 1 0-3.6 0M781.9 254.1a1.8 1.8 0 1 0 3.6 0a1.8 1.8 0 1 0-3.6 0M786.8 251.9a1.8 1.8 0 1 0 3.6 0a1.8 1.8 0 1 0-3.6 0M775.4 248.8a1.8 1.8 0 1 0 3.6 0a1.8 1.8 0 1 0-3.6 0M790.1 247a1.8 1.8 0 1 0 3.6 0a1.8 1.8 0 1 0-3.6 0M772.8 256.1a1.8 1.8 0 1 0 3.6 0a1.8 1.8 0 1 0-3.6 0M733.9 281.9a1.8 1.8 0 1 0 3.6 0a1.8 1.8 0 1 0-3.6 0M761.3 263.9a1.8 1.8 0 1 0 3.6 0a1.8 1.8 0 1 0-3.6 0M739.4 271.8a1.8 1.8 0 1 0 3.6 0a1.8 1.8 0 1 0-3.6 0M796.3 247.3a1.8 1.8 0 1 0 3.6 0a1.8 1.8 0 1 0-3.6 0M756.7 258a1.8 1.8 0 1 0 3.6 0a1.8 1.8 0 1 0-3.6 0M790.5 253.1a1.8 1.8 0 1 0 3.6 0a1.8 1.8 0 1 0-3.6 0M849.6 214.1a1.8 1.8 0 1 0 3.6 0a1.8 1.8 0 1 0-3.6 0M810.3 242.6a1.8 1.8 0 1 0 3.6 0a1.8 1.8 0 1 0-3.6 0M748 274.2a1.8 1.8 0 1 0 3.6 0a1.8 1.8 0 1 0-3.6 0M764.2 265.3a1.8 1.8 0 1 0 3.6 0a1.8 1.8 0 1 0-3.6 0M811.2 234.3a1.8 1.8 0 1 0 3.6 0a1.8 1.8 0 1 0-3.6 0M687.3 304.9a1.8 1.8 0 1 0 3.6 0a1.8 1.8 0 1 0-3.6 0M783 253.3a1.8 1.8 0 1 0 3.6 0a1.8 1.8 0 1 0-3.6 0M780.6 258.7a1.8 1.8 0 1 0 3.6 0a1.8 1.8 0 1 0-3.6 0M830.4 234.1a1.8 1.8 0 1 0 3.6 0a1.8 1.8 0 1 0-3.6 0M789.4 249.4a1.8 1.8 0 1 0 3.6 0a1.8 1.8 0 1 0-3.6 0M699 299.5a1.8 1.8 0 1 0 3.6 0a1.8 1.8 0 1 0-3.6 0M791 246.4a1.8 1.8 0 1 0 3.6 0a1.8 1.8 0 1 0-3.6 0M738.9 278.2a1.8 1.8 0 1 0 3.6 0a1.8 1.8 0 1 0-3.6 0M726.4 289.1a1.8 1.8 0 1 0 3.6 0a1.8 1.8 0 1 0-3.6 0M757.9 265.1a1.8 1.8 0 1 0 3.6 0a1.8 1.8 0 1 0-3.6 0M700.3 286.5a1.8 1.8 0 1 0 3.6 0a1.8 1.8 0 1 0-3.6 0M807.9 240a1.8 1.8 0 1 0 3.6 0a1.8 1.8 0 1 0-3.6 0M777.8 252.5a1.8 1.8 0 1 0 3.6 0a1.8 1.8 0 1 0-3.6 0M815 239.8a1.8 1.8 0 1 0 3.6 0a1.8 1.8 0 1 0-3.6 0M811.6 237.4a1.8 1.8 0 1 0 3.6 0a1.8 1.8 0 1 0-3.6 0M799.6 243.3a1.8 1.8 0 1 0 3.6 0a1.8 1.8 0 1 0-3.6 0M748.2 274.9a1.8 1.8 0 1 0 3.6 0a1.8 1.8 0 1 0-3.6 0M797.8 245a1.8 1.8 0 1 0 3.6 0a1.8 1.8 0 1 0-3.6 0M812.2 242.9a1.8 1.8 0 1 0 3.6 0a1.8 1.8 0 1 0-3.6 0M847.7 217.4a1.8 1.8 0 1 0 3.6 0a1.8 1.8 0 1 0-3.6 0M706.6 297.3a1.8 1.8 0 1 0 3.6 0a1.8 1.8 0 1 0-3.6 0M826 226.3a1.8 1.8 0 1 0 3.6 0a1.8 1.8 0 1 0-3.6 0M746.9 268.1a1.8 1.8 0 1 0 3.6 0a1.8 1.8 0 1 0-3.6 0M767.8 262.9a1.8 1.8 0 1 0 3.6 0a1.8 1.8 0 1 0-3.6 0M860.2 210.7a1.8 1.8 0 1 0 3.6 0a1.8 1.8 0 1 0-3.6 0M705.2 291.1a1.8 1.8 0 1 0 3.6 0a1.8 1.8 0 1 0-3.6 0M829.7 224a1.8 1.8 0 1 0 3.6 0a1.8 1.8 0 1 0-3.6 0M771.8 260.5a1.8 1.8 0 1 0 3.6 0a1.8 1.8 0 1 0-3.6 0M846.9 222.4a1.8 1.8 0 1 0 3.6 0a1.8 1.8 0 1 0-3.6 0M798.9 241.8a1.8 1.8 0 1 0 3.6 0a1.8 1.8 0 1 0-3.6 0M789.7 243.3a1.8 1.8 0 1 0 3.6 0a1.8 1.8 0 1 0-3.6 0M702.3 297.8a1.8 1.8 0 1 0 3.6 0a1.8 1.8 0 1 0-3.6 0M731.6 277.9a1.8 1.8 0 1 0 3.6 0a1.8 1.8 0 1 0-3.6 0M745.3 269.5a1.8 1.8 0 1 0 3.6 0a1.8 1.8 0 1 0-3.6 0M745.9 273.8a1.8 1.8 0 1 0 3.6 0a1.8 1.8 0 1 0-3.6 0M823.4 231.3a1.8 1.8 0 1 0 3.6 0a1.8 1.8 0 1 0-3.6 0M741.9 267.6a1.8 1.8 0 1 0 3.6 0a1.8 1.8 0 1 0-3.6 0M789.2 246.4a1.8 1.8 0 1 0 3.6 0a1.8 1.8 0 1 0-3.6 0M732.7 270.3a1.8 1.8 0 1 0 3.6 0a1.8 1.8 0 1 0-3.6 0M816.8 238.1a1.8 1.8 0 1 0 3.6 0a1.8 1.8 0 1 0-3.6 0M729.4 286.9a1.8 1.8 0 1 0 3.6 0a1.8 1.8 0 1 0-3.6 0M764.5 265.5a1.8 1.8 0 1 0 3.6 0a1.8 1.8 0 1 0-3.6 0M834.2 224.8a1.8 1.8 0 1 0 3.6 0a1.8 1.8 0 1 0-3.6 0M780.4 257.5a1.8 1.8 0 1 0 3.6 0a1.8 1.8 0 1 0-3.6 0M749.4 267a1.8 1.8 0 1 0 3.6 0a1.8 1.8 0 1 0-3.6 0M715.9 275.9a1.8 1.8 0 1 0 3.6 0a1.8 1.8 0 1 0-3.6 0M779.5 256.4a1.8 1.8 0 1 0 3.6 0a1.8 1.8 0 1 0-3.6 0M815.3 244.2a1.8 1.8 0 1 0 3.6 0a1.8 1.8 0 1 0-3.6 0M825.2 225.4a1.8 1.8 0 1 0 3.6 0a1.8 1.8 0 1 0-3.6 0M749.9 271.6a1.8 1.8 0 1 0 3.6 0a1.8 1.8 0 1 0-3.6 0M753.5 264.7a1.8 1.8 0 1 0 3.6 0a1.8 1.8 0 1 0-3.6 0M693.8 294.7a1.8 1.8 0 1 0 3.6 0a1.8 1.8 0 1 0-3.6 0M768.1 258.8a1.8 1.8 0 1 0 3.6 0a1.8 1.8 0 1 0-3.6 0M696.2 297.7a1.8 1.8 0 1 0 3.6 0a1.8 1.8 0 1 0-3.6 0M727.1 278.3a1.8 1.8 0 1 0 3.6 0a1.8 1.8 0 1 0-3.6 0M708.6 287.6a1.8 1.8 0 1 0 3.6 0a1.8 1.8 0 1 0-3.6 0M773.8 253.1a1.8 1.8 0 1 0 3.6 0a1.8 1.8 0 1 0-3.6 0M837.2 218.4a1.8 1.8 0 1 0 3.6 0a1.8 1.8 0 1 0-3.6 0M738.4 285.6a1.8 1.8 0 1 0 3.6 0a1.8 1.8 0 1 0-3.6 0M773 259.8a1.8 1.8 0 1 0 3.6 0a1.8 1.8 0 1 0-3.6 0M721.1 287.5a1.8 1.8 0 1 0 3.6 0a1.8 1.8 0 1 0-3.6 0M779.8 252.3a1.8 1.8 0 1 0 3.6 0a1.8 1.8 0 1 0-3.6 0M836 224.9a1.8 1.8 0 1 0 3.6 0a1.8 1.8 0 1 0-3.6 0M795.3 245a1.8 1.8 0 1 0 3.6 0a1.8 1.8 0 1 0-3.6 0M684.6 304.8a1.8 1.8 0 1 0 3.6 0a1.8 1.8 0 1 0-3.6 0M857.4 214.7a1.8 1.8 0 1 0 3.6 0a1.8 1.8 0 1 0-3.6 0M724.1 277a1.8 1.8 0 1 0 3.6 0a1.8 1.8 0 1 0-3.6 0M706.9 291.1a1.8 1.8 0 1 0 3.6 0a1.8 1.8 0 1 0-3.6 0M779.4 254.4a1.8 1.8 0 1 0 3.6 0a1.8 1.8 0 1 0-3.6 0M818.9 234.3a1.8 1.8 0 1 0 3.6 0a1.8 1.8 0 1 0-3.6 0M772.7 251.2a1.8 1.8 0 1 0 3.6 0a1.8 1.8 0 1 0-3.6 0M856.7 220.1a1.8 1.8 0 1 0 3.6 0a1.8 1.8 0 1 0-3.6 0M837.4 219a1.8 1.8 0 1 0 3.6 0a1.8 1.8 0 1 0-3.6 0M748.9 268.4a1.8 1.8 0 1 0 3.6 0a1.8 1.8 0 1 0-3.6 0M765 264.9a1.8 1.8 0 1 0 3.6 0a1.8 1.8 0 1 0-3.6 0M737.6 271.7a1.8 1.8 0 1 0 3.6 0a1.8 1.8 0 1 0-3.6 0M837.2 221.7a1.8 1.8 0 1 0 3.6 0a1.8 1.8 0 1 0-3.6 0M757.6 258.4a1.8 1.8 0 1 0 3.6 0a1.8 1.8 0 1 0-3.6 0M796.2 249.9a1.8 1.8 0 1 0 3.6 0a1.8 1.8 0 1 0-3.6 0M782.7 246.9a1.8 1.8 0 1 0 3.6 0a1.8 1.8 0 1 0-3.6 0M760.4 265.7a1.8 1.8 0 1 0 3.6 0a1.8 1.8 0 1 0-3.6 0M818.3 231.1a1.8 1.8 0 1 0 3.6 0a1.8 1.8 0 1 0-3.6 0M687.7 300a1.8 1.8 0 1 0 3.6 0a1.8 1.8 0 1 0-3.6 0M686 300.9a1.8 1.8 0 1 0 3.6 0a1.8 1.8 0 1 0-3.6 0M812.5 237a1.8 1.8 0 1 0 3.6 0a1.8 1.8 0 1 0-3.6 0M818.1 234.8a1.8 1.8 0 1 0 3.6 0a1.8 1.8 0 1 0-3.6 0M739 271.7a1.8 1.8 0 1 0 3.6 0a1.8 1.8 0 1 0-3.6 0M829.6 231.2a1.8 1.8 0 1 0 3.6 0a1.8 1.8 0 1 0-3.6 0M694.8 301a1.8 1.8 0 1 0 3.6 0a1.8 1.8 0 1 0-3.6 0M851.8 215.2a1.8 1.8 0 1 0 3.6 0a1.8 1.8 0 1 0-3.6 0M775.8 255.3a1.8 1.8 0 1 0 3.6 0a1.8 1.8 0 1 0-3.6 0M734.1 279.6a1.8 1.8 0 1 0 3.6 0a1.8 1.8 0 1 0-3.6 0M682 297.9a1.8 1.8 0 1 0 3.6 0a1.8 1.8 0 1 0-3.6 0M820 234.8a1.8 1.8 0 1 0 3.6 0a1.8 1.8 0 1 0-3.6 0M837.5 222.9a1.8 1.8 0 1 0 3.6 0a1.8 1.8 0 1 0-3.6 0M829.3 234a1.8 1.8 0 1 0 3.6 0a1.8 1.8 0 1 0-3.6 0M748.8 271.4a1.8 1.8 0 1 0 3.6 0a1.8 1.8 0 1 0-3.6 0M823.6 232.5a1.8 1.8 0 1 0 3.6 0a1.8 1.8 0 1 0-3.6 0M827.6 233.2a1.8 1.8 0 1 0 3.6 0a1.8 1.8 0 1 0-3.6 0M810.8 240a1.8 1.8 0 1 0 3.6 0a1.8 1.8 0 1 0-3.6 0M765.1 258.5a1.8 1.8 0 1 0 3.6 0a1.8 1.8 0 1 0-3.6 0M802.7 239.6a1.8 1.8 0 1 0 3.6 0a1.8 1.8 0 1 0-3.6 0M789.4 247.4a1.8 1.8 0 1 0 3.6 0a1.8 1.8 0 1 0-3.6 0M800 240.1a1.8 1.8 0 1 0 3.6 0a1.8 1.8 0 1 0-3.6 0M722.5 284.5a1.8 1.8 0 1 0 3.6 0a1.8 1.8 0 1 0-3.6 0M765.7 258.6a1.8 1.8 0 1 0 3.6 0a1.8 1.8 0 1 0-3.6 0M760.3 262.8a1.8 1.8 0 1 0 3.6 0a1.8 1.8 0 1 0-3.6 0M836.4 222.4a1.8 1.8 0 1 0 3.6 0a1.8 1.8 0 1 0-3.6 0M742.8 278.8a1.8 1.8 0 1 0 3.6 0a1.8 1.8 0 1 0-3.6 0M766.1 254.8a1.8 1.8 0 1 0 3.6 0a1.8 1.8 0 1 0-3.6 0M828.5 227.2a1.8 1.8 0 1 0 3.6 0a1.8 1.8 0 1 0-3.6 0M808.6 242a1.8 1.8 0 1 0 3.6 0a1.8 1.8 0 1 0-3.6 0M762.8 267.7a1.8 1.8 0 1 0 3.6 0a1.8 1.8 0 1 0-3.6 0M853.8 215.4a1.8 1.8 0 1 0 3.6 0a1.8 1.8 0 1 0-3.6 0M861.6 213a1.8 1.8 0 1 0 3.6 0a1.8 1.8 0 1 0-3.6 0M778.4 253.4a1.8 1.8 0 1 0 3.6 0a1.8 1.8 0 1 0-3.6 0M724.4 284.3a1.8 1.8 0 1 0 3.6 0a1.8 1.8 0 1 0-3.6 0M812.7 239.8a1.8 1.8 0 1 0 3.6 0a1.8 1.8 0 1 0-3.6 0M821.9 230.3a1.8 1.8 0 1 0 3.6 0a1.8 1.8 0 1 0-3.6 0M807.8 236.3a1.8 1.8 0 1 0 3.6 0a1.8 1.8 0 1 0-3.6 0M708.9 290.8a1.8 1.8 0 1 0 3.6 0a1.8 1.8 0 1 0-3.6 0M687.5 302.9a1.8 1.8 0 1 0 3.6 0a1.8 1.8 0 1 0-3.6 0M700.3 292.2a1.8 1.8 0 1 0 3.6 0a1.8 1.8 0 1 0-3.6 0M768.7 259.9a1.8 1.8 0 1 0 3.6 0a1.8 1.8 0 1 0-3.6 0M741.8 273.8a1.8 1.8 0 1 0 3.6 0a1.8 1.8 0 1 0-3.6 0M755.9 260.1a1.8 1.8 0 1 0 3.6 0a1.8 1.8 0 1 0-3.6 0M742.5 275.2a1.8 1.8 0 1 0 3.6 0a1.8 1.8 0 1 0-3.6 0M739.3 274.3a1.8 1.8 0 1 0 3.6 0a1.8 1.8 0 1 0-3.6 0M787.3 250.1a1.8 1.8 0 1 0 3.6 0a1.8 1.8 0 1 0-3.6 0M817 235.3a1.8 1.8 0 1 0 3.6 0a1.8 1.8 0 1 0-3.6 0M790.1 257.9a1.8 1.8 0 1 0 3.6 0a1.8 1.8 0 1 0-3.6 0M752.9 266.5a1.8 1.8 0 1 0 3.6 0a1.8 1.8 0 1 0-3.6 0M712.6 288.1a1.8 1.8 0 1 0 3.6 0a1.8 1.8 0 1 0-3.6 0M824.9 234a1.8 1.8 0 1 0 3.6 0a1.8 1.8 0 1 0-3.6 0M770 252.7a1.8 1.8 0 1 0 3.6 0a1.8 1.8 0 1 0-3.6 0M727.8 281a1.8 1.8 0 1 0 3.6 0a1.8 1.8 0 1 0-3.6 0M734.5 278.8a1.8 1.8 0 1 0 3.6 0a1.8 1.8 0 1 0-3.6 0M685.4 306.7a1.8 1.8 0 1 0 3.6 0a1.8 1.8 0 1 0-3.6 0M798.1 241.9a1.8 1.8 0 1 0 3.6 0a1.8 1.8 0 1 0-3.6 0M725.5 283.8a1.8 1.8 0 1 0 3.6 0a1.8 1.8 0 1 0-3.6 0M810.5 241.7a1.8 1.8 0 1 0 3.6 0a1.8 1.8 0 1 0-3.6 0M733.7 279.3a1.8 1.8 0 1 0 3.6 0a1.8 1.8 0 1 0-3.6 0M734.9 280a1.8 1.8 0 1 0 3.6 0a1.8 1.8 0 1 0-3.6 0M840.5 220.8a1.8 1.8 0 1 0 3.6 0a1.8 1.8 0 1 0-3.6 0M725.7 278.6a1.8 1.8 0 1 0 3.6 0a1.8 1.8 0 1 0-3.6 0M752.3 272.4a1.8 1.8 0 1 0 3.6 0a1.8 1.8 0 1 0-3.6 0M786.7 252.1a1.8 1.8 0 1 0 3.6 0a1.8 1.8 0 1 0-3.6 0M819.8 235.4a1.8 1.8 0 1 0 3.6 0a1.8 1.8 0 1 0-3.6 0M746.1 262.5a1.8 1.8 0 1 0 3.6 0a1.8 1.8 0 1 0-3.6 0M852.7 218.5a1.8 1.8 0 1 0 3.6 0a1.8 1.8 0 1 0-3.6 0M809.8 245.5a1.8 1.8 0 1 0 3.6 0a1.8 1.8 0 1 0-3.6 0M715.2 283a1.8 1.8 0 1 0 3.6 0a1.8 1.8 0 1 0-3.6 0M763 264.1a1.8 1.8 0 1 0 3.6 0a1.8 1.8 0 1 0-3.6 0M820.5 237a1.8 1.8 0 1 0 3.6 0a1.8 1.8 0 1 0-3.6 0M795.3 241.2a1.8 1.8 0 1 0 3.6 0a1.8 1.8 0 1 0-3.6 0M719.2 284.5a1.8 1.8 0 1 0 3.6 0a1.8 1.8 0 1 0-3.6 0M783.8 260.5a1.8 1.8 0 1 0 3.6 0a1.8 1.8 0 1 0-3.6 0M760.6 268.8a1.8 1.8 0 1 0 3.6 0a1.8 1.8 0 1 0-3.6 0M851 217.6a1.8 1.8 0 1 0 3.6 0a1.8 1.8 0 1 0-3.6 0M782.2 253.3a1.8 1.8 0 1 0 3.6 0a1.8 1.8 0 1 0-3.6 0M725.6 285.5a1.8 1.8 0 1 0 3.6 0a1.8 1.8 0 1 0-3.6 0M832.8 223.6a1.8 1.8 0 1 0 3.6 0a1.8 1.8 0 1 0-3.6 0M729.1 285.2a1.8 1.8 0 1 0 3.6 0a1.8 1.8 0 1 0-3.6 0M699.4 287.5a1.8 1.8 0 1 0 3.6 0a1.8 1.8 0 1 0-3.6 0M723.7 280a1.8 1.8 0 1 0 3.6 0a1.8 1.8 0 1 0-3.6 0M798.7 243.9a1.8 1.8 0 1 0 3.6 0a1.8 1.8 0 1 0-3.6 0M783.7 250.2a1.8 1.8 0 1 0 3.6 0a1.8 1.8 0 1 0-3.6 0M720.1 285.2a1.8 1.8 0 1 0 3.6 0a1.8 1.8 0 1 0-3.6 0M765.4 261.7a1.8 1.8 0 1 0 3.6 0a1.8 1.8 0 1 0-3.6 0M799.4 240.1a1.8 1.8 0 1 0 3.6 0a1.8 1.8 0 1 0-3.6 0M745.9 273.5a1.8 1.8 0 1 0 3.6 0a1.8 1.8 0 1 0-3.6 0M853 215.4a1.8 1.8 0 1 0 3.6 0a1.8 1.8 0 1 0-3.6 0M744 276.7a1.8 1.8 0 1 0 3.6 0a1.8 1.8 0 1 0-3.6 0M775.5 254.9a1.8 1.8 0 1 0 3.6 0a1.8 1.8 0 1 0-3.6 0M754.5 264a1.8 1.8 0 1 0 3.6 0a1.8 1.8 0 1 0-3.6 0M816.5 238.2a1.8 1.8 0 1 0 3.6 0a1.8 1.8 0 1 0-3.6 0M743.4 272.3a1.8 1.8 0 1 0 3.6 0a1.8 1.8 0 1 0-3.6 0M808.9 245.1a1.8 1.8 0 1 0 3.6 0a1.8 1.8 0 1 0-3.6 0M697.7 299a1.8 1.8 0 1 0 3.6 0a1.8 1.8 0 1 0-3.6 0M794.9 250.2a1.8 1.8 0 1 0 3.6 0a1.8 1.8 0 1 0-3.6 0M785.7 247.6a1.8 1.8 0 1 0 3.6 0a1.8 1.8 0 1 0-3.6 0M794.9 241a1.8 1.8 0 1 0 3.6 0a1.8 1.8 0 1 0-3.6 0M793.7 249.7a1.8 1.8 0 1 0 3.6 0a1.8 1.8 0 1 0-3.6 0M773.4 257.9a1.8 1.8 0 1 0 3.6 0a1.8 1.8 0 1 0-3.6 0M778.3 253a1.8 1.8 0 1 0 3.6 0a1.8 1.8 0 1 0-3.6 0M763 267.4a1.8 1.8 0 1 0 3.6 0a1.8 1.8 0 1 0-3.6 0M808.1 239.6a1.8 1.8 0 1 0 3.6 0a1.8 1.8 0 1 0-3.6 0M737.7 270a1.8 1.8 0 1 0 3.6 0a1.8 1.8 0 1 0-3.6 0M797.5 240.3a1.8 1.8 0 1 0 3.6 0a1.8 1.8 0 1 0-3.6 0M688 301.3a1.8 1.8 0 1 0 3.6 0a1.8 1.8 0 1 0-3.6 0M807 241.7a1.8 1.8 0 1 0 3.6 0a1.8 1.8 0 1 0-3.6 0M757.8 267.8a1.8 1.8 0 1 0 3.6 0a1.8 1.8 0 1 0-3.6 0M721.6 283.4a1.8 1.8 0 1 0 3.6 0a1.8 1.8 0 1 0-3.6 0M800.5 243.7a1.8 1.8 0 1 0 3.6 0a1.8 1.8 0 1 0-3.6 0M816.1 236.1a1.8 1.8 0 1 0 3.6 0a1.8 1.8 0 1 0-3.6 0M704.4 289.1a1.8 1.8 0 1 0 3.6 0a1.8 1.8 0 1 0-3.6 0M731.3 279.1a1.8 1.8 0 1 0 3.6 0a1.8 1.8 0 1 0-3.6 0M852.1 214.7a1.8 1.8 0 1 0 3.6 0a1.8 1.8 0 1 0-3.6 0M701 288.8a1.8 1.8 0 1 0 3.6 0a1.8 1.8 0 1 0-3.6 0M848.3 224a1.8 1.8 0 1 0 3.6 0a1.8 1.8 0 1 0-3.6 0M818.4 232.3a1.8 1.8 0 1 0 3.6 0a1.8 1.8 0 1 0-3.6 0M823.7 229.4a1.8 1.8 0 1 0 3.6 0a1.8 1.8 0 1 0-3.6 0M813.9 240.7a1.8 1.8 0 1 0 3.6 0a1.8 1.8 0 1 0-3.6 0M701 295.4a1.8 1.8 0 1 0 3.6 0a1.8 1.8 0 1 0-3.6 0M806.3 239.4a1.8 1.8 0 1 0 3.6 0a1.8 1.8 0 1 0-3.6 0M846.3 214.5a1.8 1.8 0 1 0 3.6 0a1.8 1.8 0 1 0-3.6 0M805.7 240.3a1.8 1.8 0 1 0 3.6 0a1.8 1.8 0 1 0-3.6 0M730.8 281.9a1.8 1.8 0 1 0 3.6 0a1.8 1.8 0 1 0-3.6 0M815.8 232.7a1.8 1.8 0 1 0 3.6 0a1.8 1.8 0 1 0-3.6 0M847.2 217.8a1.8 1.8 0 1 0 3.6 0a1.8 1.8 0 1 0-3.6 0M728.5 279.8a1.8 1.8 0 1 0 3.6 0a1.8 1.8 0 1 0-3.6 0M846.5 220.6a1.8 1.8 0 1 0 3.6 0a1.8 1.8 0 1 0-3.6 0M827.7 229.2a1.8 1.8 0 1 0 3.6 0a1.8 1.8 0 1 0-3.6 0M758.1 264.8a1.8 1.8 0 1 0 3.6 0a1.8 1.8 0 1 0-3.6 0M854.9 223.9a1.8 1.8 0 1 0 3.6 0a1.8 1.8 0 1 0-3.6 0M781.5 248.2a1.8 1.8 0 1 0 3.6 0a1.8 1.8 0 1 0-3.6 0M763.8 265.7a1.8 1.8 0 1 0 3.6 0a1.8 1.8 0 1 0-3.6 0M784.6 249.3a1.8 1.8 0 1 0 3.6 0a1.8 1.8 0 1 0-3.6 0M727.6 282.4a1.8 1.8 0 1 0 3.6 0a1.8 1.8 0 1 0-3.6 0M810.4 237.1a1.8 1.8 0 1 0 3.6 0a1.8 1.8 0 1 0-3.6 0M806.5 239a1.8 1.8 0 1 0 3.6 0a1.8 1.8 0 1 0-3.6 0M764.7 259.2a1.8 1.8 0 1 0 3.6 0a1.8 1.8 0 1 0-3.6 0M783.3 252.1a1.8 1.8 0 1 0 3.6 0a1.8 1.8 0 1 0-3.6 0M761.1 260.1a1.8 1.8 0 1 0 3.6 0a1.8 1.8 0 1 0-3.6 0M800.6 243.6a1.8 1.8 0 1 0 3.6 0a1.8 1.8 0 1 0-3.6 0M847.5 222.7a1.8 1.8 0 1 0 3.6 0a1.8 1.8 0 1 0-3.6 0M773.4 260.4a1.8 1.8 0 1 0 3.6 0a1.8 1.8 0 1 0-3.6 0M700.5 286.8a1.8 1.8 0 1 0 3.6 0a1.8 1.8 0 1 0-3.6 0M799.2 246.2a1.8 1.8 0 1 0 3.6 0a1.8 1.8 0 1 0-3.6 0M772.4 252.1a1.8 1.8 0 1 0 3.6 0a1.8 1.8 0 1 0-3.6 0M810 239.9a1.8 1.8 0 1 0 3.6 0a1.8 1.8 0 1 0-3.6 0M796.3 242.3a1.8 1.8 0 1 0 3.6 0a1.8 1.8 0 1 0-3.6 0M799.4 238.6a1.8 1.8 0 1 0 3.6 0a1.8 1.8 0 1 0-3.6 0M763 265.2a1.8 1.8 0 1 0 3.6 0a1.8 1.8 0 1 0-3.6 0M758.9 266.6a1.8 1.8 0 1 0 3.6 0a1.8 1.8 0 1 0-3.6 0M724.7 277.8a1.8 1.8 0 1 0 3.6 0a1.8 1.8 0 1 0-3.6 0M787.5 246.9a1.8 1.8 0 1 0 3.6 0a1.8 1.8 0 1 0-3.6 0M769.1 259.9a1.8 1.8 0 1 0 3.6 0a1.8 1.8 0 1 0-3.6 0M795.2 240.2a1.8 1.8 0 1 0 3.6 0a1.8 1.8 0 1 0-3.6 0M813 234.2a1.8 1.8 0 1 0 3.6 0a1.8 1.8 0 1 0-3.6 0M816 241.3a1.8 1.8 0 1 0 3.6 0a1.8 1.8 0 1 0-3.6 0M707.3 292.6a1.8 1.8 0 1 0 3.6 0a1.8 1.8 0 1 0-3.6 0M754.5 262.1a1.8 1.8 0 1 0 3.6 0a1.8 1.8 0 1 0-3.6 0M685.1 301.1a1.8 1.8 0 1 0 3.6 0a1.8 1.8 0 1 0-3.6 0M744.7 270a1.8 1.8 0 1 0 3.6 0a1.8 1.8 0 1 0-3.6 0M862.2 204.7a1.8 1.8 0 1 0 3.6 0a1.8 1.8 0 1 0-3.6 0M831 227.1a1.8 1.8 0 1 0 3.6 0a1.8 1.8 0 1 0-3.6 0M850.5 213a1.8 1.8 0 1 0 3.6 0a1.8 1.8 0 1 0-3.6 0M772.9 255.5a1.8 1.8 0 1 0 3.6 0a1.8 1.8 0 1 0-3.6 0M774.3 259.8a1.8 1.8 0 1 0 3.6 0a1.8 1.8 0 1 0-3.6 0M752.3 261.7a1.8 1.8 0 1 0 3.6 0a1.8 1.8 0 1 0-3.6 0M832.5 228a1.8 1.8 0 1 0 3.6 0a1.8 1.8 0 1 0-3.6 0M828 227a1.8 1.8 0 1 0 3.6 0a1.8 1.8 0 1 0-3.6 0M836.7 223.1a1.8 1.8 0 1 0 3.6 0a1.8 1.8 0 1 0-3.6 0M742.2 273.7a1.8 1.8 0 1 0 3.6 0a1.8 1.8 0 1 0-3.6 0M707.2 292.9a1.8 1.8 0 1 0 3.6 0a1.8 1.8 0 1 0-3.6 0M752.9 266.6a1.8 1.8 0 1 0 3.6 0a1.8 1.8 0 1 0-3.6 0M831.7 224.9a1.8 1.8 0 1 0 3.6 0a1.8 1.8 0 1 0-3.6 0M768.1 257.5a1.8 1.8 0 1 0 3.6 0a1.8 1.8 0 1 0-3.6 0M728.7 277.9a1.8 1.8 0 1 0 3.6 0a1.8 1.8 0 1 0-3.6 0M816 227.9a1.8 1.8 0 1 0 3.6 0a1.8 1.8 0 1 0-3.6 0M837.7 222.2a1.8 1.8 0 1 0 3.6 0a1.8 1.8 0 1 0-3.6 0M712.9 290a1.8 1.8 0 1 0 3.6 0a1.8 1.8 0 1 0-3.6 0M740.7 275.8a1.8 1.8 0 1 0 3.6 0a1.8 1.8 0 1 0-3.6 0M813.8 233.5a1.8 1.8 0 1 0 3.6 0a1.8 1.8 0 1 0-3.6 0M757.3 266.7a1.8 1.8 0 1 0 3.6 0a1.8 1.8 0 1 0-3.6 0M863 210.7a1.8 1.8 0 1 0 3.6 0a1.8 1.8 0 1 0-3.6 0M791.5 243.8a1.8 1.8 0 1 0 3.6 0a1.8 1.8 0 1 0-3.6 0M721.2 281.7a1.8 1.8 0 1 0 3.6 0a1.8 1.8 0 1 0-3.6 0M798.6 240.3a1.8 1.8 0 1 0 3.6 0a1.8 1.8 0 1 0-3.6 0M753.6 270.6a1.8 1.8 0 1 0 3.6 0a1.8 1.8 0 1 0-3.6 0M799.6 249.4a1.8 1.8 0 1 0 3.6 0a1.8 1.8 0 1 0-3.6 0M759 268.9a1.8 1.8 0 1 0 3.6 0a1.8 1.8 0 1 0-3.6 0M826.5 237.9a1.8 1.8 0 1 0 3.6 0a1.8 1.8 0 1 0-3.6 0M735.2 278a1.8 1.8 0 1 0 3.6 0a1.8 1.8 0 1 0-3.6 0M742.6 269.8a1.8 1.8 0 1 0 3.6 0a1.8 1.8 0 1 0-3.6 0M853.8 216.5a1.8 1.8 0 1 0 3.6 0a1.8 1.8 0 1 0-3.6 0M739.6 276.2a1.8 1.8 0 1 0 3.6 0a1.8 1.8 0 1 0-3.6 0M859 208.9a1.8 1.8 0 1 0 3.6 0a1.8 1.8 0 1 0-3.6 0M855.8 216.7a1.8 1.8 0 1 0 3.6 0a1.8 1.8 0 1 0-3.6 0M754.9 270.9a1.8 1.8 0 1 0 3.6 0a1.8 1.8 0 1 0-3.6 0M747 270.6a1.8 1.8 0 1 0 3.6 0a1.8 1.8 0 1 0-3.6 0M793.5 248.2a1.8 1.8 0 1 0 3.6 0a1.8 1.8 0 1 0-3.6 0M826.6 224.4a1.8 1.8 0 1 0 3.6 0a1.8 1.8 0 1 0-3.6 0M711.4 291a1.8 1.8 0 1 0 3.6 0a1.8 1.8 0 1 0-3.6 0M741.7 269.7a1.8 1.8 0 1 0 3.6 0a1.8 1.8 0 1 0-3.6 0M731.9 283.2a1.8 1.8 0 1 0 3.6 0a1.8 1.8 0 1 0-3.6 0M791.6 237.7a1.8 1.8 0 1 0 3.6 0a1.8 1.8 0 1 0-3.6 0M728.2 272.6a1.8 1.8 0 1 0 3.6 0a1.8 1.8 0 1 0-3.6 0M794.4 248.7a1.8 1.8 0 1 0 3.6 0a1.8 1.8 0 1 0-3.6 0M801.8 243.5a1.8 1.8 0 1 0 3.6 0a1.8 1.8 0 1 0-3.6 0M829.2 227.9a1.8 1.8 0 1 0 3.6 0a1.8 1.8 0 1 0-3.6 0M783.6 251.8a1.8 1.8 0 1 0 3.6 0a1.8 1.8 0 1 0-3.6 0M844.2 223.6a1.8 1.8 0 1 0 3.6 0a1.8 1.8 0 1 0-3.6 0M686.2 297.5a1.8 1.8 0 1 0 3.6 0a1.8 1.8 0 1 0-3.6 0M753.4 261.9a1.8 1.8 0 1 0 3.6 0a1.8 1.8 0 1 0-3.6 0M696.5 300.2a1.8 1.8 0 1 0 3.6 0a1.8 1.8 0 1 0-3.6 0M778.6 262.7a1.8 1.8 0 1 0 3.6 0a1.8 1.8 0 1 0-3.6 0M819.4 234.1a1.8 1.8 0 1 0 3.6 0a1.8 1.8 0 1 0-3.6 0M762.4 265.5a1.8 1.8 0 1 0 3.6 0a1.8 1.8 0 1 0-3.6 0M853.5 213.1a1.8 1.8 0 1 0 3.6 0a1.8 1.8 0 1 0-3.6 0M708.6 291.7a1.8 1.8 0 1 0 3.6 0a1.8 1.8 0 1 0-3.6 0M720.1 285.3a1.8 1.8 0 1 0 3.6 0a1.8 1.8 0 1 0-3.6 0M718.4 282a1.8 1.8 0 1 0 3.6 0a1.8 1.8 0 1 0-3.6 0M755.7 264.8a1.8 1.8 0 1 0 3.6 0a1.8 1.8 0 1 0-3.6 0M718.2 283a1.8 1.8 0 1 0 3.6 0a1.8 1.8 0 1 0-3.6 0M831.4 226.1a1.8 1.8 0 1 0 3.6 0a1.8 1.8 0 1 0-3.6 0M795.2 244a1.8 1.8 0 1 0 3.6 0a1.8 1.8 0 1 0-3.6 0M864.9 210.8a1.8 1.8 0 1 0 3.6 0a1.8 1.8 0 1 0-3.6 0M732.9 281.8a1.8 1.8 0 1 0 3.6 0a1.8 1.8 0 1 0-3.6 0M752.5 267.5a1.8 1.8 0 1 0 3.6 0a1.8 1.8 0 1 0-3.6 0M740.2 268.7a1.8 1.8 0 1 0 3.6 0a1.8 1.8 0 1 0-3.6 0M784 251.9a1.8 1.8 0 1 0 3.6 0a1.8 1.8 0 1 0-3.6 0M714.1 280.8a1.8 1.8 0 1 0 3.6 0a1.8 1.8 0 1 0-3.6 0M824.4 231.9a1.8 1.8 0 1 0 3.6 0a1.8 1.8 0 1 0-3.6 0M798.9 241.8a1.8 1.8 0 1 0 3.6 0a1.8 1.8 0 1 0-3.6 0M722 286.6a1.8 1.8 0 1 0 3.6 0a1.8 1.8 0 1 0-3.6 0M788.8 250.7a1.8 1.8 0 1 0 3.6 0a1.8 1.8 0 1 0-3.6 0M770.2 258.9a1.8 1.8 0 1 0 3.6 0a1.8 1.8 0 1 0-3.6 0M737.2 277.7a1.8 1.8 0 1 0 3.6 0a1.8 1.8 0 1 0-3.6 0M857.1 218.8a1.8 1.8 0 1 0 3.6 0a1.8 1.8 0 1 0-3.6 0M697.3 294.9a1.8 1.8 0 1 0 3.6 0a1.8 1.8 0 1 0-3.6 0M741.3 272.2a1.8 1.8 0 1 0 3.6 0a1.8 1.8 0 1 0-3.6 0M702.8 294.5a1.8 1.8 0 1 0 3.6 0a1.8 1.8 0 1 0-3.6 0M776.3 257.9a1.8 1.8 0 1 0 3.6 0a1.8 1.8 0 1 0-3.6 0M868.2 212.3a1.8 1.8 0 1 0 3.6 0a1.8 1.8 0 1 0-3.6 0M730.1 276.6a1.8 1.8 0 1 0 3.6 0a1.8 1.8 0 1 0-3.6 0M746.1 276.1a1.8 1.8 0 1 0 3.6 0a1.8 1.8 0 1 0-3.6 0M841.6 220.5a1.8 1.8 0 1 0 3.6 0a1.8 1.8 0 1 0-3.6 0M730.9 283.2a1.8 1.8 0 1 0 3.6 0a1.8 1.8 0 1 0-3.6 0M768.8 257a1.8 1.8 0 1 0 3.6 0a1.8 1.8 0 1 0-3.6 0M843.7 218a1.8 1.8 0 1 0 3.6 0a1.8 1.8 0 1 0-3.6 0M761.6 257.8a1.8 1.8 0 1 0 3.6 0a1.8 1.8 0 1 0-3.6 0M756.9 263.3a1.8 1.8 0 1 0 3.6 0a1.8 1.8 0 1 0-3.6 0M820.4 238a1.8 1.8 0 1 0 3.6 0a1.8 1.8 0 1 0-3.6 0M733.2 282.6a1.8 1.8 0 1 0 3.6 0a1.8 1.8 0 1 0-3.6 0M735.1 277.4a1.8 1.8 0 1 0 3.6 0a1.8 1.8 0 1 0-3.6 0M821.3 231.8a1.8 1.8 0 1 0 3.6 0a1.8 1.8 0 1 0-3.6 0M722.7 285.2a1.8 1.8 0 1 0 3.6 0a1.8 1.8 0 1 0-3.6 0M863.3 212.7a1.8 1.8 0 1 0 3.6 0a1.8 1.8 0 1 0-3.6 0M824.8 229.6a1.8 1.8 0 1 0 3.6 0a1.8 1.8 0 1 0-3.6 0M816.4 236.3a1.8 1.8 0 1 0 3.6 0a1.8 1.8 0 1 0-3.6 0M805.6 236.6a1.8 1.8 0 1 0 3.6 0a1.8 1.8 0 1 0-3.6 0M792.3 253.9a1.8 1.8 0 1 0 3.6 0a1.8 1.8 0 1 0-3.6 0M822.8 229.1a1.8 1.8 0 1 0 3.6 0a1.8 1.8 0 1 0-3.6 0M759.5 261.9a1.8 1.8 0 1 0 3.6 0a1.8 1.8 0 1 0-3.6 0M826.3 228.8a1.8 1.8 0 1 0 3.6 0a1.8 1.8 0 1 0-3.6 0M728.5 279.5a1.8 1.8 0 1 0 3.6 0a1.8 1.8 0 1 0-3.6 0M700.6 297a1.8 1.8 0 1 0 3.6 0a1.8 1.8 0 1 0-3.6 0M857.4 212.4a1.8 1.8 0 1 0 3.6 0a1.8 1.8 0 1 0-3.6 0M846.6 220a1.8 1.8 0 1 0 3.6 0a1.8 1.8 0 1 0-3.6 0M767.8 265.3a1.8 1.8 0 1 0 3.6 0a1.8 1.8 0 1 0-3.6 0M834.8 225.3a1.8 1.8 0 1 0 3.6 0a1.8 1.8 0 1 0-3.6 0M810.2 241.1a1.8 1.8 0 1 0 3.6 0a1.8 1.8 0 1 0-3.6 0M791 246.2a1.8 1.8 0 1 0 3.6 0a1.8 1.8 0 1 0-3.6 0M762.7 259.7a1.8 1.8 0 1 0 3.6 0a1.8 1.8 0 1 0-3.6 0M831.6 228.3a1.8 1.8 0 1 0 3.6 0a1.8 1.8 0 1 0-3.6 0M851.4 215.6a1.8 1.8 0 1 0 3.6 0a1.8 1.8 0 1 0-3.6 0M790.5 251.7a1.8 1.8 0 1 0 3.6 0a1.8 1.8 0 1 0-3.6 0M816.2 228.5a1.8 1.8 0 1 0 3.6 0a1.8 1.8 0 1 0-3.6 0M741.9 276.3a1.8 1.8 0 1 0 3.6 0a1.8 1.8 0 1 0-3.6 0M763.6 267.7a1.8 1.8 0 1 0 3.6 0a1.8 1.8 0 1 0-3.6 0M803.3 240a1.8 1.8 0 1 0 3.6 0a1.8 1.8 0 1 0-3.6 0M726.8 280a1.8 1.8 0 1 0 3.6 0a1.8 1.8 0 1 0-3.6 0M806.1 236.5a1.8 1.8 0 1 0 3.6 0a1.8 1.8 0 1 0-3.6 0M841 221a1.8 1.8 0 1 0 3.6 0a1.8 1.8 0 1 0-3.6 0M847.8 214.9a1.8 1.8 0 1 0 3.6 0a1.8 1.8 0 1 0-3.6 0M753.2 268.5a1.8 1.8 0 1 0 3.6 0a1.8 1.8 0 1 0-3.6 0M769.2 258.2a1.8 1.8 0 1 0 3.6 0a1.8 1.8 0 1 0-3.6 0M733 277.6a1.8 1.8 0 1 0 3.6 0a1.8 1.8 0 1 0-3.6 0M827.1 228.9a1.8 1.8 0 1 0 3.6 0a1.8 1.8 0 1 0-3.6 0M818.8 230.2a1.8 1.8 0 1 0 3.6 0a1.8 1.8 0 1 0-3.6 0M838.6 217.3a1.8 1.8 0 1 0 3.6 0a1.8 1.8 0 1 0-3.6 0M744.7 269.7a1.8 1.8 0 1 0 3.6 0a1.8 1.8 0 1 0-3.6 0M720.2 283.6a1.8 1.8 0 1 0 3.6 0a1.8 1.8 0 1 0-3.6 0M739 275.5a1.8 1.8 0 1 0 3.6 0a1.8 1.8 0 1 0-3.6 0M800.4 248.5a1.8 1.8 0 1 0 3.6 0a1.8 1.8 0 1 0-3.6 0M860.2 213a1.8 1.8 0 1 0 3.6 0a1.8 1.8 0 1 0-3.6 0M830.1 227.9a1.8 1.8 0 1 0 3.6 0a1.8 1.8 0 1 0-3.6 0M861.6 212.4a1.8 1.8 0 1 0 3.6 0a1.8 1.8 0 1 0-3.6 0M751.5 271a1.8 1.8 0 1 0 3.6 0a1.8 1.8 0 1 0-3.6 0M872 215.8a1.8 1.8 0 1 0 3.6 0a1.8 1.8 0 1 0-3.6 0M729.4 276.5a1.8 1.8 0 1 0 3.6 0a1.8 1.8 0 1 0-3.6 0M829.5 223.8a1.8 1.8 0 1 0 3.6 0a1.8 1.8 0 1 0-3.6 0M736.4 285.4a1.8 1.8 0 1 0 3.6 0a1.8 1.8 0 1 0-3.6 0M854.6 215.4a1.8 1.8 0 1 0 3.6 0a1.8 1.8 0 1 0-3.6 0M723.7 281.1a1.8 1.8 0 1 0 3.6 0a1.8 1.8 0 1 0-3.6 0M785.2 255a1.8 1.8 0 1 0 3.6 0a1.8 1.8 0 1 0-3.6 0M737.9 279.6a1.8 1.8 0 1 0 3.6 0a1.8 1.8 0 1 0-3.6 0M853 218.6a1.8 1.8 0 1 0 3.6 0a1.8 1.8 0 1 0-3.6 0M747.9 268.9a1.8 1.8 0 1 0 3.6 0a1.8 1.8 0 1 0-3.6 0M857.1 215a1.8 1.8 0 1 0 3.6 0a1.8 1.8 0 1 0-3.6 0M814.6 227.5a1.8 1.8 0 1 0 3.6 0a1.8 1.8 0 1 0-3.6 0M686.6 296.1a1.8 1.8 0 1 0 3.6 0a1.8 1.8 0 1 0-3.6 0M857.4 213.4a1.8 1.8 0 1 0 3.6 0a1.8 1.8 0 1 0-3.6 0M826 229.6a1.8 1.8 0 1 0 3.6 0a1.8 1.8 0 1 0-3.6 0M748.3 271.9a1.8 1.8 0 1 0 3.6 0a1.8 1.8 0 1 0-3.6 0M749.8 264.7a1.8 1.8 0 1 0 3.6 0a1.8 1.8 0 1 0-3.6 0M750.3 271.2a1.8 1.8 0 1 0 3.6 0a1.8 1.8 0 1 0-3.6 0M747 265.3a1.8 1.8 0 1 0 3.6 0a1.8 1.8 0 1 0-3.6 0M701.4 288.7a1.8 1.8 0 1 0 3.6 0a1.8 1.8 0 1 0-3.6 0M737.7 279.6a1.8 1.8 0 1 0 3.6 0a1.8 1.8 0 1 0-3.6 0M707.5 287.9a1.8 1.8 0 1 0 3.6 0a1.8 1.8 0 1 0-3.6 0M730.7 274.4a1.8 1.8 0 1 0 3.6 0a1.8 1.8 0 1 0-3.6 0M760.8 261.2a1.8 1.8 0 1 0 3.6 0a1.8 1.8 0 1 0-3.6 0M792.9 250.9a1.8 1.8 0 1 0 3.6 0a1.8 1.8 0 1 0-3.6 0M722.3 283.8a1.8 1.8 0 1 0 3.6 0a1.8 1.8 0 1 0-3.6 0M825.6 229.1a1.8 1.8 0 1 0 3.6 0a1.8 1.8 0 1 0-3.6 0M769.5 258.7a1.8 1.8 0 1 0 3.6 0a1.8 1.8 0 1 0-3.6 0M783.5 252.2a1.8 1.8 0 1 0 3.6 0a1.8 1.8 0 1 0-3.6 0M836.8 226a1.8 1.8 0 1 0 3.6 0a1.8 1.8 0 1 0-3.6 0M728.1 276.6a1.8 1.8 0 1 0 3.6 0a1.8 1.8 0 1 0-3.6 0M738 273.4a1.8 1.8 0 1 0 3.6 0a1.8 1.8 0 1 0-3.6 0M821.5 232.7a1.8 1.8 0 1 0 3.6 0a1.8 1.8 0 1 0-3.6 0M764.7 266a1.8 1.8 0 1 0 3.6 0a1.8 1.8 0 1 0-3.6 0M799.7 242.3a1.8 1.8 0 1 0 3.6 0a1.8 1.8 0 1 0-3.6 0M781.8 250.5a1.8 1.8 0 1 0 3.6 0a1.8 1.8 0 1 0-3.6 0M711.7 284.8a1.8 1.8 0 1 0 3.6 0a1.8 1.8 0 1 0-3.6 0M784.1 254.4a1.8 1.8 0 1 0 3.6 0a1.8 1.8 0 1 0-3.6 0M768.8 259.1a1.8 1.8 0 1 0 3.6 0a1.8 1.8 0 1 0-3.6 0M832.7 229.4a1.8 1.8 0 1 0 3.6 0a1.8 1.8 0 1 0-3.6 0M789.6 242.1a1.8 1.8 0 1 0 3.6 0a1.8 1.8 0 1 0-3.6 0M857.4 207.8a1.8 1.8 0 1 0 3.6 0a1.8 1.8 0 1 0-3.6 0M841 225.4a1.8 1.8 0 1 0 3.6 0a1.8 1.8 0 1 0-3.6 0M863.2 220.1a1.8 1.8 0 1 0 3.6 0a1.8 1.8 0 1 0-3.6 0M745.1 274.6a1.8 1.8 0 1 0 3.6 0a1.8 1.8 0 1 0-3.6 0M773.2 259.1a1.8 1.8 0 1 0 3.6 0a1.8 1.8 0 1 0-3.6 0M723.5 283a1.8 1.8 0 1 0 3.6 0a1.8 1.8 0 1 0-3.6 0M862.6 213.7a1.8 1.8 0 1 0 3.6 0a1.8 1.8 0 1 0-3.6 0M755.1 260.4a1.8 1.8 0 1 0 3.6 0a1.8 1.8 0 1 0-3.6 0M792.3 239.8a1.8 1.8 0 1 0 3.6 0a1.8 1.8 0 1 0-3.6 0M730.7 279.4a1.8 1.8 0 1 0 3.6 0a1.8 1.8 0 1 0-3.6 0M844.8 222.1a1.8 1.8 0 1 0 3.6 0a1.8 1.8 0 1 0-3.6 0M689.6 298.3a1.8 1.8 0 1 0 3.6 0a1.8 1.8 0 1 0-3.6 0M716.1 290a1.8 1.8 0 1 0 3.6 0a1.8 1.8 0 1 0-3.6 0M829.2 224a1.8 1.8 0 1 0 3.6 0a1.8 1.8 0 1 0-3.6 0M827.6 231.5a1.8 1.8 0 1 0 3.6 0a1.8 1.8 0 1 0-3.6 0M707.6 294.4a1.8 1.8 0 1 0 3.6 0a1.8 1.8 0 1 0-3.6 0M855 218.8a1.8 1.8 0 1 0 3.6 0a1.8 1.8 0 1 0-3.6 0M841.7 219.4a1.8 1.8 0 1 0 3.6 0a1.8 1.8 0 1 0-3.6 0M793.7 247a1.8 1.8 0 1 0 3.6 0a1.8 1.8 0 1 0-3.6 0M751 263.5a1.8 1.8 0 1 0 3.6 0a1.8 1.8 0 1 0-3.6 0M712.7 289.6a1.8 1.8 0 1 0 3.6 0a1.8 1.8 0 1 0-3.6 0M829.7 228.8a1.8 1.8 0 1 0 3.6 0a1.8 1.8 0 1 0-3.6 0M863.8 209.5a1.8 1.8 0 1 0 3.6 0a1.8 1.8 0 1 0-3.6 0M814 237.9a1.8 1.8 0 1 0 3.6 0a1.8 1.8 0 1 0-3.6 0M697.1 285.8a1.8 1.8 0 1 0 3.6 0a1.8 1.8 0 1 0-3.6 0M792.8 251.6a1.8 1.8 0 1 0 3.6 0a1.8 1.8 0 1 0-3.6 0M837.1 219.4a1.8 1.8 0 1 0 3.6 0a1.8 1.8 0 1 0-3.6 0M734.9 275.6a1.8 1.8 0 1 0 3.6 0a1.8 1.8 0 1 0-3.6 0M798.5 244.6a1.8 1.8 0 1 0 3.6 0a1.8 1.8 0 1 0-3.6 0M765.7 261.6a1.8 1.8 0 1 0 3.6 0a1.8 1.8 0 1 0-3.6 0M777.4 258a1.8 1.8 0 1 0 3.6 0a1.8 1.8 0 1 0-3.6 0M733 278.3a1.8 1.8 0 1 0 3.6 0a1.8 1.8 0 1 0-3.6 0M780.6 257.1a1.8 1.8 0 1 0 3.6 0a1.8 1.8 0 1 0-3.6 0M749.9 264.3a1.8 1.8 0 1 0 3.6 0a1.8 1.8 0 1 0-3.6 0M746.5 266.2a1.8 1.8 0 1 0 3.6 0a1.8 1.8 0 1 0-3.6 0M695.7 293.6a1.8 1.8 0 1 0 3.6 0a1.8 1.8 0 1 0-3.6 0M861 207.6a1.8 1.8 0 1 0 3.6 0a1.8 1.8 0 1 0-3.6 0M704.4 297.5a1.8 1.8 0 1 0 3.6 0a1.8 1.8 0 1 0-3.6 0M794.1 244.1a1.8 1.8 0 1 0 3.6 0a1.8 1.8 0 1 0-3.6 0M814.8 235.5a1.8 1.8 0 1 0 3.6 0a1.8 1.8 0 1 0-3.6 0M796.9 243.1a1.8 1.8 0 1 0 3.6 0a1.8 1.8 0 1 0-3.6 0M846 223.1a1.8 1.8 0 1 0 3.6 0a1.8 1.8 0 1 0-3.6 0M750 267.8a1.8 1.8 0 1 0 3.6 0a1.8 1.8 0 1 0-3.6 0M860.4 212.1a1.8 1.8 0 1 0 3.6 0a1.8 1.8 0 1 0-3.6 0M824 231.4a1.8 1.8 0 1 0 3.6 0a1.8 1.8 0 1 0-3.6 0M741.4 273.4a1.8 1.8 0 1 0 3.6 0a1.8 1.8 0 1 0-3.6 0M727.1 278.1a1.8 1.8 0 1 0 3.6 0a1.8 1.8 0 1 0-3.6 0M723.9 285a1.8 1.8 0 1 0 3.6 0a1.8 1.8 0 1 0-3.6 0M756 269.1a1.8 1.8 0 1 0 3.6 0a1.8 1.8 0 1 0-3.6 0M771.1 252.7a1.8 1.8 0 1 0 3.6 0a1.8 1.8 0 1 0-3.6 0M732.1 268.1a1.8 1.8 0 1 0 3.6 0a1.8 1.8 0 1 0-3.6 0M838.9 227.8a1.8 1.8 0 1 0 3.6 0a1.8 1.8 0 1 0-3.6 0M806.4 235.4a1.8 1.8 0 1 0 3.6 0a1.8 1.8 0 1 0-3.6 0M791.4 248.2a1.8 1.8 0 1 0 3.6 0a1.8 1.8 0 1 0-3.6 0M703.1 291.9a1.8 1.8 0 1 0 3.6 0a1.8 1.8 0 1 0-3.6 0M833.8 221.7a1.8 1.8 0 1 0 3.6 0a1.8 1.8 0 1 0-3.6 0M845.3 220.1a1.8 1.8 0 1 0 3.6 0a1.8 1.8 0 1 0-3.6 0M845.8 215.8a1.8 1.8 0 1 0 3.6 0a1.8 1.8 0 1 0-3.6 0M733.2 275.9a1.8 1.8 0 1 0 3.6 0a1.8 1.8 0 1 0-3.6 0M736.8 273.3a1.8 1.8 0 1 0 3.6 0a1.8 1.8 0 1 0-3.6 0M813.8 238.4a1.8 1.8 0 1 0 3.6 0a1.8 1.8 0 1 0-3.6 0M719 280.7a1.8 1.8 0 1 0 3.6 0a1.8 1.8 0 1 0-3.6 0M784.9 242.1a1.8 1.8 0 1 0 3.6 0a1.8 1.8 0 1 0-3.6 0M726.9 274.6a1.8 1.8 0 1 0 3.6 0a1.8 1.8 0 1 0-3.6 0M780.4 252.1a1.8 1.8 0 1 0 3.6 0a1.8 1.8 0 1 0-3.6 0M767.9 260.7a1.8 1.8 0 1 0 3.6 0a1.8 1.8 0 1 0-3.6 0M736.8 275.6a1.8 1.8 0 1 0 3.6 0a1.8 1.8 0 1 0-3.6 0M826.5 225.5a1.8 1.8 0 1 0 3.6 0a1.8 1.8 0 1 0-3.6 0M773.6 254.6a1.8 1.8 0 1 0 3.6 0a1.8 1.8 0 1 0-3.6 0M755.8 266.1a1.8 1.8 0 1 0 3.6 0a1.8 1.8 0 1 0-3.6 0M826.9 223.9a1.8 1.8 0 1 0 3.6 0a1.8 1.8 0 1 0-3.6 0M750 271.7a1.8 1.8 0 1 0 3.6 0a1.8 1.8 0 1 0-3.6 0M725.8 275.6a1.8 1.8 0 1 0 3.6 0a1.8 1.8 0 1 0-3.6 0M766 258.7a1.8 1.8 0 1 0 3.6 0a1.8 1.8 0 1 0-3.6 0M733.7 273a1.8 1.8 0 1 0 3.6 0a1.8 1.8 0 1 0-3.6 0M777.4 258.9a1.8 1.8 0 1 0 3.6 0a1.8 1.8 0 1 0-3.6 0M789.7 251a1.8 1.8 0 1 0 3.6 0a1.8 1.8 0 1 0-3.6 0M751.4 273a1.8 1.8 0 1 0 3.6 0a1.8 1.8 0 1 0-3.6 0M803.9 235.7a1.8 1.8 0 1 0 3.6 0a1.8 1.8 0 1 0-3.6 0M743.4 274.8a1.8 1.8 0 1 0 3.6 0a1.8 1.8 0 1 0-3.6 0M857.1 208.1a1.8 1.8 0 1 0 3.6 0a1.8 1.8 0 1 0-3.6 0M846.5 220.2a1.8 1.8 0 1 0 3.6 0a1.8 1.8 0 1 0-3.6 0M854.3 213.6a1.8 1.8 0 1 0 3.6 0a1.8 1.8 0 1 0-3.6 0M868.3 214.3a1.8 1.8 0 1 0 3.6 0a1.8 1.8 0 1 0-3.6 0M761.3 266.1a1.8 1.8 0 1 0 3.6 0a1.8 1.8 0 1 0-3.6 0M847.1 220a1.8 1.8 0 1 0 3.6 0a1.8 1.8 0 1 0-3.6 0M775.4 253.7a1.8 1.8 0 1 0 3.6 0a1.8 1.8 0 1 0-3.6 0M821.1 236.2a1.8 1.8 0 1 0 3.6 0a1.8 1.8 0 1 0-3.6 0M798.4 241.7a1.8 1.8 0 1 0 3.6 0a1.8 1.8 0 1 0-3.6 0M822.7 233.7a1.8 1.8 0 1 0 3.6 0a1.8 1.8 0 1 0-3.6 0M823.8 226.3a1.8 1.8 0 1 0 3.6 0a1.8 1.8 0 1 0-3.6 0M707.7 291.2a1.8 1.8 0 1 0 3.6 0a1.8 1.8 0 1 0-3.6 0M815.8 235.4a1.8 1.8 0 1 0 3.6 0a1.8 1.8 0 1 0-3.6 0M735.1 271a1.8 1.8 0 1 0 3.6 0a1.8 1.8 0 1 0-3.6 0M761.8 253.9a1.8 1.8 0 1 0 3.6 0a1.8 1.8 0 1 0-3.6 0M688.9 298.9a1.8 1.8 0 1 0 3.6 0a1.8 1.8 0 1 0-3.6 0M824.9 225.2a1.8 1.8 0 1 0 3.6 0a1.8 1.8 0 1 0-3.6 0M801.7 244.4a1.8 1.8 0 1 0 3.6 0a1.8 1.8 0 1 0-3.6 0M755.5 266.6a1.8 1.8 0 1 0 3.6 0a1.8 1.8 0 1 0-3.6 0M804.7 242.8a1.8 1.8 0 1 0 3.6 0a1.8 1.8 0 1 0-3.6 0M820.1 229.5a1.8 1.8 0 1 0 3.6 0a1.8 1.8 0 1 0-3.6 0M717.8 288.2a1.8 1.8 0 1 0 3.6 0a1.8 1.8 0 1 0-3.6 0M748.8 270.3a1.8 1.8 0 1 0 3.6 0a1.8 1.8 0 1 0-3.6 0M828.7 228.7a1.8 1.8 0 1 0 3.6 0a1.8 1.8 0 1 0-3.6 0M785.6 251.3a1.8 1.8 0 1 0 3.6 0a1.8 1.8 0 1 0-3.6 0M856.6 218.9a1.8 1.8 0 1 0 3.6 0a1.8 1.8 0 1 0-3.6 0M776.4 254.5a1.8 1.8 0 1 0 3.6 0a1.8 1.8 0 1 0-3.6 0M731.3 278.6a1.8 1.8 0 1 0 3.6 0a1.8 1.8 0 1 0-3.6 0M828.8 228.3a1.8 1.8 0 1 0 3.6 0a1.8 1.8 0 1 0-3.6 0M716.6 288.2a1.8 1.8 0 1 0 3.6 0a1.8 1.8 0 1 0-3.6 0M818.8 231.5a1.8 1.8 0 1 0 3.6 0a1.8 1.8 0 1 0-3.6 0M751 268a1.8 1.8 0 1 0 3.6 0a1.8 1.8 0 1 0-3.6 0M691.1 295.5a1.8 1.8 0 1 0 3.6 0a1.8 1.8 0 1 0-3.6 0M788.7 251.2a1.8 1.8 0 1 0 3.6 0a1.8 1.8 0 1 0-3.6 0M815.8 232.3a1.8 1.8 0 1 0 3.6 0a1.8 1.8 0 1 0-3.6 0M837.2 219.4a1.8 1.8 0 1 0 3.6 0a1.8 1.8 0 1 0-3.6 0M793 248.9a1.8 1.8 0 1 0 3.6 0a1.8 1.8 0 1 0-3.6 0M743.8 272.6a1.8 1.8 0 1 0 3.6 0a1.8 1.8 0 1 0-3.6 0M861.1 211.9a1.8 1.8 0 1 0 3.6 0a1.8 1.8 0 1 0-3.6 0M796.2 244.3a1.8 1.8 0 1 0 3.6 0a1.8 1.8 0 1 0-3.6 0M691.3 296.9a1.8 1.8 0 1 0 3.6 0a1.8 1.8 0 1 0-3.6 0M749.1 265.4a1.8 1.8 0 1 0 3.6 0a1.8 1.8 0 1 0-3.6 0M806.8 241.7a1.8 1.8 0 1 0 3.6 0a1.8 1.8 0 1 0-3.6 0M812.1 235.6a1.8 1.8 0 1 0 3.6 0a1.8 1.8 0 1 0-3.6 0M822 234.9a1.8 1.8 0 1 0 3.6 0a1.8 1.8 0 1 0-3.6 0M705.6 288.4a1.8 1.8 0 1 0 3.6 0a1.8 1.8 0 1 0-3.6 0M789.9 254.6a1.8 1.8 0 1 0 3.6 0a1.8 1.8 0 1 0-3.6 0M739 269.4a1.8 1.8 0 1 0 3.6 0a1.8 1.8 0 1 0-3.6 0M652.6 316.7a1.8 1.8 0 1 0 3.6 0a1.8 1.8 0 1 0-3.6 0M656 320.8a1.8 1.8 0 1 0 3.6 0a1.8 1.8 0 1 0-3.6 0M876.3 205.1a1.8 1.8 0 1 0 3.6 0a1.8 1.8 0 1 0-3.6 0M880.6 208.4a1.8 1.8 0 1 0 3.6 0a1.8 1.8 0 1 0-3.6 0M872.1 211.7a1.8 1.8 0 1 0 3.6 0a1.8 1.8 0 1 0-3.6 0M866.1 203.7a1.8 1.8 0 1 0 3.6 0a1.8 1.8 0 1 0-3.6 0" fill="none" stroke="#ff3838" stroke-width="0.65" opacity="0.85"/>
<path d="M791.2 270.8 L696 167.8" stroke="#333" stroke-width="0.6" marker-end="url(#ah2)"/>
<g font-size="9.9" fill="#1a1a1a" stroke="#1a1a1a" stroke-width="0.2">
<text x="649" y="157.3">increasing opacity</text>
<text x="812.8" y="113.5">beads</text>
<text x="837.8" y="149.8">RBCs + 0.02% g</text>
<text x="877" y="172.8">RBCs + 0.002% g</text>
<text x="887.8" y="200.6">RBCs</text>
</g>
<rect x="584.6" y="11.1" width="425.4" height="334.4" fill="none" stroke="#000" stroke-width="1.5"/>
<path d="M669.7 345.5v-4.4M669.7 11.1v4.4M754.8 345.5v-4.4M754.8 11.1v4.4M839.8 345.5v-4.4M839.8 11.1v4.4M924.9 345.5v-4.4M924.9 11.1v4.4M584.6 312.1h4.4M1010.0 312.1h-4.4M584.6 278.6h4.4M1010.0 278.6h-4.4M584.6 245.2h4.4M1010.0 245.2h-4.4M584.6 211.7h4.4M1010.0 211.7h-4.4M584.6 178.3h4.4M1010.0 178.3h-4.4M584.6 144.9h4.4M1010.0 144.9h-4.4M584.6 111.4h4.4M1010.0 111.4h-4.4M584.6 78h4.4M1010.0 78h-4.4M584.6 44.5h4.4M1010.0 44.5h-4.4" stroke="#000" stroke-width="1.3" fill="none"/>
<g class="tk" text-anchor="middle">
<text x="584.6" y="360.8">0.2</text>
<text x="669.7" y="360.8">0.3</text>
<text x="754.8" y="360.8">0.4</text>
<text x="839.8" y="360.8">0.5</text>
<text x="924.9" y="360.8">0.6</text>
<text x="1009" y="360.8">0.7</text>
</g><g class="tk" text-anchor="end">
<text x="581.2" y="350.4">0.2</text>
<text x="581.2" y="316.2">0.25</text>
<text x="581.2" y="282.7">0.3</text>
<text x="581.2" y="249.3">0.35</text>
<text x="581.2" y="215.8">0.4</text>
<text x="581.2" y="182.4">0.45</text>
<text x="581.2" y="149">0.5</text>
<text x="581.2" y="115.5">0.55</text>
<text x="581.2" y="82.1">0.6</text>
<text x="581.2" y="48.6">0.65</text>
<text x="581.2" y="15.2">0.7</text>
</g>
<text x="796.8" y="377.8" font-size="16.6" text-anchor="middle" fill="#111" stroke="#111" stroke-width="0.25">signal amplitude at 602 kHz [V]</text>
<text transform="translate(550 177) rotate(-90)" font-size="16.5" text-anchor="middle" fill="#111" stroke="#111" stroke-width="0.25">signal amplitude at 10 MHz [V]</text>
<rect x="774.3" y="15.8" width="231.3" height="78.7" fill="#fff" stroke="#888" stroke-width="1"/>
<g font-size="13.15" fill="#111" stroke="#111" stroke-width="0.45">
<text x="811.8" y="30">5 µm beads</text>
<text x="811.8" y="45">6 µm beads</text>
<text x="811.8" y="60.1">RBCs</text>
<text x="811.8" y="75.2">RBCs + 0.002% glutaraldehyde</text>
<text x="811.8" y="90.2">RBCs + 0.02% glutaraldehyde</text>
</g>
<rect x="792" y="24.8" width="1.5" height="1.5" fill="#2a3fb0"/>
<rect x="792" y="39.8" width="1.5" height="1.5" fill="#d6247f"/>
<circle cx="792.8" cy="55" r="1.6" fill="none" stroke="#ff3838" stroke-width="0.7" opacity="0.8"/>
<rect x="791.2" y="68.5" width="3.2" height="3.2" fill="none" stroke="#3cb83a" stroke-width="0.7" opacity="0.8"/>
<path d="M792.8 83.6l1.7 3.1h-3.4z" fill="none" stroke="#2ccae4" stroke-width="0.7" opacity="0.8"/>
</g>
<g id="opacity">
<path d="M419.8 600.2V622M417 600.2h5.6M417 622h5.6M440.6 581.1V602.9M437.8 581.1h5.6M437.8 602.9h5.6M463.9 569V589.1M461.1 569h5.6M461.1 589.1h5.6M487.7 546.8V567M484.9 546.8h5.6M484.9 567h5.6M506.1 579.4V601.2M503.3 579.4h5.6M503.3 601.2h5.6M519.3 594.1V615.9M516.5 594.1h5.6M516.5 615.9h5.6M540.1 611.6V635.1M537.3 611.6h5.6M537.3 635.1h5.6M562.1 644.5V663.3M559.3 644.5h5.6M559.3 663.3h5.6M582.9 652.2V673.7M580.1 652.2h5.6M580.1 673.7h5.6M605 667.3V693.4M602.2 667.3h5.6M602.2 693.4h5.6M630.1 673V704.2M627.3 673h5.6M627.3 704.2h5.6M644.7 707.9V739.1M641.9 707.9h5.6M641.9 739.1h5.6" stroke="#3a3a3a" stroke-width="0.9" fill="none"/>
<path d="M419.8 610.2L440.6 591.1L463.9 579L487.7 556.9L506.1 589.4L519.3 604.2L540.1 623.3L562.1 653.9L582.9 662.9L605 680L630.1 688.1L644.7 723" stroke="#444" stroke-width="0.9" fill="none"/>
<circle cx="419.8" cy="610.2" r="4.7" fill="#f2141c" stroke="#c01018" stroke-width="0.5"/>
<circle cx="440.6" cy="591.1" r="4.7" fill="#f2141c" stroke="#c01018" stroke-width="0.5"/>
<circle cx="463.9" cy="579" r="4.7" fill="#f2141c" stroke="#c01018" stroke-width="0.5"/>
<circle cx="487.7" cy="556.9" r="4.7" fill="#f2141c" stroke="#c01018" stroke-width="0.5"/>
<circle cx="506.1" cy="589.4" r="4.7" fill="#f2141c" stroke="#c01018" stroke-width="0.5"/>
<circle cx="519.3" cy="604.2" r="4.7" fill="#f2141c" stroke="#c01018" stroke-width="0.5"/>
<circle cx="540.1" cy="623.3" r="4.7" fill="#f2141c" stroke="#c01018" stroke-width="0.5"/>
<circle cx="562.1" cy="653.9" r="4.7" fill="#f2141c" stroke="#c01018" stroke-width="0.5"/>
<circle cx="582.9" cy="662.9" r="4.7" fill="#f2141c" stroke="#c01018" stroke-width="0.5"/>
<circle cx="605" cy="680" r="4.7" fill="#f2141c" stroke="#c01018" stroke-width="0.5"/>
<circle cx="630.1" cy="688.1" r="4.7" fill="#f2141c" stroke="#c01018" stroke-width="0.5"/>
<circle cx="644.7" cy="723" r="4.7" fill="#f2141c" stroke="#c01018" stroke-width="0.5"/>
<path d="M419.8 600.2V622M417 600.2h5.6M417 622h5.6M440.6 581.1V602.9M437.8 581.1h5.6M437.8 602.9h5.6M463.9 569V589.1M461.1 569h5.6M461.1 589.1h5.6M487.7 546.8V567M484.9 546.8h5.6M484.9 567h5.6M506.1 579.4V601.2M503.3 579.4h5.6M503.3 601.2h5.6M519.3 594.1V615.9M516.5 594.1h5.6M516.5 615.9h5.6M540.1 611.6V635.1M537.3 611.6h5.6M537.3 635.1h5.6M562.1 644.5V663.3M559.3 644.5h5.6M559.3 663.3h5.6M582.9 652.2V673.7M580.1 652.2h5.6M580.1 673.7h5.6M605 667.3V693.4M602.2 667.3h5.6M602.2 693.4h5.6M630.1 673V704.2M627.3 673h5.6M627.3 704.2h5.6M644.7 707.9V739.1M641.9 707.9h5.6M641.9 739.1h5.6" stroke="#3a3a3a" stroke-width="0.7" opacity="0.55" fill="none"/>
<path d="M419.8 578.4V630.4M416.6 578.4h6.4M416.6 630.4h6.4M417 591.8h5.6M417 620.3h5.6M440.6 566.6V606.9M437.4 566.6h6.4M437.4 606.9h6.4M437.8 580h5.6M437.8 598.5h5.6M463.9 547.2V595.1M460.7 547.2h6.4M460.7 595.1h6.4M461.1 565h5.6M461.1 585.1h5.6M487.7 534.8V576M484.5 534.8h6.4M484.5 576h6.4M484.9 545.8h5.6M484.9 566h5.6M506.1 541.5V582.4M502.9 541.5h6.4M502.9 582.4h6.4M503.3 552.2h5.6M503.3 572.3h5.6M519.3 562.6V593.5M516.1 562.6h6.4M516.1 593.5h6.4M516.5 573.3h5.6M516.5 586.8h5.6M540.1 567.6V606.2M536.9 567.6h6.4M536.9 606.2h6.4M537.3 577.7h5.6M537.3 594.5h5.6M562.1 556.9V592.1M558.9 556.9h6.4M558.9 592.1h6.4M559.3 567h5.6M559.3 582.1h5.6M582.9 543.1V586.8M579.7 543.1h6.4M579.7 586.8h6.4M580.1 554.9h5.6M580.1 575h5.6M605 537.1V570.7M601.8 537.1h6.4M601.8 570.7h6.4M602.2 545.5h5.6M602.2 558.9h5.6M630.1 516V567.3M626.9 516h6.4M626.9 567.3h6.4M627.3 532.1h5.6M627.3 552.2h5.6M644.7 572.7V607.9M641.5 572.7h6.4M641.5 607.9h6.4M641.9 582.7h5.6M641.9 599.5h5.6" stroke="#3a3a3a" stroke-width="0.9" fill="none"/>
<path d="M419.8 603.2L440.6 586.4L463.9 573L487.7 555.9L506.1 562.3L519.3 580L540.1 584.4L562.1 573.7L582.9 565L605 552.2L630.1 542.1L644.7 589.4" stroke="#3a3a3a" stroke-width="0.75" fill="none"/>
<path d="M419.8 606.9L440.6 590.1L463.9 576.7L487.7 555.9L506.1 562.3L519.3 580L540.1 584.4L562.1 573.7L582.9 565L605 552.2L630.1 542.1L644.7 589.4" stroke="#3a3a3a" stroke-width="0.75" fill="none"/>
<path d="M414.3 598.5h11l-5.5 9.5z" fill="#fff" stroke="#555" stroke-width="0.9"/>
<rect x="415.8" y="601.2" width="8" height="8" fill="#fff" stroke="#555" stroke-width="0.9"/>
<path d="M414.3 611.2h11l-5.5 -9.5z" fill="#fff" stroke="#555" stroke-width="0.9"/>
<path d="M435.1 581.8h11l-5.5 9.5z" fill="#fff" stroke="#555" stroke-width="0.9"/>
<rect x="436.6" y="584.4" width="8" height="8" fill="#fff" stroke="#555" stroke-width="0.9"/>
<path d="M435.1 594.5h11l-5.5 -9.5z" fill="#fff" stroke="#555" stroke-width="0.9"/>
<path d="M458.4 568.3h11l-5.5 9.5z" fill="#fff" stroke="#555" stroke-width="0.9"/>
<rect x="459.9" y="571" width="8" height="8" fill="#fff" stroke="#555" stroke-width="0.9"/>
<path d="M458.4 581h11l-5.5 -9.5z" fill="#fff" stroke="#555" stroke-width="0.9"/>
<path d="M482.2 549.2h11l-5.5 9.5z" fill="#fff" stroke="#555" stroke-width="0.9"/>
<rect x="483.7" y="551.9" width="8" height="8" fill="#fff" stroke="#555" stroke-width="0.9"/>
<path d="M482.2 561.9h11l-5.5 -9.5z" fill="#fff" stroke="#555" stroke-width="0.9"/>
<path d="M500.6 557.2h11l-5.5 9.5z" fill="#fff" stroke="#555" stroke-width="0.9"/>
<rect x="502.1" y="558.3" width="8" height="8" fill="#fff" stroke="#555" stroke-width="0.9"/>
<path d="M500.6 567.1h11l-5.5 -9.5z" fill="#fff" stroke="#555" stroke-width="0.9"/>
<path d="M513.8 575h11l-5.5 9.5z" fill="#fff" stroke="#555" stroke-width="0.9"/>
<rect x="515.3" y="576" width="8" height="8" fill="#fff" stroke="#555" stroke-width="0.9"/>
<path d="M513.8 584.9h11l-5.5 -9.5z" fill="#fff" stroke="#555" stroke-width="0.9"/>
<path d="M534.6 579.3h11l-5.5 9.5z" fill="#fff" stroke="#555" stroke-width="0.9"/>
<rect x="536.1" y="580.4" width="8" height="8" fill="#fff" stroke="#555" stroke-width="0.9"/>
<path d="M534.6 589.2h11l-5.5 -9.5z" fill="#fff" stroke="#555" stroke-width="0.9"/>
<path d="M556.6 568.6h11l-5.5 9.5z" fill="#fff" stroke="#555" stroke-width="0.9"/>
<rect x="558.1" y="569.7" width="8" height="8" fill="#fff" stroke="#555" stroke-width="0.9"/>
<path d="M556.6 578.5h11l-5.5 -9.5z" fill="#fff" stroke="#555" stroke-width="0.9"/>
<path d="M577.4 559.9h11l-5.5 9.5z" fill="#fff" stroke="#555" stroke-width="0.9"/>
<rect x="578.9" y="561" width="8" height="8" fill="#fff" stroke="#555" stroke-width="0.9"/>
<path d="M577.4 569.8h11l-5.5 -9.5z" fill="#fff" stroke="#555" stroke-width="0.9"/>
<path d="M599.5 547.1h11l-5.5 9.5z" fill="#fff" stroke="#555" stroke-width="0.9"/>
<rect x="601" y="548.2" width="8" height="8" fill="#fff" stroke="#555" stroke-width="0.9"/>
<path d="M599.5 557h11l-5.5 -9.5z" fill="#fff" stroke="#555" stroke-width="0.9"/>
<path d="M624.6 537.1h11l-5.5 9.5z" fill="#fff" stroke="#555" stroke-width="0.9"/>
<rect x="626.1" y="538.1" width="8" height="8" fill="#fff" stroke="#555" stroke-width="0.9"/>
<path d="M624.6 546.9h11l-5.5 -9.5z" fill="#fff" stroke="#555" stroke-width="0.9"/>
<path d="M639.2 584.4h11l-5.5 9.5z" fill="#fff" stroke="#555" stroke-width="0.9"/>
<rect x="640.7" y="585.4" width="8" height="8" fill="#fff" stroke="#555" stroke-width="0.9"/>
<path d="M639.2 594.2h11l-5.5 -9.5z" fill="#fff" stroke="#555" stroke-width="0.9"/>
<text x="659.2" y="587.7" font-size="11" fill="#2a2a2a" stroke="#2a2a2a" stroke-width="0.2"><tspan font-family="DejaVu Sans,sans-serif" font-size="11.4">←</tspan><tspan x="674.3">beads</tspan></text>
<text x="659.2" y="726.8" font-size="11" fill="#2a2a2a" stroke="#2a2a2a" stroke-width="0.2"><tspan font-family="DejaVu Sans,sans-serif" font-size="11.4">←</tspan><tspan x="673.6">RBCs</tspan></text>
<rect x="320.3" y="426" width="426.99999999999994" height="335" fill="none" stroke="#262626" stroke-width="1.8"/>
<path d="M363.2 761v-2.8M363.2 426v2.8M388.2 761v-2.8M388.2 426v2.8M406 761v-2.8M406 426v2.8M419.8 761v-2.8M419.8 426v2.8M431.1 761v-2.8M431.1 426v2.8M440.6 761v-2.8M440.6 426v2.8M448.9 761v-2.8M448.9 426v2.8M456.1 761v-2.8M456.1 426v2.8M462.6 761v-4.6M462.6 426v4.6M505.5 761v-2.8M505.5 426v2.8M530.6 761v-2.8M530.6 426v2.8M548.4 761v-2.8M548.4 426v2.8M562.1 761v-2.8M562.1 426v2.8M573.4 761v-2.8M573.4 426v2.8M582.9 761v-2.8M582.9 426v2.8M591.2 761v-2.8M591.2 426v2.8M598.5 761v-2.8M598.5 426v2.8M605 761v-4.6M605 426v4.6M647.9 761v-2.8M647.9 426v2.8M672.9 761v-2.8M672.9 426v2.8M690.7 761v-2.8M690.7 426v2.8M704.5 761v-2.8M704.5 426v2.8M715.8 761v-2.8M715.8 426v2.8M725.3 761v-2.8M725.3 426v2.8M733.6 761v-2.8M733.6 426v2.8M740.8 761v-2.8M740.8 426v2.8M320.3 758.2h4.4M747.3 758.2h-4.4M320.3 724.7h4.4M747.3 724.7h-4.4M320.3 691.1h4.4M747.3 691.1h-4.4M320.3 657.6h4.4M747.3 657.6h-4.4M320.3 624h4.4M747.3 624h-4.4M320.3 590.5h4.4M747.3 590.5h-4.4M320.3 556.9h4.4M747.3 556.9h-4.4M320.3 523.4h4.4M747.3 523.4h-4.4M320.3 489.8h4.4M747.3 489.8h-4.4M320.3 456.3h4.4M747.3 456.3h-4.4" stroke="#2a2a2a" stroke-width="1.2" fill="none"/>
<g class="tk2" text-anchor="end">
<text x="316.4" y="761.9">0.5</text>
<text x="316.4" y="728.4">0.6</text>
<text x="316.4" y="694.8">0.7</text>
<text x="316.4" y="661.3">0.8</text>
<text x="316.4" y="627.7">0.9</text>
<text x="316.4" y="594.2">1</text>
<text x="316.4" y="560.6">1.1</text>
<text x="316.4" y="527.1">1.2</text>
<text x="316.4" y="493.5">1.3</text>
<text x="316.4" y="460">1.4</text>
</g><g class="tk2">
<text x="312" y="781.8">10<tspan font-size="8" dy="-9.6" dx="0.8">5</tspan></text>
<text x="454.3" y="781.8">10<tspan font-size="8" dy="-9.6" dx="0.8">6</tspan></text>
<text x="596.7" y="781.8">10<tspan font-size="8" dy="-9.6" dx="0.8">7</tspan></text>
<text x="739" y="781.8">10<tspan font-size="8" dy="-9.6" dx="0.8">8</tspan></text>
</g>
<text x="533.5" y="790.3" font-size="16.5" text-anchor="middle" fill="#2a2a2a" stroke="#2a2a2a" stroke-width="0.4">frequency (Hz)</text>
<text transform="translate(279.4 594.3) rotate(-90)" font-size="16.5" text-anchor="middle" fill="#2a2a2a" stroke="#2a2a2a" stroke-width="0.4">opacity</text>
<rect x="607.4" y="431" width="135" height="67.3" fill="#fff" stroke="#777" stroke-width="1.1"/>
<g font-size="13" fill="#222" stroke="#222" stroke-width="0.6">
<text x="646" y="446">4.0 µm beads</text>
<text x="646" y="462.1">5.14 µm beads</text>
<text x="646" y="478.2">6.0 µm beads</text>
<text x="646" y="494.3">RBCs</text>
</g>
<path d="M621 437.4h11l-5.5 9.4z" fill="#fff" stroke="#555" stroke-width="0.9"/>
<rect x="623" y="452.6" width="7.6" height="7.6" fill="#fff" stroke="#555" stroke-width="0.9"/>
<path d="M621 476.4h11l-5.5 -9.4z" fill="#fff" stroke="#555" stroke-width="0.9"/>
<path d="M614 489.2H637.5" stroke="#444" stroke-width="0.9"/>
<circle cx="626.8" cy="489.2" r="4.7" fill="#f2141c" stroke="#c01018" stroke-width="0.5"/>
</g>
</g></svg></body></html>
